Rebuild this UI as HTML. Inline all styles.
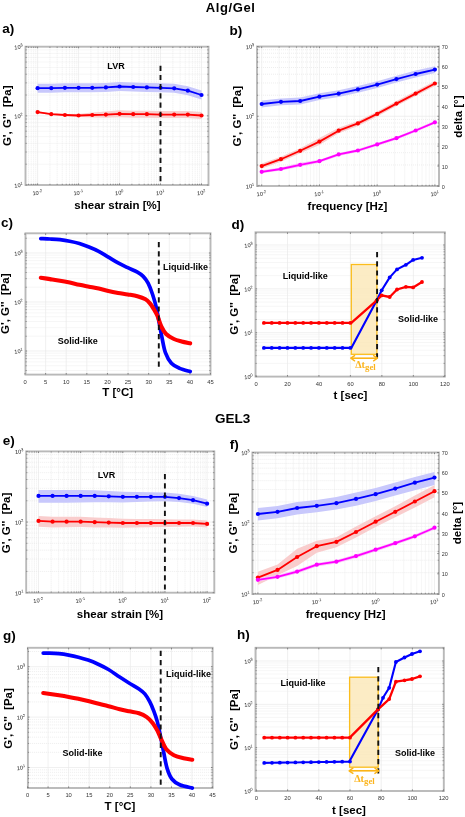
<!DOCTYPE html>
<html><head><meta charset="utf-8"><style>
html,body{margin:0;padding:0;background:#fff;width:465px;height:817px;overflow:hidden}
svg{display:block;filter:blur(0.42px)}
</style></head><body>
<svg width="465" height="817" viewBox="0 0 465 817" font-family="Liberation Sans, sans-serif">
<text x="230.6" y="11.5" font-size="13" text-anchor="middle" font-weight="bold" fill="#000" font-family="Liberation Sans" letter-spacing="0.6">Alg/Gel</text>
<text x="232.7" y="422.9" font-size="13.5" text-anchor="middle" font-weight="bold" fill="#000" font-family="Liberation Sans" style="white-space:pre">GEL3</text>
<line x1="28.51" y1="46.7" x2="28.51" y2="185" stroke="#e3e3e3" stroke-width="0.6" stroke-dasharray="1,1"/>
<line x1="31.25" y1="46.7" x2="31.25" y2="185" stroke="#e3e3e3" stroke-width="0.6" stroke-dasharray="1,1"/>
<line x1="33.63" y1="46.7" x2="33.63" y2="185" stroke="#e3e3e3" stroke-width="0.6" stroke-dasharray="1,1"/>
<line x1="35.73" y1="46.7" x2="35.73" y2="185" stroke="#e3e3e3" stroke-width="0.6" stroke-dasharray="1,1"/>
<line x1="49.93" y1="46.7" x2="49.93" y2="185" stroke="#e3e3e3" stroke-width="0.6" stroke-dasharray="1,1"/>
<line x1="57.15" y1="46.7" x2="57.15" y2="185" stroke="#e3e3e3" stroke-width="0.6" stroke-dasharray="1,1"/>
<line x1="62.27" y1="46.7" x2="62.27" y2="185" stroke="#e3e3e3" stroke-width="0.6" stroke-dasharray="1,1"/>
<line x1="66.24" y1="46.7" x2="66.24" y2="185" stroke="#e3e3e3" stroke-width="0.6" stroke-dasharray="1,1"/>
<line x1="69.48" y1="46.7" x2="69.48" y2="185" stroke="#e3e3e3" stroke-width="0.6" stroke-dasharray="1,1"/>
<line x1="72.23" y1="46.7" x2="72.23" y2="185" stroke="#e3e3e3" stroke-width="0.6" stroke-dasharray="1,1"/>
<line x1="74.6" y1="46.7" x2="74.6" y2="185" stroke="#e3e3e3" stroke-width="0.6" stroke-dasharray="1,1"/>
<line x1="76.7" y1="46.7" x2="76.7" y2="185" stroke="#e3e3e3" stroke-width="0.6" stroke-dasharray="1,1"/>
<line x1="90.91" y1="46.7" x2="90.91" y2="185" stroke="#e3e3e3" stroke-width="0.6" stroke-dasharray="1,1"/>
<line x1="98.13" y1="46.7" x2="98.13" y2="185" stroke="#e3e3e3" stroke-width="0.6" stroke-dasharray="1,1"/>
<line x1="103.24" y1="46.7" x2="103.24" y2="185" stroke="#e3e3e3" stroke-width="0.6" stroke-dasharray="1,1"/>
<line x1="107.22" y1="46.7" x2="107.22" y2="185" stroke="#e3e3e3" stroke-width="0.6" stroke-dasharray="1,1"/>
<line x1="110.46" y1="46.7" x2="110.46" y2="185" stroke="#e3e3e3" stroke-width="0.6" stroke-dasharray="1,1"/>
<line x1="113.2" y1="46.7" x2="113.2" y2="185" stroke="#e3e3e3" stroke-width="0.6" stroke-dasharray="1,1"/>
<line x1="115.58" y1="46.7" x2="115.58" y2="185" stroke="#e3e3e3" stroke-width="0.6" stroke-dasharray="1,1"/>
<line x1="117.68" y1="46.7" x2="117.68" y2="185" stroke="#e3e3e3" stroke-width="0.6" stroke-dasharray="1,1"/>
<line x1="131.88" y1="46.7" x2="131.88" y2="185" stroke="#e3e3e3" stroke-width="0.6" stroke-dasharray="1,1"/>
<line x1="139.1" y1="46.7" x2="139.1" y2="185" stroke="#e3e3e3" stroke-width="0.6" stroke-dasharray="1,1"/>
<line x1="144.22" y1="46.7" x2="144.22" y2="185" stroke="#e3e3e3" stroke-width="0.6" stroke-dasharray="1,1"/>
<line x1="148.19" y1="46.7" x2="148.19" y2="185" stroke="#e3e3e3" stroke-width="0.6" stroke-dasharray="1,1"/>
<line x1="151.43" y1="46.7" x2="151.43" y2="185" stroke="#e3e3e3" stroke-width="0.6" stroke-dasharray="1,1"/>
<line x1="154.18" y1="46.7" x2="154.18" y2="185" stroke="#e3e3e3" stroke-width="0.6" stroke-dasharray="1,1"/>
<line x1="156.55" y1="46.7" x2="156.55" y2="185" stroke="#e3e3e3" stroke-width="0.6" stroke-dasharray="1,1"/>
<line x1="158.65" y1="46.7" x2="158.65" y2="185" stroke="#e3e3e3" stroke-width="0.6" stroke-dasharray="1,1"/>
<line x1="172.86" y1="46.7" x2="172.86" y2="185" stroke="#e3e3e3" stroke-width="0.6" stroke-dasharray="1,1"/>
<line x1="180.08" y1="46.7" x2="180.08" y2="185" stroke="#e3e3e3" stroke-width="0.6" stroke-dasharray="1,1"/>
<line x1="185.19" y1="46.7" x2="185.19" y2="185" stroke="#e3e3e3" stroke-width="0.6" stroke-dasharray="1,1"/>
<line x1="189.17" y1="46.7" x2="189.17" y2="185" stroke="#e3e3e3" stroke-width="0.6" stroke-dasharray="1,1"/>
<line x1="192.41" y1="46.7" x2="192.41" y2="185" stroke="#e3e3e3" stroke-width="0.6" stroke-dasharray="1,1"/>
<line x1="195.15" y1="46.7" x2="195.15" y2="185" stroke="#e3e3e3" stroke-width="0.6" stroke-dasharray="1,1"/>
<line x1="197.53" y1="46.7" x2="197.53" y2="185" stroke="#e3e3e3" stroke-width="0.6" stroke-dasharray="1,1"/>
<line x1="199.63" y1="46.7" x2="199.63" y2="185" stroke="#e3e3e3" stroke-width="0.6" stroke-dasharray="1,1"/>
<line x1="25.5" y1="164.18" x2="208.5" y2="164.18" stroke="#e3e3e3" stroke-width="0.6" stroke-dasharray="1,1"/>
<line x1="25.5" y1="152.01" x2="208.5" y2="152.01" stroke="#e3e3e3" stroke-width="0.6" stroke-dasharray="1,1"/>
<line x1="25.5" y1="143.37" x2="208.5" y2="143.37" stroke="#e3e3e3" stroke-width="0.6" stroke-dasharray="1,1"/>
<line x1="25.5" y1="136.67" x2="208.5" y2="136.67" stroke="#e3e3e3" stroke-width="0.6" stroke-dasharray="1,1"/>
<line x1="25.5" y1="131.19" x2="208.5" y2="131.19" stroke="#e3e3e3" stroke-width="0.6" stroke-dasharray="1,1"/>
<line x1="25.5" y1="126.56" x2="208.5" y2="126.56" stroke="#e3e3e3" stroke-width="0.6" stroke-dasharray="1,1"/>
<line x1="25.5" y1="122.55" x2="208.5" y2="122.55" stroke="#e3e3e3" stroke-width="0.6" stroke-dasharray="1,1"/>
<line x1="25.5" y1="119.01" x2="208.5" y2="119.01" stroke="#e3e3e3" stroke-width="0.6" stroke-dasharray="1,1"/>
<line x1="25.5" y1="95.03" x2="208.5" y2="95.03" stroke="#e3e3e3" stroke-width="0.6" stroke-dasharray="1,1"/>
<line x1="25.5" y1="82.86" x2="208.5" y2="82.86" stroke="#e3e3e3" stroke-width="0.6" stroke-dasharray="1,1"/>
<line x1="25.5" y1="74.22" x2="208.5" y2="74.22" stroke="#e3e3e3" stroke-width="0.6" stroke-dasharray="1,1"/>
<line x1="25.5" y1="67.52" x2="208.5" y2="67.52" stroke="#e3e3e3" stroke-width="0.6" stroke-dasharray="1,1"/>
<line x1="25.5" y1="62.04" x2="208.5" y2="62.04" stroke="#e3e3e3" stroke-width="0.6" stroke-dasharray="1,1"/>
<line x1="25.5" y1="57.41" x2="208.5" y2="57.41" stroke="#e3e3e3" stroke-width="0.6" stroke-dasharray="1,1"/>
<line x1="25.5" y1="53.4" x2="208.5" y2="53.4" stroke="#e3e3e3" stroke-width="0.6" stroke-dasharray="1,1"/>
<line x1="25.5" y1="49.86" x2="208.5" y2="49.86" stroke="#e3e3e3" stroke-width="0.6" stroke-dasharray="1,1"/>
<line x1="37.6" y1="46.7" x2="37.6" y2="185" stroke="#e9e9e9" stroke-width="0.7"/>
<line x1="78.58" y1="46.7" x2="78.58" y2="185" stroke="#e9e9e9" stroke-width="0.7"/>
<line x1="119.55" y1="46.7" x2="119.55" y2="185" stroke="#e9e9e9" stroke-width="0.7"/>
<line x1="160.53" y1="46.7" x2="160.53" y2="185" stroke="#e9e9e9" stroke-width="0.7"/>
<line x1="201.5" y1="46.7" x2="201.5" y2="185" stroke="#e9e9e9" stroke-width="0.7"/>
<line x1="25.5" y1="115.85" x2="208.5" y2="115.85" stroke="#e9e9e9" stroke-width="0.7"/>
<rect x="25.5" y="46.7" width="183" height="138.3" fill="none" stroke="#b9b9b9" stroke-width="1.9"/>
<line x1="37.6" y1="185" x2="37.6" y2="183.4" stroke="#7a7a7a" stroke-width="0.9"/>
<line x1="37.6" y1="46.7" x2="37.6" y2="48.3" stroke="#7a7a7a" stroke-width="0.9"/>
<line x1="78.58" y1="185" x2="78.58" y2="183.4" stroke="#7a7a7a" stroke-width="0.9"/>
<line x1="78.58" y1="46.7" x2="78.58" y2="48.3" stroke="#7a7a7a" stroke-width="0.9"/>
<line x1="119.55" y1="185" x2="119.55" y2="183.4" stroke="#7a7a7a" stroke-width="0.9"/>
<line x1="119.55" y1="46.7" x2="119.55" y2="48.3" stroke="#7a7a7a" stroke-width="0.9"/>
<line x1="160.53" y1="185" x2="160.53" y2="183.4" stroke="#7a7a7a" stroke-width="0.9"/>
<line x1="160.53" y1="46.7" x2="160.53" y2="48.3" stroke="#7a7a7a" stroke-width="0.9"/>
<line x1="201.5" y1="185" x2="201.5" y2="183.4" stroke="#7a7a7a" stroke-width="0.9"/>
<line x1="201.5" y1="46.7" x2="201.5" y2="48.3" stroke="#7a7a7a" stroke-width="0.9"/>
<line x1="25.5" y1="185" x2="27.1" y2="185" stroke="#7a7a7a" stroke-width="0.9"/>
<line x1="208.5" y1="185" x2="206.9" y2="185" stroke="#7a7a7a" stroke-width="0.9"/>
<line x1="25.5" y1="115.85" x2="27.1" y2="115.85" stroke="#7a7a7a" stroke-width="0.9"/>
<line x1="208.5" y1="115.85" x2="206.9" y2="115.85" stroke="#7a7a7a" stroke-width="0.9"/>
<line x1="25.5" y1="46.7" x2="27.1" y2="46.7" stroke="#7a7a7a" stroke-width="0.9"/>
<line x1="208.5" y1="46.7" x2="206.9" y2="46.7" stroke="#7a7a7a" stroke-width="0.9"/>
<line x1="28.51" y1="185" x2="28.51" y2="183.8" stroke="#7a7a7a" stroke-width="0.8"/>
<line x1="28.51" y1="46.7" x2="28.51" y2="47.9" stroke="#7a7a7a" stroke-width="0.8"/>
<line x1="31.25" y1="185" x2="31.25" y2="183.8" stroke="#7a7a7a" stroke-width="0.8"/>
<line x1="31.25" y1="46.7" x2="31.25" y2="47.9" stroke="#7a7a7a" stroke-width="0.8"/>
<line x1="33.63" y1="185" x2="33.63" y2="183.8" stroke="#7a7a7a" stroke-width="0.8"/>
<line x1="33.63" y1="46.7" x2="33.63" y2="47.9" stroke="#7a7a7a" stroke-width="0.8"/>
<line x1="35.73" y1="185" x2="35.73" y2="183.8" stroke="#7a7a7a" stroke-width="0.8"/>
<line x1="35.73" y1="46.7" x2="35.73" y2="47.9" stroke="#7a7a7a" stroke-width="0.8"/>
<line x1="49.93" y1="185" x2="49.93" y2="183.8" stroke="#7a7a7a" stroke-width="0.8"/>
<line x1="49.93" y1="46.7" x2="49.93" y2="47.9" stroke="#7a7a7a" stroke-width="0.8"/>
<line x1="57.15" y1="185" x2="57.15" y2="183.8" stroke="#7a7a7a" stroke-width="0.8"/>
<line x1="57.15" y1="46.7" x2="57.15" y2="47.9" stroke="#7a7a7a" stroke-width="0.8"/>
<line x1="62.27" y1="185" x2="62.27" y2="183.8" stroke="#7a7a7a" stroke-width="0.8"/>
<line x1="62.27" y1="46.7" x2="62.27" y2="47.9" stroke="#7a7a7a" stroke-width="0.8"/>
<line x1="66.24" y1="185" x2="66.24" y2="183.8" stroke="#7a7a7a" stroke-width="0.8"/>
<line x1="66.24" y1="46.7" x2="66.24" y2="47.9" stroke="#7a7a7a" stroke-width="0.8"/>
<line x1="69.48" y1="185" x2="69.48" y2="183.8" stroke="#7a7a7a" stroke-width="0.8"/>
<line x1="69.48" y1="46.7" x2="69.48" y2="47.9" stroke="#7a7a7a" stroke-width="0.8"/>
<line x1="72.23" y1="185" x2="72.23" y2="183.8" stroke="#7a7a7a" stroke-width="0.8"/>
<line x1="72.23" y1="46.7" x2="72.23" y2="47.9" stroke="#7a7a7a" stroke-width="0.8"/>
<line x1="74.6" y1="185" x2="74.6" y2="183.8" stroke="#7a7a7a" stroke-width="0.8"/>
<line x1="74.6" y1="46.7" x2="74.6" y2="47.9" stroke="#7a7a7a" stroke-width="0.8"/>
<line x1="76.7" y1="185" x2="76.7" y2="183.8" stroke="#7a7a7a" stroke-width="0.8"/>
<line x1="76.7" y1="46.7" x2="76.7" y2="47.9" stroke="#7a7a7a" stroke-width="0.8"/>
<line x1="90.91" y1="185" x2="90.91" y2="183.8" stroke="#7a7a7a" stroke-width="0.8"/>
<line x1="90.91" y1="46.7" x2="90.91" y2="47.9" stroke="#7a7a7a" stroke-width="0.8"/>
<line x1="98.13" y1="185" x2="98.13" y2="183.8" stroke="#7a7a7a" stroke-width="0.8"/>
<line x1="98.13" y1="46.7" x2="98.13" y2="47.9" stroke="#7a7a7a" stroke-width="0.8"/>
<line x1="103.24" y1="185" x2="103.24" y2="183.8" stroke="#7a7a7a" stroke-width="0.8"/>
<line x1="103.24" y1="46.7" x2="103.24" y2="47.9" stroke="#7a7a7a" stroke-width="0.8"/>
<line x1="107.22" y1="185" x2="107.22" y2="183.8" stroke="#7a7a7a" stroke-width="0.8"/>
<line x1="107.22" y1="46.7" x2="107.22" y2="47.9" stroke="#7a7a7a" stroke-width="0.8"/>
<line x1="110.46" y1="185" x2="110.46" y2="183.8" stroke="#7a7a7a" stroke-width="0.8"/>
<line x1="110.46" y1="46.7" x2="110.46" y2="47.9" stroke="#7a7a7a" stroke-width="0.8"/>
<line x1="113.2" y1="185" x2="113.2" y2="183.8" stroke="#7a7a7a" stroke-width="0.8"/>
<line x1="113.2" y1="46.7" x2="113.2" y2="47.9" stroke="#7a7a7a" stroke-width="0.8"/>
<line x1="115.58" y1="185" x2="115.58" y2="183.8" stroke="#7a7a7a" stroke-width="0.8"/>
<line x1="115.58" y1="46.7" x2="115.58" y2="47.9" stroke="#7a7a7a" stroke-width="0.8"/>
<line x1="117.68" y1="185" x2="117.68" y2="183.8" stroke="#7a7a7a" stroke-width="0.8"/>
<line x1="117.68" y1="46.7" x2="117.68" y2="47.9" stroke="#7a7a7a" stroke-width="0.8"/>
<line x1="131.88" y1="185" x2="131.88" y2="183.8" stroke="#7a7a7a" stroke-width="0.8"/>
<line x1="131.88" y1="46.7" x2="131.88" y2="47.9" stroke="#7a7a7a" stroke-width="0.8"/>
<line x1="139.1" y1="185" x2="139.1" y2="183.8" stroke="#7a7a7a" stroke-width="0.8"/>
<line x1="139.1" y1="46.7" x2="139.1" y2="47.9" stroke="#7a7a7a" stroke-width="0.8"/>
<line x1="144.22" y1="185" x2="144.22" y2="183.8" stroke="#7a7a7a" stroke-width="0.8"/>
<line x1="144.22" y1="46.7" x2="144.22" y2="47.9" stroke="#7a7a7a" stroke-width="0.8"/>
<line x1="148.19" y1="185" x2="148.19" y2="183.8" stroke="#7a7a7a" stroke-width="0.8"/>
<line x1="148.19" y1="46.7" x2="148.19" y2="47.9" stroke="#7a7a7a" stroke-width="0.8"/>
<line x1="151.43" y1="185" x2="151.43" y2="183.8" stroke="#7a7a7a" stroke-width="0.8"/>
<line x1="151.43" y1="46.7" x2="151.43" y2="47.9" stroke="#7a7a7a" stroke-width="0.8"/>
<line x1="154.18" y1="185" x2="154.18" y2="183.8" stroke="#7a7a7a" stroke-width="0.8"/>
<line x1="154.18" y1="46.7" x2="154.18" y2="47.9" stroke="#7a7a7a" stroke-width="0.8"/>
<line x1="156.55" y1="185" x2="156.55" y2="183.8" stroke="#7a7a7a" stroke-width="0.8"/>
<line x1="156.55" y1="46.7" x2="156.55" y2="47.9" stroke="#7a7a7a" stroke-width="0.8"/>
<line x1="158.65" y1="185" x2="158.65" y2="183.8" stroke="#7a7a7a" stroke-width="0.8"/>
<line x1="158.65" y1="46.7" x2="158.65" y2="47.9" stroke="#7a7a7a" stroke-width="0.8"/>
<line x1="172.86" y1="185" x2="172.86" y2="183.8" stroke="#7a7a7a" stroke-width="0.8"/>
<line x1="172.86" y1="46.7" x2="172.86" y2="47.9" stroke="#7a7a7a" stroke-width="0.8"/>
<line x1="180.08" y1="185" x2="180.08" y2="183.8" stroke="#7a7a7a" stroke-width="0.8"/>
<line x1="180.08" y1="46.7" x2="180.08" y2="47.9" stroke="#7a7a7a" stroke-width="0.8"/>
<line x1="185.19" y1="185" x2="185.19" y2="183.8" stroke="#7a7a7a" stroke-width="0.8"/>
<line x1="185.19" y1="46.7" x2="185.19" y2="47.9" stroke="#7a7a7a" stroke-width="0.8"/>
<line x1="189.17" y1="185" x2="189.17" y2="183.8" stroke="#7a7a7a" stroke-width="0.8"/>
<line x1="189.17" y1="46.7" x2="189.17" y2="47.9" stroke="#7a7a7a" stroke-width="0.8"/>
<line x1="192.41" y1="185" x2="192.41" y2="183.8" stroke="#7a7a7a" stroke-width="0.8"/>
<line x1="192.41" y1="46.7" x2="192.41" y2="47.9" stroke="#7a7a7a" stroke-width="0.8"/>
<line x1="195.15" y1="185" x2="195.15" y2="183.8" stroke="#7a7a7a" stroke-width="0.8"/>
<line x1="195.15" y1="46.7" x2="195.15" y2="47.9" stroke="#7a7a7a" stroke-width="0.8"/>
<line x1="197.53" y1="185" x2="197.53" y2="183.8" stroke="#7a7a7a" stroke-width="0.8"/>
<line x1="197.53" y1="46.7" x2="197.53" y2="47.9" stroke="#7a7a7a" stroke-width="0.8"/>
<line x1="199.63" y1="185" x2="199.63" y2="183.8" stroke="#7a7a7a" stroke-width="0.8"/>
<line x1="199.63" y1="46.7" x2="199.63" y2="47.9" stroke="#7a7a7a" stroke-width="0.8"/>
<line x1="25.5" y1="164.18" x2="26.7" y2="164.18" stroke="#7a7a7a" stroke-width="0.8"/>
<line x1="208.5" y1="164.18" x2="207.3" y2="164.18" stroke="#7a7a7a" stroke-width="0.8"/>
<line x1="25.5" y1="152.01" x2="26.7" y2="152.01" stroke="#7a7a7a" stroke-width="0.8"/>
<line x1="208.5" y1="152.01" x2="207.3" y2="152.01" stroke="#7a7a7a" stroke-width="0.8"/>
<line x1="25.5" y1="143.37" x2="26.7" y2="143.37" stroke="#7a7a7a" stroke-width="0.8"/>
<line x1="208.5" y1="143.37" x2="207.3" y2="143.37" stroke="#7a7a7a" stroke-width="0.8"/>
<line x1="25.5" y1="136.67" x2="26.7" y2="136.67" stroke="#7a7a7a" stroke-width="0.8"/>
<line x1="208.5" y1="136.67" x2="207.3" y2="136.67" stroke="#7a7a7a" stroke-width="0.8"/>
<line x1="25.5" y1="131.19" x2="26.7" y2="131.19" stroke="#7a7a7a" stroke-width="0.8"/>
<line x1="208.5" y1="131.19" x2="207.3" y2="131.19" stroke="#7a7a7a" stroke-width="0.8"/>
<line x1="25.5" y1="126.56" x2="26.7" y2="126.56" stroke="#7a7a7a" stroke-width="0.8"/>
<line x1="208.5" y1="126.56" x2="207.3" y2="126.56" stroke="#7a7a7a" stroke-width="0.8"/>
<line x1="25.5" y1="122.55" x2="26.7" y2="122.55" stroke="#7a7a7a" stroke-width="0.8"/>
<line x1="208.5" y1="122.55" x2="207.3" y2="122.55" stroke="#7a7a7a" stroke-width="0.8"/>
<line x1="25.5" y1="119.01" x2="26.7" y2="119.01" stroke="#7a7a7a" stroke-width="0.8"/>
<line x1="208.5" y1="119.01" x2="207.3" y2="119.01" stroke="#7a7a7a" stroke-width="0.8"/>
<line x1="25.5" y1="95.03" x2="26.7" y2="95.03" stroke="#7a7a7a" stroke-width="0.8"/>
<line x1="208.5" y1="95.03" x2="207.3" y2="95.03" stroke="#7a7a7a" stroke-width="0.8"/>
<line x1="25.5" y1="82.86" x2="26.7" y2="82.86" stroke="#7a7a7a" stroke-width="0.8"/>
<line x1="208.5" y1="82.86" x2="207.3" y2="82.86" stroke="#7a7a7a" stroke-width="0.8"/>
<line x1="25.5" y1="74.22" x2="26.7" y2="74.22" stroke="#7a7a7a" stroke-width="0.8"/>
<line x1="208.5" y1="74.22" x2="207.3" y2="74.22" stroke="#7a7a7a" stroke-width="0.8"/>
<line x1="25.5" y1="67.52" x2="26.7" y2="67.52" stroke="#7a7a7a" stroke-width="0.8"/>
<line x1="208.5" y1="67.52" x2="207.3" y2="67.52" stroke="#7a7a7a" stroke-width="0.8"/>
<line x1="25.5" y1="62.04" x2="26.7" y2="62.04" stroke="#7a7a7a" stroke-width="0.8"/>
<line x1="208.5" y1="62.04" x2="207.3" y2="62.04" stroke="#7a7a7a" stroke-width="0.8"/>
<line x1="25.5" y1="57.41" x2="26.7" y2="57.41" stroke="#7a7a7a" stroke-width="0.8"/>
<line x1="208.5" y1="57.41" x2="207.3" y2="57.41" stroke="#7a7a7a" stroke-width="0.8"/>
<line x1="25.5" y1="53.4" x2="26.7" y2="53.4" stroke="#7a7a7a" stroke-width="0.8"/>
<line x1="208.5" y1="53.4" x2="207.3" y2="53.4" stroke="#7a7a7a" stroke-width="0.8"/>
<line x1="25.5" y1="49.86" x2="26.7" y2="49.86" stroke="#7a7a7a" stroke-width="0.8"/>
<line x1="208.5" y1="49.86" x2="207.3" y2="49.86" stroke="#7a7a7a" stroke-width="0.8"/>
<polygon points="37.6,83.7 51.26,83.7 64.92,83.3 78.58,83.3 92.23,83.3 105.89,82.9 119.55,82 133.21,82.5 146.87,82.9 160.53,83.3 174.18,83.8 187.84,86.2 201.5,90.5 201.5,99.5 187.84,95.2 174.18,92.8 160.53,92.3 146.87,91.9 133.21,91.5 119.55,91 105.89,91.9 92.23,92.3 78.58,92.3 64.92,92.3 51.26,92.7 37.6,92.7" fill="#c8c8fc" fill-opacity="1.0"/>
<polygon points="37.6,111.3 51.26,113.4 64.92,114 78.58,114 92.23,112.5 105.89,111.4 119.55,110.3 133.21,110.7 146.87,110.7 160.53,111.1 174.18,111.1 187.84,111.1 201.5,112 201.5,119 187.84,118.1 174.18,118.1 160.53,118.1 146.87,117.7 133.21,117.7 119.55,117.3 105.89,117.8 92.23,117.5 78.58,117 64.92,116 51.26,115 37.6,112.9" fill="#f9cdcd" fill-opacity="1.0"/>
<polyline points="37.6,88.2 51.26,88.2 64.92,87.8 78.58,87.8 92.23,87.8 105.89,87.4 119.55,86.5 133.21,87 146.87,87.4 160.53,87.8 174.18,88.3 187.84,90.7 201.5,95" fill="none" stroke="#0000ff" stroke-width="1.8" stroke-linejoin="round" stroke-linecap="round"/>
<circle cx="37.6" cy="88.2" r="2.1" fill="#0000ff"/>
<circle cx="51.26" cy="88.2" r="2.1" fill="#0000ff"/>
<circle cx="64.92" cy="87.8" r="2.1" fill="#0000ff"/>
<circle cx="78.58" cy="87.8" r="2.1" fill="#0000ff"/>
<circle cx="92.23" cy="87.8" r="2.1" fill="#0000ff"/>
<circle cx="105.89" cy="87.4" r="2.1" fill="#0000ff"/>
<circle cx="119.55" cy="86.5" r="2.1" fill="#0000ff"/>
<circle cx="133.21" cy="87" r="2.1" fill="#0000ff"/>
<circle cx="146.87" cy="87.4" r="2.1" fill="#0000ff"/>
<circle cx="160.53" cy="87.8" r="2.1" fill="#0000ff"/>
<circle cx="174.18" cy="88.3" r="2.1" fill="#0000ff"/>
<circle cx="187.84" cy="90.7" r="2.1" fill="#0000ff"/>
<circle cx="201.5" cy="95" r="2.1" fill="#0000ff"/>
<polyline points="37.6,112.1 51.26,114.2 64.92,115 78.58,115.5 92.23,115 105.89,114.6 119.55,113.8 133.21,114.2 146.87,114.2 160.53,114.6 174.18,114.6 187.84,114.6 201.5,115.5" fill="none" stroke="#ff0000" stroke-width="1.8" stroke-linejoin="round" stroke-linecap="round"/>
<circle cx="37.6" cy="112.1" r="2.1" fill="#ff0000"/>
<circle cx="51.26" cy="114.2" r="2.1" fill="#ff0000"/>
<circle cx="64.92" cy="115" r="2.1" fill="#ff0000"/>
<circle cx="78.58" cy="115.5" r="2.1" fill="#ff0000"/>
<circle cx="92.23" cy="115" r="2.1" fill="#ff0000"/>
<circle cx="105.89" cy="114.6" r="2.1" fill="#ff0000"/>
<circle cx="119.55" cy="113.8" r="2.1" fill="#ff0000"/>
<circle cx="133.21" cy="114.2" r="2.1" fill="#ff0000"/>
<circle cx="146.87" cy="114.2" r="2.1" fill="#ff0000"/>
<circle cx="160.53" cy="114.6" r="2.1" fill="#ff0000"/>
<circle cx="174.18" cy="114.6" r="2.1" fill="#ff0000"/>
<circle cx="187.84" cy="114.6" r="2.1" fill="#ff0000"/>
<circle cx="201.5" cy="115.5" r="2.1" fill="#ff0000"/>
<line x1="160.5" y1="65.7" x2="160.5" y2="183" stroke="#111" stroke-width="1.9" stroke-dasharray="5.2,4"/>
<text x="116" y="68.7" font-size="9" text-anchor="middle" font-weight="bold" fill="#000" font-family="Liberation Sans" style="white-space:pre">LVR</text>
<text x="37.6" y="194.7" font-size="5.6" text-anchor="middle" font-weight="normal" fill="#1a1a1a" font-family="Liberation Sans" transform="rotate(-6 37.6 194.7)" style="white-space:pre">10<tspan font-size="4.03" dy="-2.2">-2</tspan></text>
<text x="78.58" y="194.7" font-size="5.6" text-anchor="middle" font-weight="normal" fill="#1a1a1a" font-family="Liberation Sans" transform="rotate(-6 78.58 194.7)" style="white-space:pre">10<tspan font-size="4.03" dy="-2.2">-1</tspan></text>
<text x="119.55" y="194.7" font-size="5.6" text-anchor="middle" font-weight="normal" fill="#1a1a1a" font-family="Liberation Sans" transform="rotate(-6 119.55 194.7)" style="white-space:pre">10<tspan font-size="4.03" dy="-2.2">0</tspan></text>
<text x="160.53" y="194.7" font-size="5.6" text-anchor="middle" font-weight="normal" fill="#1a1a1a" font-family="Liberation Sans" transform="rotate(-6 160.53 194.7)" style="white-space:pre">10<tspan font-size="4.03" dy="-2.2">1</tspan></text>
<text x="201.5" y="194.7" font-size="5.6" text-anchor="middle" font-weight="normal" fill="#1a1a1a" font-family="Liberation Sans" transform="rotate(-6 201.5 194.7)" style="white-space:pre">10<tspan font-size="4.03" dy="-2.2">2</tspan></text>
<text x="23" y="186.8" font-size="5.6" text-anchor="end" font-weight="normal" fill="#1a1a1a" font-family="Liberation Sans" transform="rotate(-6 23 186.8)" style="white-space:pre">10<tspan font-size="4.03" dy="-2.2">1</tspan></text>
<text x="23" y="117.65" font-size="5.6" text-anchor="end" font-weight="normal" fill="#1a1a1a" font-family="Liberation Sans" transform="rotate(-6 23 117.65)" style="white-space:pre">10<tspan font-size="4.03" dy="-2.2">2</tspan></text>
<text x="23" y="48.5" font-size="5.6" text-anchor="end" font-weight="normal" fill="#1a1a1a" font-family="Liberation Sans" transform="rotate(-6 23 48.5)" style="white-space:pre">10<tspan font-size="4.03" dy="-2.2">3</tspan></text>
<text x="117.5" y="209" font-size="11.5" text-anchor="middle" font-weight="bold" fill="#000" font-family="Liberation Sans" style="white-space:pre">shear strain [%]</text>
<text x="11" y="115.8" font-size="11.5" text-anchor="middle" font-weight="bold" fill="#000" font-family="Liberation Sans" transform="rotate(-90 11 115.8)" style="white-space:pre">G', G''  [Pa]</text>
<text x="2.3" y="32.8" font-size="13.5" text-anchor="start" font-weight="bold" fill="#000" font-family="Liberation Sans" style="white-space:pre">a)</text>
<line x1="29.15" y1="451.4" x2="29.15" y2="592.7" stroke="#e3e3e3" stroke-width="0.6" stroke-dasharray="1,1"/>
<line x1="31.97" y1="451.4" x2="31.97" y2="592.7" stroke="#e3e3e3" stroke-width="0.6" stroke-dasharray="1,1"/>
<line x1="34.42" y1="451.4" x2="34.42" y2="592.7" stroke="#e3e3e3" stroke-width="0.6" stroke-dasharray="1,1"/>
<line x1="36.57" y1="451.4" x2="36.57" y2="592.7" stroke="#e3e3e3" stroke-width="0.6" stroke-dasharray="1,1"/>
<line x1="51.19" y1="451.4" x2="51.19" y2="592.7" stroke="#e3e3e3" stroke-width="0.6" stroke-dasharray="1,1"/>
<line x1="58.61" y1="451.4" x2="58.61" y2="592.7" stroke="#e3e3e3" stroke-width="0.6" stroke-dasharray="1,1"/>
<line x1="63.88" y1="451.4" x2="63.88" y2="592.7" stroke="#e3e3e3" stroke-width="0.6" stroke-dasharray="1,1"/>
<line x1="67.96" y1="451.4" x2="67.96" y2="592.7" stroke="#e3e3e3" stroke-width="0.6" stroke-dasharray="1,1"/>
<line x1="71.3" y1="451.4" x2="71.3" y2="592.7" stroke="#e3e3e3" stroke-width="0.6" stroke-dasharray="1,1"/>
<line x1="74.12" y1="451.4" x2="74.12" y2="592.7" stroke="#e3e3e3" stroke-width="0.6" stroke-dasharray="1,1"/>
<line x1="76.57" y1="451.4" x2="76.57" y2="592.7" stroke="#e3e3e3" stroke-width="0.6" stroke-dasharray="1,1"/>
<line x1="78.72" y1="451.4" x2="78.72" y2="592.7" stroke="#e3e3e3" stroke-width="0.6" stroke-dasharray="1,1"/>
<line x1="93.34" y1="451.4" x2="93.34" y2="592.7" stroke="#e3e3e3" stroke-width="0.6" stroke-dasharray="1,1"/>
<line x1="100.76" y1="451.4" x2="100.76" y2="592.7" stroke="#e3e3e3" stroke-width="0.6" stroke-dasharray="1,1"/>
<line x1="106.03" y1="451.4" x2="106.03" y2="592.7" stroke="#e3e3e3" stroke-width="0.6" stroke-dasharray="1,1"/>
<line x1="110.11" y1="451.4" x2="110.11" y2="592.7" stroke="#e3e3e3" stroke-width="0.6" stroke-dasharray="1,1"/>
<line x1="113.45" y1="451.4" x2="113.45" y2="592.7" stroke="#e3e3e3" stroke-width="0.6" stroke-dasharray="1,1"/>
<line x1="116.27" y1="451.4" x2="116.27" y2="592.7" stroke="#e3e3e3" stroke-width="0.6" stroke-dasharray="1,1"/>
<line x1="118.72" y1="451.4" x2="118.72" y2="592.7" stroke="#e3e3e3" stroke-width="0.6" stroke-dasharray="1,1"/>
<line x1="120.87" y1="451.4" x2="120.87" y2="592.7" stroke="#e3e3e3" stroke-width="0.6" stroke-dasharray="1,1"/>
<line x1="135.49" y1="451.4" x2="135.49" y2="592.7" stroke="#e3e3e3" stroke-width="0.6" stroke-dasharray="1,1"/>
<line x1="142.91" y1="451.4" x2="142.91" y2="592.7" stroke="#e3e3e3" stroke-width="0.6" stroke-dasharray="1,1"/>
<line x1="148.18" y1="451.4" x2="148.18" y2="592.7" stroke="#e3e3e3" stroke-width="0.6" stroke-dasharray="1,1"/>
<line x1="152.26" y1="451.4" x2="152.26" y2="592.7" stroke="#e3e3e3" stroke-width="0.6" stroke-dasharray="1,1"/>
<line x1="155.6" y1="451.4" x2="155.6" y2="592.7" stroke="#e3e3e3" stroke-width="0.6" stroke-dasharray="1,1"/>
<line x1="158.42" y1="451.4" x2="158.42" y2="592.7" stroke="#e3e3e3" stroke-width="0.6" stroke-dasharray="1,1"/>
<line x1="160.87" y1="451.4" x2="160.87" y2="592.7" stroke="#e3e3e3" stroke-width="0.6" stroke-dasharray="1,1"/>
<line x1="163.02" y1="451.4" x2="163.02" y2="592.7" stroke="#e3e3e3" stroke-width="0.6" stroke-dasharray="1,1"/>
<line x1="177.64" y1="451.4" x2="177.64" y2="592.7" stroke="#e3e3e3" stroke-width="0.6" stroke-dasharray="1,1"/>
<line x1="185.06" y1="451.4" x2="185.06" y2="592.7" stroke="#e3e3e3" stroke-width="0.6" stroke-dasharray="1,1"/>
<line x1="190.33" y1="451.4" x2="190.33" y2="592.7" stroke="#e3e3e3" stroke-width="0.6" stroke-dasharray="1,1"/>
<line x1="194.41" y1="451.4" x2="194.41" y2="592.7" stroke="#e3e3e3" stroke-width="0.6" stroke-dasharray="1,1"/>
<line x1="197.75" y1="451.4" x2="197.75" y2="592.7" stroke="#e3e3e3" stroke-width="0.6" stroke-dasharray="1,1"/>
<line x1="200.57" y1="451.4" x2="200.57" y2="592.7" stroke="#e3e3e3" stroke-width="0.6" stroke-dasharray="1,1"/>
<line x1="203.02" y1="451.4" x2="203.02" y2="592.7" stroke="#e3e3e3" stroke-width="0.6" stroke-dasharray="1,1"/>
<line x1="205.17" y1="451.4" x2="205.17" y2="592.7" stroke="#e3e3e3" stroke-width="0.6" stroke-dasharray="1,1"/>
<line x1="26.2" y1="571.43" x2="214.3" y2="571.43" stroke="#e3e3e3" stroke-width="0.6" stroke-dasharray="1,1"/>
<line x1="26.2" y1="558.99" x2="214.3" y2="558.99" stroke="#e3e3e3" stroke-width="0.6" stroke-dasharray="1,1"/>
<line x1="26.2" y1="550.16" x2="214.3" y2="550.16" stroke="#e3e3e3" stroke-width="0.6" stroke-dasharray="1,1"/>
<line x1="26.2" y1="543.32" x2="214.3" y2="543.32" stroke="#e3e3e3" stroke-width="0.6" stroke-dasharray="1,1"/>
<line x1="26.2" y1="537.72" x2="214.3" y2="537.72" stroke="#e3e3e3" stroke-width="0.6" stroke-dasharray="1,1"/>
<line x1="26.2" y1="532.99" x2="214.3" y2="532.99" stroke="#e3e3e3" stroke-width="0.6" stroke-dasharray="1,1"/>
<line x1="26.2" y1="528.9" x2="214.3" y2="528.9" stroke="#e3e3e3" stroke-width="0.6" stroke-dasharray="1,1"/>
<line x1="26.2" y1="525.28" x2="214.3" y2="525.28" stroke="#e3e3e3" stroke-width="0.6" stroke-dasharray="1,1"/>
<line x1="26.2" y1="500.78" x2="214.3" y2="500.78" stroke="#e3e3e3" stroke-width="0.6" stroke-dasharray="1,1"/>
<line x1="26.2" y1="488.34" x2="214.3" y2="488.34" stroke="#e3e3e3" stroke-width="0.6" stroke-dasharray="1,1"/>
<line x1="26.2" y1="479.51" x2="214.3" y2="479.51" stroke="#e3e3e3" stroke-width="0.6" stroke-dasharray="1,1"/>
<line x1="26.2" y1="472.67" x2="214.3" y2="472.67" stroke="#e3e3e3" stroke-width="0.6" stroke-dasharray="1,1"/>
<line x1="26.2" y1="467.07" x2="214.3" y2="467.07" stroke="#e3e3e3" stroke-width="0.6" stroke-dasharray="1,1"/>
<line x1="26.2" y1="462.34" x2="214.3" y2="462.34" stroke="#e3e3e3" stroke-width="0.6" stroke-dasharray="1,1"/>
<line x1="26.2" y1="458.25" x2="214.3" y2="458.25" stroke="#e3e3e3" stroke-width="0.6" stroke-dasharray="1,1"/>
<line x1="26.2" y1="454.63" x2="214.3" y2="454.63" stroke="#e3e3e3" stroke-width="0.6" stroke-dasharray="1,1"/>
<line x1="38.5" y1="451.4" x2="38.5" y2="592.7" stroke="#e9e9e9" stroke-width="0.7"/>
<line x1="80.65" y1="451.4" x2="80.65" y2="592.7" stroke="#e9e9e9" stroke-width="0.7"/>
<line x1="122.8" y1="451.4" x2="122.8" y2="592.7" stroke="#e9e9e9" stroke-width="0.7"/>
<line x1="164.95" y1="451.4" x2="164.95" y2="592.7" stroke="#e9e9e9" stroke-width="0.7"/>
<line x1="207.1" y1="451.4" x2="207.1" y2="592.7" stroke="#e9e9e9" stroke-width="0.7"/>
<line x1="26.2" y1="522.05" x2="214.3" y2="522.05" stroke="#e9e9e9" stroke-width="0.7"/>
<rect x="26.2" y="451.4" width="188.1" height="141.3" fill="none" stroke="#b9b9b9" stroke-width="1.9"/>
<line x1="38.5" y1="592.7" x2="38.5" y2="591.1" stroke="#7a7a7a" stroke-width="0.9"/>
<line x1="38.5" y1="451.4" x2="38.5" y2="453" stroke="#7a7a7a" stroke-width="0.9"/>
<line x1="80.65" y1="592.7" x2="80.65" y2="591.1" stroke="#7a7a7a" stroke-width="0.9"/>
<line x1="80.65" y1="451.4" x2="80.65" y2="453" stroke="#7a7a7a" stroke-width="0.9"/>
<line x1="122.8" y1="592.7" x2="122.8" y2="591.1" stroke="#7a7a7a" stroke-width="0.9"/>
<line x1="122.8" y1="451.4" x2="122.8" y2="453" stroke="#7a7a7a" stroke-width="0.9"/>
<line x1="164.95" y1="592.7" x2="164.95" y2="591.1" stroke="#7a7a7a" stroke-width="0.9"/>
<line x1="164.95" y1="451.4" x2="164.95" y2="453" stroke="#7a7a7a" stroke-width="0.9"/>
<line x1="207.1" y1="592.7" x2="207.1" y2="591.1" stroke="#7a7a7a" stroke-width="0.9"/>
<line x1="207.1" y1="451.4" x2="207.1" y2="453" stroke="#7a7a7a" stroke-width="0.9"/>
<line x1="26.2" y1="592.7" x2="27.8" y2="592.7" stroke="#7a7a7a" stroke-width="0.9"/>
<line x1="214.3" y1="592.7" x2="212.7" y2="592.7" stroke="#7a7a7a" stroke-width="0.9"/>
<line x1="26.2" y1="522.05" x2="27.8" y2="522.05" stroke="#7a7a7a" stroke-width="0.9"/>
<line x1="214.3" y1="522.05" x2="212.7" y2="522.05" stroke="#7a7a7a" stroke-width="0.9"/>
<line x1="26.2" y1="451.4" x2="27.8" y2="451.4" stroke="#7a7a7a" stroke-width="0.9"/>
<line x1="214.3" y1="451.4" x2="212.7" y2="451.4" stroke="#7a7a7a" stroke-width="0.9"/>
<line x1="29.15" y1="592.7" x2="29.15" y2="591.5" stroke="#7a7a7a" stroke-width="0.8"/>
<line x1="29.15" y1="451.4" x2="29.15" y2="452.6" stroke="#7a7a7a" stroke-width="0.8"/>
<line x1="31.97" y1="592.7" x2="31.97" y2="591.5" stroke="#7a7a7a" stroke-width="0.8"/>
<line x1="31.97" y1="451.4" x2="31.97" y2="452.6" stroke="#7a7a7a" stroke-width="0.8"/>
<line x1="34.42" y1="592.7" x2="34.42" y2="591.5" stroke="#7a7a7a" stroke-width="0.8"/>
<line x1="34.42" y1="451.4" x2="34.42" y2="452.6" stroke="#7a7a7a" stroke-width="0.8"/>
<line x1="36.57" y1="592.7" x2="36.57" y2="591.5" stroke="#7a7a7a" stroke-width="0.8"/>
<line x1="36.57" y1="451.4" x2="36.57" y2="452.6" stroke="#7a7a7a" stroke-width="0.8"/>
<line x1="51.19" y1="592.7" x2="51.19" y2="591.5" stroke="#7a7a7a" stroke-width="0.8"/>
<line x1="51.19" y1="451.4" x2="51.19" y2="452.6" stroke="#7a7a7a" stroke-width="0.8"/>
<line x1="58.61" y1="592.7" x2="58.61" y2="591.5" stroke="#7a7a7a" stroke-width="0.8"/>
<line x1="58.61" y1="451.4" x2="58.61" y2="452.6" stroke="#7a7a7a" stroke-width="0.8"/>
<line x1="63.88" y1="592.7" x2="63.88" y2="591.5" stroke="#7a7a7a" stroke-width="0.8"/>
<line x1="63.88" y1="451.4" x2="63.88" y2="452.6" stroke="#7a7a7a" stroke-width="0.8"/>
<line x1="67.96" y1="592.7" x2="67.96" y2="591.5" stroke="#7a7a7a" stroke-width="0.8"/>
<line x1="67.96" y1="451.4" x2="67.96" y2="452.6" stroke="#7a7a7a" stroke-width="0.8"/>
<line x1="71.3" y1="592.7" x2="71.3" y2="591.5" stroke="#7a7a7a" stroke-width="0.8"/>
<line x1="71.3" y1="451.4" x2="71.3" y2="452.6" stroke="#7a7a7a" stroke-width="0.8"/>
<line x1="74.12" y1="592.7" x2="74.12" y2="591.5" stroke="#7a7a7a" stroke-width="0.8"/>
<line x1="74.12" y1="451.4" x2="74.12" y2="452.6" stroke="#7a7a7a" stroke-width="0.8"/>
<line x1="76.57" y1="592.7" x2="76.57" y2="591.5" stroke="#7a7a7a" stroke-width="0.8"/>
<line x1="76.57" y1="451.4" x2="76.57" y2="452.6" stroke="#7a7a7a" stroke-width="0.8"/>
<line x1="78.72" y1="592.7" x2="78.72" y2="591.5" stroke="#7a7a7a" stroke-width="0.8"/>
<line x1="78.72" y1="451.4" x2="78.72" y2="452.6" stroke="#7a7a7a" stroke-width="0.8"/>
<line x1="93.34" y1="592.7" x2="93.34" y2="591.5" stroke="#7a7a7a" stroke-width="0.8"/>
<line x1="93.34" y1="451.4" x2="93.34" y2="452.6" stroke="#7a7a7a" stroke-width="0.8"/>
<line x1="100.76" y1="592.7" x2="100.76" y2="591.5" stroke="#7a7a7a" stroke-width="0.8"/>
<line x1="100.76" y1="451.4" x2="100.76" y2="452.6" stroke="#7a7a7a" stroke-width="0.8"/>
<line x1="106.03" y1="592.7" x2="106.03" y2="591.5" stroke="#7a7a7a" stroke-width="0.8"/>
<line x1="106.03" y1="451.4" x2="106.03" y2="452.6" stroke="#7a7a7a" stroke-width="0.8"/>
<line x1="110.11" y1="592.7" x2="110.11" y2="591.5" stroke="#7a7a7a" stroke-width="0.8"/>
<line x1="110.11" y1="451.4" x2="110.11" y2="452.6" stroke="#7a7a7a" stroke-width="0.8"/>
<line x1="113.45" y1="592.7" x2="113.45" y2="591.5" stroke="#7a7a7a" stroke-width="0.8"/>
<line x1="113.45" y1="451.4" x2="113.45" y2="452.6" stroke="#7a7a7a" stroke-width="0.8"/>
<line x1="116.27" y1="592.7" x2="116.27" y2="591.5" stroke="#7a7a7a" stroke-width="0.8"/>
<line x1="116.27" y1="451.4" x2="116.27" y2="452.6" stroke="#7a7a7a" stroke-width="0.8"/>
<line x1="118.72" y1="592.7" x2="118.72" y2="591.5" stroke="#7a7a7a" stroke-width="0.8"/>
<line x1="118.72" y1="451.4" x2="118.72" y2="452.6" stroke="#7a7a7a" stroke-width="0.8"/>
<line x1="120.87" y1="592.7" x2="120.87" y2="591.5" stroke="#7a7a7a" stroke-width="0.8"/>
<line x1="120.87" y1="451.4" x2="120.87" y2="452.6" stroke="#7a7a7a" stroke-width="0.8"/>
<line x1="135.49" y1="592.7" x2="135.49" y2="591.5" stroke="#7a7a7a" stroke-width="0.8"/>
<line x1="135.49" y1="451.4" x2="135.49" y2="452.6" stroke="#7a7a7a" stroke-width="0.8"/>
<line x1="142.91" y1="592.7" x2="142.91" y2="591.5" stroke="#7a7a7a" stroke-width="0.8"/>
<line x1="142.91" y1="451.4" x2="142.91" y2="452.6" stroke="#7a7a7a" stroke-width="0.8"/>
<line x1="148.18" y1="592.7" x2="148.18" y2="591.5" stroke="#7a7a7a" stroke-width="0.8"/>
<line x1="148.18" y1="451.4" x2="148.18" y2="452.6" stroke="#7a7a7a" stroke-width="0.8"/>
<line x1="152.26" y1="592.7" x2="152.26" y2="591.5" stroke="#7a7a7a" stroke-width="0.8"/>
<line x1="152.26" y1="451.4" x2="152.26" y2="452.6" stroke="#7a7a7a" stroke-width="0.8"/>
<line x1="155.6" y1="592.7" x2="155.6" y2="591.5" stroke="#7a7a7a" stroke-width="0.8"/>
<line x1="155.6" y1="451.4" x2="155.6" y2="452.6" stroke="#7a7a7a" stroke-width="0.8"/>
<line x1="158.42" y1="592.7" x2="158.42" y2="591.5" stroke="#7a7a7a" stroke-width="0.8"/>
<line x1="158.42" y1="451.4" x2="158.42" y2="452.6" stroke="#7a7a7a" stroke-width="0.8"/>
<line x1="160.87" y1="592.7" x2="160.87" y2="591.5" stroke="#7a7a7a" stroke-width="0.8"/>
<line x1="160.87" y1="451.4" x2="160.87" y2="452.6" stroke="#7a7a7a" stroke-width="0.8"/>
<line x1="163.02" y1="592.7" x2="163.02" y2="591.5" stroke="#7a7a7a" stroke-width="0.8"/>
<line x1="163.02" y1="451.4" x2="163.02" y2="452.6" stroke="#7a7a7a" stroke-width="0.8"/>
<line x1="177.64" y1="592.7" x2="177.64" y2="591.5" stroke="#7a7a7a" stroke-width="0.8"/>
<line x1="177.64" y1="451.4" x2="177.64" y2="452.6" stroke="#7a7a7a" stroke-width="0.8"/>
<line x1="185.06" y1="592.7" x2="185.06" y2="591.5" stroke="#7a7a7a" stroke-width="0.8"/>
<line x1="185.06" y1="451.4" x2="185.06" y2="452.6" stroke="#7a7a7a" stroke-width="0.8"/>
<line x1="190.33" y1="592.7" x2="190.33" y2="591.5" stroke="#7a7a7a" stroke-width="0.8"/>
<line x1="190.33" y1="451.4" x2="190.33" y2="452.6" stroke="#7a7a7a" stroke-width="0.8"/>
<line x1="194.41" y1="592.7" x2="194.41" y2="591.5" stroke="#7a7a7a" stroke-width="0.8"/>
<line x1="194.41" y1="451.4" x2="194.41" y2="452.6" stroke="#7a7a7a" stroke-width="0.8"/>
<line x1="197.75" y1="592.7" x2="197.75" y2="591.5" stroke="#7a7a7a" stroke-width="0.8"/>
<line x1="197.75" y1="451.4" x2="197.75" y2="452.6" stroke="#7a7a7a" stroke-width="0.8"/>
<line x1="200.57" y1="592.7" x2="200.57" y2="591.5" stroke="#7a7a7a" stroke-width="0.8"/>
<line x1="200.57" y1="451.4" x2="200.57" y2="452.6" stroke="#7a7a7a" stroke-width="0.8"/>
<line x1="203.02" y1="592.7" x2="203.02" y2="591.5" stroke="#7a7a7a" stroke-width="0.8"/>
<line x1="203.02" y1="451.4" x2="203.02" y2="452.6" stroke="#7a7a7a" stroke-width="0.8"/>
<line x1="205.17" y1="592.7" x2="205.17" y2="591.5" stroke="#7a7a7a" stroke-width="0.8"/>
<line x1="205.17" y1="451.4" x2="205.17" y2="452.6" stroke="#7a7a7a" stroke-width="0.8"/>
<line x1="26.2" y1="571.43" x2="27.4" y2="571.43" stroke="#7a7a7a" stroke-width="0.8"/>
<line x1="214.3" y1="571.43" x2="213.1" y2="571.43" stroke="#7a7a7a" stroke-width="0.8"/>
<line x1="26.2" y1="558.99" x2="27.4" y2="558.99" stroke="#7a7a7a" stroke-width="0.8"/>
<line x1="214.3" y1="558.99" x2="213.1" y2="558.99" stroke="#7a7a7a" stroke-width="0.8"/>
<line x1="26.2" y1="550.16" x2="27.4" y2="550.16" stroke="#7a7a7a" stroke-width="0.8"/>
<line x1="214.3" y1="550.16" x2="213.1" y2="550.16" stroke="#7a7a7a" stroke-width="0.8"/>
<line x1="26.2" y1="543.32" x2="27.4" y2="543.32" stroke="#7a7a7a" stroke-width="0.8"/>
<line x1="214.3" y1="543.32" x2="213.1" y2="543.32" stroke="#7a7a7a" stroke-width="0.8"/>
<line x1="26.2" y1="537.72" x2="27.4" y2="537.72" stroke="#7a7a7a" stroke-width="0.8"/>
<line x1="214.3" y1="537.72" x2="213.1" y2="537.72" stroke="#7a7a7a" stroke-width="0.8"/>
<line x1="26.2" y1="532.99" x2="27.4" y2="532.99" stroke="#7a7a7a" stroke-width="0.8"/>
<line x1="214.3" y1="532.99" x2="213.1" y2="532.99" stroke="#7a7a7a" stroke-width="0.8"/>
<line x1="26.2" y1="528.9" x2="27.4" y2="528.9" stroke="#7a7a7a" stroke-width="0.8"/>
<line x1="214.3" y1="528.9" x2="213.1" y2="528.9" stroke="#7a7a7a" stroke-width="0.8"/>
<line x1="26.2" y1="525.28" x2="27.4" y2="525.28" stroke="#7a7a7a" stroke-width="0.8"/>
<line x1="214.3" y1="525.28" x2="213.1" y2="525.28" stroke="#7a7a7a" stroke-width="0.8"/>
<line x1="26.2" y1="500.78" x2="27.4" y2="500.78" stroke="#7a7a7a" stroke-width="0.8"/>
<line x1="214.3" y1="500.78" x2="213.1" y2="500.78" stroke="#7a7a7a" stroke-width="0.8"/>
<line x1="26.2" y1="488.34" x2="27.4" y2="488.34" stroke="#7a7a7a" stroke-width="0.8"/>
<line x1="214.3" y1="488.34" x2="213.1" y2="488.34" stroke="#7a7a7a" stroke-width="0.8"/>
<line x1="26.2" y1="479.51" x2="27.4" y2="479.51" stroke="#7a7a7a" stroke-width="0.8"/>
<line x1="214.3" y1="479.51" x2="213.1" y2="479.51" stroke="#7a7a7a" stroke-width="0.8"/>
<line x1="26.2" y1="472.67" x2="27.4" y2="472.67" stroke="#7a7a7a" stroke-width="0.8"/>
<line x1="214.3" y1="472.67" x2="213.1" y2="472.67" stroke="#7a7a7a" stroke-width="0.8"/>
<line x1="26.2" y1="467.07" x2="27.4" y2="467.07" stroke="#7a7a7a" stroke-width="0.8"/>
<line x1="214.3" y1="467.07" x2="213.1" y2="467.07" stroke="#7a7a7a" stroke-width="0.8"/>
<line x1="26.2" y1="462.34" x2="27.4" y2="462.34" stroke="#7a7a7a" stroke-width="0.8"/>
<line x1="214.3" y1="462.34" x2="213.1" y2="462.34" stroke="#7a7a7a" stroke-width="0.8"/>
<line x1="26.2" y1="458.25" x2="27.4" y2="458.25" stroke="#7a7a7a" stroke-width="0.8"/>
<line x1="214.3" y1="458.25" x2="213.1" y2="458.25" stroke="#7a7a7a" stroke-width="0.8"/>
<line x1="26.2" y1="454.63" x2="27.4" y2="454.63" stroke="#7a7a7a" stroke-width="0.8"/>
<line x1="214.3" y1="454.63" x2="213.1" y2="454.63" stroke="#7a7a7a" stroke-width="0.8"/>
<polygon points="38.5,489.9 52.55,489.9 66.6,489.9 80.65,490.1 94.7,490.3 108.75,490.9 122.8,491.7 136.85,492 150.9,492.2 164.95,492.4 179,493.8 193.05,495.9 207.1,499.4 207.1,506.9 193.05,503.7 179,502.1 164.95,501.2 150.9,501.6 136.85,502 122.8,502.4 108.75,502.3 94.7,502.2 80.65,502.5 66.6,502.7 52.55,502.8 38.5,502.8" fill="#c8c8fc" fill-opacity="1.0"/>
<polygon points="38.5,515.9 52.55,516.7 66.6,516.7 80.65,516.8 94.7,517.5 108.75,518.1 122.8,518.7 136.85,518.9 150.9,519.1 164.95,519.3 179,519.5 193.05,519.5 207.1,520.4 207.1,527.4 193.05,526.5 179,526.8 164.95,527 150.9,527.2 136.85,527.5 122.8,527.8 108.75,527.6 94.7,527.4 80.65,527.1 66.6,527.3 52.55,527.4 38.5,526.7" fill="#f9cdcd" fill-opacity="1.0"/>
<polyline points="38.5,495.9 52.55,495.9 66.6,495.9 80.65,495.9 94.7,495.9 108.75,496.3 122.8,496.8 136.85,496.8 150.9,496.8 164.95,496.8 179,498.1 193.05,500.2 207.1,503.7" fill="none" stroke="#0000ff" stroke-width="1.8" stroke-linejoin="round" stroke-linecap="round"/>
<circle cx="38.5" cy="495.9" r="2.1" fill="#0000ff"/>
<circle cx="52.55" cy="495.9" r="2.1" fill="#0000ff"/>
<circle cx="66.6" cy="495.9" r="2.1" fill="#0000ff"/>
<circle cx="80.65" cy="495.9" r="2.1" fill="#0000ff"/>
<circle cx="94.7" cy="495.9" r="2.1" fill="#0000ff"/>
<circle cx="108.75" cy="496.3" r="2.1" fill="#0000ff"/>
<circle cx="122.8" cy="496.8" r="2.1" fill="#0000ff"/>
<circle cx="136.85" cy="496.8" r="2.1" fill="#0000ff"/>
<circle cx="150.9" cy="496.8" r="2.1" fill="#0000ff"/>
<circle cx="164.95" cy="496.8" r="2.1" fill="#0000ff"/>
<circle cx="179" cy="498.1" r="2.1" fill="#0000ff"/>
<circle cx="193.05" cy="500.2" r="2.1" fill="#0000ff"/>
<circle cx="207.1" cy="503.7" r="2.1" fill="#0000ff"/>
<polyline points="38.5,520.9 52.55,521.7 66.6,521.7 80.65,521.7 94.7,522.2 108.75,522.6 122.8,523 136.85,523 150.9,523 164.95,523 179,523 193.05,523 207.1,523.9" fill="none" stroke="#ff0000" stroke-width="1.8" stroke-linejoin="round" stroke-linecap="round"/>
<circle cx="38.5" cy="520.9" r="2.1" fill="#ff0000"/>
<circle cx="52.55" cy="521.7" r="2.1" fill="#ff0000"/>
<circle cx="66.6" cy="521.7" r="2.1" fill="#ff0000"/>
<circle cx="80.65" cy="521.7" r="2.1" fill="#ff0000"/>
<circle cx="94.7" cy="522.2" r="2.1" fill="#ff0000"/>
<circle cx="108.75" cy="522.6" r="2.1" fill="#ff0000"/>
<circle cx="122.8" cy="523" r="2.1" fill="#ff0000"/>
<circle cx="136.85" cy="523" r="2.1" fill="#ff0000"/>
<circle cx="150.9" cy="523" r="2.1" fill="#ff0000"/>
<circle cx="164.95" cy="523" r="2.1" fill="#ff0000"/>
<circle cx="179" cy="523" r="2.1" fill="#ff0000"/>
<circle cx="193.05" cy="523" r="2.1" fill="#ff0000"/>
<circle cx="207.1" cy="523.9" r="2.1" fill="#ff0000"/>
<line x1="164.9" y1="474" x2="164.9" y2="593" stroke="#111" stroke-width="1.9" stroke-dasharray="5.2,4"/>
<text x="106.5" y="477.5" font-size="9" text-anchor="middle" font-weight="bold" fill="#000" font-family="Liberation Sans" style="white-space:pre">LVR</text>
<text x="38.5" y="602.4" font-size="5.6" text-anchor="middle" font-weight="normal" fill="#1a1a1a" font-family="Liberation Sans" transform="rotate(-6 38.5 602.4)" style="white-space:pre">10<tspan font-size="4.03" dy="-2.2">-2</tspan></text>
<text x="80.65" y="602.4" font-size="5.6" text-anchor="middle" font-weight="normal" fill="#1a1a1a" font-family="Liberation Sans" transform="rotate(-6 80.65 602.4)" style="white-space:pre">10<tspan font-size="4.03" dy="-2.2">-1</tspan></text>
<text x="122.8" y="602.4" font-size="5.6" text-anchor="middle" font-weight="normal" fill="#1a1a1a" font-family="Liberation Sans" transform="rotate(-6 122.8 602.4)" style="white-space:pre">10<tspan font-size="4.03" dy="-2.2">0</tspan></text>
<text x="164.95" y="602.4" font-size="5.6" text-anchor="middle" font-weight="normal" fill="#1a1a1a" font-family="Liberation Sans" transform="rotate(-6 164.95 602.4)" style="white-space:pre">10<tspan font-size="4.03" dy="-2.2">1</tspan></text>
<text x="207.1" y="602.4" font-size="5.6" text-anchor="middle" font-weight="normal" fill="#1a1a1a" font-family="Liberation Sans" transform="rotate(-6 207.1 602.4)" style="white-space:pre">10<tspan font-size="4.03" dy="-2.2">2</tspan></text>
<text x="23.7" y="594.5" font-size="5.6" text-anchor="end" font-weight="normal" fill="#1a1a1a" font-family="Liberation Sans" transform="rotate(-6 23.7 594.5)" style="white-space:pre">10<tspan font-size="4.03" dy="-2.2">1</tspan></text>
<text x="23.7" y="523.85" font-size="5.6" text-anchor="end" font-weight="normal" fill="#1a1a1a" font-family="Liberation Sans" transform="rotate(-6 23.7 523.85)" style="white-space:pre">10<tspan font-size="4.03" dy="-2.2">2</tspan></text>
<text x="23.7" y="453.2" font-size="5.6" text-anchor="end" font-weight="normal" fill="#1a1a1a" font-family="Liberation Sans" transform="rotate(-6 23.7 453.2)" style="white-space:pre">10<tspan font-size="4.03" dy="-2.2">3</tspan></text>
<text x="120" y="617.5" font-size="11.5" text-anchor="middle" font-weight="bold" fill="#000" font-family="Liberation Sans" style="white-space:pre">shear strain [%]</text>
<text x="10" y="523" font-size="11.5" text-anchor="middle" font-weight="bold" fill="#000" font-family="Liberation Sans" transform="rotate(-90 10 523)" style="white-space:pre">G', G''  [Pa]</text>
<text x="2.8" y="445" font-size="13.5" text-anchor="start" font-weight="bold" fill="#000" font-family="Liberation Sans" style="white-space:pre">e)</text>
<line x1="259.06" y1="46.5" x2="259.06" y2="186" stroke="#e3e3e3" stroke-width="0.6" stroke-dasharray="1,1"/>
<line x1="279.08" y1="46.5" x2="279.08" y2="186" stroke="#e3e3e3" stroke-width="0.6" stroke-dasharray="1,1"/>
<line x1="289.25" y1="46.5" x2="289.25" y2="186" stroke="#e3e3e3" stroke-width="0.6" stroke-dasharray="1,1"/>
<line x1="296.46" y1="46.5" x2="296.46" y2="186" stroke="#e3e3e3" stroke-width="0.6" stroke-dasharray="1,1"/>
<line x1="302.05" y1="46.5" x2="302.05" y2="186" stroke="#e3e3e3" stroke-width="0.6" stroke-dasharray="1,1"/>
<line x1="306.63" y1="46.5" x2="306.63" y2="186" stroke="#e3e3e3" stroke-width="0.6" stroke-dasharray="1,1"/>
<line x1="310.49" y1="46.5" x2="310.49" y2="186" stroke="#e3e3e3" stroke-width="0.6" stroke-dasharray="1,1"/>
<line x1="313.84" y1="46.5" x2="313.84" y2="186" stroke="#e3e3e3" stroke-width="0.6" stroke-dasharray="1,1"/>
<line x1="316.79" y1="46.5" x2="316.79" y2="186" stroke="#e3e3e3" stroke-width="0.6" stroke-dasharray="1,1"/>
<line x1="336.81" y1="46.5" x2="336.81" y2="186" stroke="#e3e3e3" stroke-width="0.6" stroke-dasharray="1,1"/>
<line x1="346.98" y1="46.5" x2="346.98" y2="186" stroke="#e3e3e3" stroke-width="0.6" stroke-dasharray="1,1"/>
<line x1="354.19" y1="46.5" x2="354.19" y2="186" stroke="#e3e3e3" stroke-width="0.6" stroke-dasharray="1,1"/>
<line x1="359.79" y1="46.5" x2="359.79" y2="186" stroke="#e3e3e3" stroke-width="0.6" stroke-dasharray="1,1"/>
<line x1="364.36" y1="46.5" x2="364.36" y2="186" stroke="#e3e3e3" stroke-width="0.6" stroke-dasharray="1,1"/>
<line x1="368.22" y1="46.5" x2="368.22" y2="186" stroke="#e3e3e3" stroke-width="0.6" stroke-dasharray="1,1"/>
<line x1="371.57" y1="46.5" x2="371.57" y2="186" stroke="#e3e3e3" stroke-width="0.6" stroke-dasharray="1,1"/>
<line x1="374.52" y1="46.5" x2="374.52" y2="186" stroke="#e3e3e3" stroke-width="0.6" stroke-dasharray="1,1"/>
<line x1="394.55" y1="46.5" x2="394.55" y2="186" stroke="#e3e3e3" stroke-width="0.6" stroke-dasharray="1,1"/>
<line x1="404.71" y1="46.5" x2="404.71" y2="186" stroke="#e3e3e3" stroke-width="0.6" stroke-dasharray="1,1"/>
<line x1="411.93" y1="46.5" x2="411.93" y2="186" stroke="#e3e3e3" stroke-width="0.6" stroke-dasharray="1,1"/>
<line x1="417.52" y1="46.5" x2="417.52" y2="186" stroke="#e3e3e3" stroke-width="0.6" stroke-dasharray="1,1"/>
<line x1="422.09" y1="46.5" x2="422.09" y2="186" stroke="#e3e3e3" stroke-width="0.6" stroke-dasharray="1,1"/>
<line x1="425.96" y1="46.5" x2="425.96" y2="186" stroke="#e3e3e3" stroke-width="0.6" stroke-dasharray="1,1"/>
<line x1="429.31" y1="46.5" x2="429.31" y2="186" stroke="#e3e3e3" stroke-width="0.6" stroke-dasharray="1,1"/>
<line x1="432.26" y1="46.5" x2="432.26" y2="186" stroke="#e3e3e3" stroke-width="0.6" stroke-dasharray="1,1"/>
<line x1="257" y1="165" x2="439" y2="165" stroke="#e3e3e3" stroke-width="0.6" stroke-dasharray="1,1"/>
<line x1="257" y1="152.72" x2="439" y2="152.72" stroke="#e3e3e3" stroke-width="0.6" stroke-dasharray="1,1"/>
<line x1="257" y1="144.01" x2="439" y2="144.01" stroke="#e3e3e3" stroke-width="0.6" stroke-dasharray="1,1"/>
<line x1="257" y1="137.25" x2="439" y2="137.25" stroke="#e3e3e3" stroke-width="0.6" stroke-dasharray="1,1"/>
<line x1="257" y1="131.72" x2="439" y2="131.72" stroke="#e3e3e3" stroke-width="0.6" stroke-dasharray="1,1"/>
<line x1="257" y1="127.05" x2="439" y2="127.05" stroke="#e3e3e3" stroke-width="0.6" stroke-dasharray="1,1"/>
<line x1="257" y1="123.01" x2="439" y2="123.01" stroke="#e3e3e3" stroke-width="0.6" stroke-dasharray="1,1"/>
<line x1="257" y1="119.44" x2="439" y2="119.44" stroke="#e3e3e3" stroke-width="0.6" stroke-dasharray="1,1"/>
<line x1="257" y1="95.25" x2="439" y2="95.25" stroke="#e3e3e3" stroke-width="0.6" stroke-dasharray="1,1"/>
<line x1="257" y1="82.97" x2="439" y2="82.97" stroke="#e3e3e3" stroke-width="0.6" stroke-dasharray="1,1"/>
<line x1="257" y1="74.26" x2="439" y2="74.26" stroke="#e3e3e3" stroke-width="0.6" stroke-dasharray="1,1"/>
<line x1="257" y1="67.5" x2="439" y2="67.5" stroke="#e3e3e3" stroke-width="0.6" stroke-dasharray="1,1"/>
<line x1="257" y1="61.97" x2="439" y2="61.97" stroke="#e3e3e3" stroke-width="0.6" stroke-dasharray="1,1"/>
<line x1="257" y1="57.3" x2="439" y2="57.3" stroke="#e3e3e3" stroke-width="0.6" stroke-dasharray="1,1"/>
<line x1="257" y1="53.26" x2="439" y2="53.26" stroke="#e3e3e3" stroke-width="0.6" stroke-dasharray="1,1"/>
<line x1="257" y1="49.69" x2="439" y2="49.69" stroke="#e3e3e3" stroke-width="0.6" stroke-dasharray="1,1"/>
<line x1="261.7" y1="46.5" x2="261.7" y2="186" stroke="#e9e9e9" stroke-width="0.7"/>
<line x1="319.43" y1="46.5" x2="319.43" y2="186" stroke="#e9e9e9" stroke-width="0.7"/>
<line x1="377.17" y1="46.5" x2="377.17" y2="186" stroke="#e9e9e9" stroke-width="0.7"/>
<line x1="434.9" y1="46.5" x2="434.9" y2="186" stroke="#e9e9e9" stroke-width="0.7"/>
<line x1="257" y1="116.25" x2="439" y2="116.25" stroke="#e9e9e9" stroke-width="0.7"/>
<rect x="257" y="46.5" width="182" height="139.5" fill="none" stroke="#b9b9b9" stroke-width="1.9"/>
<line x1="261.7" y1="186" x2="261.7" y2="184.4" stroke="#7a7a7a" stroke-width="0.9"/>
<line x1="261.7" y1="46.5" x2="261.7" y2="48.1" stroke="#7a7a7a" stroke-width="0.9"/>
<line x1="319.43" y1="186" x2="319.43" y2="184.4" stroke="#7a7a7a" stroke-width="0.9"/>
<line x1="319.43" y1="46.5" x2="319.43" y2="48.1" stroke="#7a7a7a" stroke-width="0.9"/>
<line x1="377.17" y1="186" x2="377.17" y2="184.4" stroke="#7a7a7a" stroke-width="0.9"/>
<line x1="377.17" y1="46.5" x2="377.17" y2="48.1" stroke="#7a7a7a" stroke-width="0.9"/>
<line x1="434.9" y1="186" x2="434.9" y2="184.4" stroke="#7a7a7a" stroke-width="0.9"/>
<line x1="434.9" y1="46.5" x2="434.9" y2="48.1" stroke="#7a7a7a" stroke-width="0.9"/>
<line x1="257" y1="186" x2="258.6" y2="186" stroke="#7a7a7a" stroke-width="0.9"/>
<line x1="439" y1="186" x2="437.4" y2="186" stroke="#7a7a7a" stroke-width="0.9"/>
<line x1="257" y1="116.25" x2="258.6" y2="116.25" stroke="#7a7a7a" stroke-width="0.9"/>
<line x1="439" y1="116.25" x2="437.4" y2="116.25" stroke="#7a7a7a" stroke-width="0.9"/>
<line x1="257" y1="46.5" x2="258.6" y2="46.5" stroke="#7a7a7a" stroke-width="0.9"/>
<line x1="439" y1="46.5" x2="437.4" y2="46.5" stroke="#7a7a7a" stroke-width="0.9"/>
<line x1="259.06" y1="186" x2="259.06" y2="184.8" stroke="#7a7a7a" stroke-width="0.8"/>
<line x1="259.06" y1="46.5" x2="259.06" y2="47.7" stroke="#7a7a7a" stroke-width="0.8"/>
<line x1="279.08" y1="186" x2="279.08" y2="184.8" stroke="#7a7a7a" stroke-width="0.8"/>
<line x1="279.08" y1="46.5" x2="279.08" y2="47.7" stroke="#7a7a7a" stroke-width="0.8"/>
<line x1="289.25" y1="186" x2="289.25" y2="184.8" stroke="#7a7a7a" stroke-width="0.8"/>
<line x1="289.25" y1="46.5" x2="289.25" y2="47.7" stroke="#7a7a7a" stroke-width="0.8"/>
<line x1="296.46" y1="186" x2="296.46" y2="184.8" stroke="#7a7a7a" stroke-width="0.8"/>
<line x1="296.46" y1="46.5" x2="296.46" y2="47.7" stroke="#7a7a7a" stroke-width="0.8"/>
<line x1="302.05" y1="186" x2="302.05" y2="184.8" stroke="#7a7a7a" stroke-width="0.8"/>
<line x1="302.05" y1="46.5" x2="302.05" y2="47.7" stroke="#7a7a7a" stroke-width="0.8"/>
<line x1="306.63" y1="186" x2="306.63" y2="184.8" stroke="#7a7a7a" stroke-width="0.8"/>
<line x1="306.63" y1="46.5" x2="306.63" y2="47.7" stroke="#7a7a7a" stroke-width="0.8"/>
<line x1="310.49" y1="186" x2="310.49" y2="184.8" stroke="#7a7a7a" stroke-width="0.8"/>
<line x1="310.49" y1="46.5" x2="310.49" y2="47.7" stroke="#7a7a7a" stroke-width="0.8"/>
<line x1="313.84" y1="186" x2="313.84" y2="184.8" stroke="#7a7a7a" stroke-width="0.8"/>
<line x1="313.84" y1="46.5" x2="313.84" y2="47.7" stroke="#7a7a7a" stroke-width="0.8"/>
<line x1="316.79" y1="186" x2="316.79" y2="184.8" stroke="#7a7a7a" stroke-width="0.8"/>
<line x1="316.79" y1="46.5" x2="316.79" y2="47.7" stroke="#7a7a7a" stroke-width="0.8"/>
<line x1="336.81" y1="186" x2="336.81" y2="184.8" stroke="#7a7a7a" stroke-width="0.8"/>
<line x1="336.81" y1="46.5" x2="336.81" y2="47.7" stroke="#7a7a7a" stroke-width="0.8"/>
<line x1="346.98" y1="186" x2="346.98" y2="184.8" stroke="#7a7a7a" stroke-width="0.8"/>
<line x1="346.98" y1="46.5" x2="346.98" y2="47.7" stroke="#7a7a7a" stroke-width="0.8"/>
<line x1="354.19" y1="186" x2="354.19" y2="184.8" stroke="#7a7a7a" stroke-width="0.8"/>
<line x1="354.19" y1="46.5" x2="354.19" y2="47.7" stroke="#7a7a7a" stroke-width="0.8"/>
<line x1="359.79" y1="186" x2="359.79" y2="184.8" stroke="#7a7a7a" stroke-width="0.8"/>
<line x1="359.79" y1="46.5" x2="359.79" y2="47.7" stroke="#7a7a7a" stroke-width="0.8"/>
<line x1="364.36" y1="186" x2="364.36" y2="184.8" stroke="#7a7a7a" stroke-width="0.8"/>
<line x1="364.36" y1="46.5" x2="364.36" y2="47.7" stroke="#7a7a7a" stroke-width="0.8"/>
<line x1="368.22" y1="186" x2="368.22" y2="184.8" stroke="#7a7a7a" stroke-width="0.8"/>
<line x1="368.22" y1="46.5" x2="368.22" y2="47.7" stroke="#7a7a7a" stroke-width="0.8"/>
<line x1="371.57" y1="186" x2="371.57" y2="184.8" stroke="#7a7a7a" stroke-width="0.8"/>
<line x1="371.57" y1="46.5" x2="371.57" y2="47.7" stroke="#7a7a7a" stroke-width="0.8"/>
<line x1="374.52" y1="186" x2="374.52" y2="184.8" stroke="#7a7a7a" stroke-width="0.8"/>
<line x1="374.52" y1="46.5" x2="374.52" y2="47.7" stroke="#7a7a7a" stroke-width="0.8"/>
<line x1="394.55" y1="186" x2="394.55" y2="184.8" stroke="#7a7a7a" stroke-width="0.8"/>
<line x1="394.55" y1="46.5" x2="394.55" y2="47.7" stroke="#7a7a7a" stroke-width="0.8"/>
<line x1="404.71" y1="186" x2="404.71" y2="184.8" stroke="#7a7a7a" stroke-width="0.8"/>
<line x1="404.71" y1="46.5" x2="404.71" y2="47.7" stroke="#7a7a7a" stroke-width="0.8"/>
<line x1="411.93" y1="186" x2="411.93" y2="184.8" stroke="#7a7a7a" stroke-width="0.8"/>
<line x1="411.93" y1="46.5" x2="411.93" y2="47.7" stroke="#7a7a7a" stroke-width="0.8"/>
<line x1="417.52" y1="186" x2="417.52" y2="184.8" stroke="#7a7a7a" stroke-width="0.8"/>
<line x1="417.52" y1="46.5" x2="417.52" y2="47.7" stroke="#7a7a7a" stroke-width="0.8"/>
<line x1="422.09" y1="186" x2="422.09" y2="184.8" stroke="#7a7a7a" stroke-width="0.8"/>
<line x1="422.09" y1="46.5" x2="422.09" y2="47.7" stroke="#7a7a7a" stroke-width="0.8"/>
<line x1="425.96" y1="186" x2="425.96" y2="184.8" stroke="#7a7a7a" stroke-width="0.8"/>
<line x1="425.96" y1="46.5" x2="425.96" y2="47.7" stroke="#7a7a7a" stroke-width="0.8"/>
<line x1="429.31" y1="186" x2="429.31" y2="184.8" stroke="#7a7a7a" stroke-width="0.8"/>
<line x1="429.31" y1="46.5" x2="429.31" y2="47.7" stroke="#7a7a7a" stroke-width="0.8"/>
<line x1="432.26" y1="186" x2="432.26" y2="184.8" stroke="#7a7a7a" stroke-width="0.8"/>
<line x1="432.26" y1="46.5" x2="432.26" y2="47.7" stroke="#7a7a7a" stroke-width="0.8"/>
<line x1="257" y1="165" x2="258.2" y2="165" stroke="#7a7a7a" stroke-width="0.8"/>
<line x1="439" y1="165" x2="437.8" y2="165" stroke="#7a7a7a" stroke-width="0.8"/>
<line x1="257" y1="152.72" x2="258.2" y2="152.72" stroke="#7a7a7a" stroke-width="0.8"/>
<line x1="439" y1="152.72" x2="437.8" y2="152.72" stroke="#7a7a7a" stroke-width="0.8"/>
<line x1="257" y1="144.01" x2="258.2" y2="144.01" stroke="#7a7a7a" stroke-width="0.8"/>
<line x1="439" y1="144.01" x2="437.8" y2="144.01" stroke="#7a7a7a" stroke-width="0.8"/>
<line x1="257" y1="137.25" x2="258.2" y2="137.25" stroke="#7a7a7a" stroke-width="0.8"/>
<line x1="439" y1="137.25" x2="437.8" y2="137.25" stroke="#7a7a7a" stroke-width="0.8"/>
<line x1="257" y1="131.72" x2="258.2" y2="131.72" stroke="#7a7a7a" stroke-width="0.8"/>
<line x1="439" y1="131.72" x2="437.8" y2="131.72" stroke="#7a7a7a" stroke-width="0.8"/>
<line x1="257" y1="127.05" x2="258.2" y2="127.05" stroke="#7a7a7a" stroke-width="0.8"/>
<line x1="439" y1="127.05" x2="437.8" y2="127.05" stroke="#7a7a7a" stroke-width="0.8"/>
<line x1="257" y1="123.01" x2="258.2" y2="123.01" stroke="#7a7a7a" stroke-width="0.8"/>
<line x1="439" y1="123.01" x2="437.8" y2="123.01" stroke="#7a7a7a" stroke-width="0.8"/>
<line x1="257" y1="119.44" x2="258.2" y2="119.44" stroke="#7a7a7a" stroke-width="0.8"/>
<line x1="439" y1="119.44" x2="437.8" y2="119.44" stroke="#7a7a7a" stroke-width="0.8"/>
<line x1="257" y1="95.25" x2="258.2" y2="95.25" stroke="#7a7a7a" stroke-width="0.8"/>
<line x1="439" y1="95.25" x2="437.8" y2="95.25" stroke="#7a7a7a" stroke-width="0.8"/>
<line x1="257" y1="82.97" x2="258.2" y2="82.97" stroke="#7a7a7a" stroke-width="0.8"/>
<line x1="439" y1="82.97" x2="437.8" y2="82.97" stroke="#7a7a7a" stroke-width="0.8"/>
<line x1="257" y1="74.26" x2="258.2" y2="74.26" stroke="#7a7a7a" stroke-width="0.8"/>
<line x1="439" y1="74.26" x2="437.8" y2="74.26" stroke="#7a7a7a" stroke-width="0.8"/>
<line x1="257" y1="67.5" x2="258.2" y2="67.5" stroke="#7a7a7a" stroke-width="0.8"/>
<line x1="439" y1="67.5" x2="437.8" y2="67.5" stroke="#7a7a7a" stroke-width="0.8"/>
<line x1="257" y1="61.97" x2="258.2" y2="61.97" stroke="#7a7a7a" stroke-width="0.8"/>
<line x1="439" y1="61.97" x2="437.8" y2="61.97" stroke="#7a7a7a" stroke-width="0.8"/>
<line x1="257" y1="57.3" x2="258.2" y2="57.3" stroke="#7a7a7a" stroke-width="0.8"/>
<line x1="439" y1="57.3" x2="437.8" y2="57.3" stroke="#7a7a7a" stroke-width="0.8"/>
<line x1="257" y1="53.26" x2="258.2" y2="53.26" stroke="#7a7a7a" stroke-width="0.8"/>
<line x1="439" y1="53.26" x2="437.8" y2="53.26" stroke="#7a7a7a" stroke-width="0.8"/>
<line x1="257" y1="49.69" x2="258.2" y2="49.69" stroke="#7a7a7a" stroke-width="0.8"/>
<line x1="439" y1="49.69" x2="437.8" y2="49.69" stroke="#7a7a7a" stroke-width="0.8"/>
<line x1="439" y1="186" x2="437.4" y2="186" stroke="#7a7a7a" stroke-width="0.9"/>
<text x="441.8" y="188.5" font-size="5.4" text-anchor="start" font-weight="normal" fill="#333" font-family="Liberation Sans" style="white-space:pre">0</text>
<line x1="439" y1="166.07" x2="437.4" y2="166.07" stroke="#7a7a7a" stroke-width="0.9"/>
<text x="441.8" y="168.57" font-size="5.4" text-anchor="start" font-weight="normal" fill="#333" font-family="Liberation Sans" style="white-space:pre">10</text>
<line x1="439" y1="146.14" x2="437.4" y2="146.14" stroke="#7a7a7a" stroke-width="0.9"/>
<text x="441.8" y="148.64" font-size="5.4" text-anchor="start" font-weight="normal" fill="#333" font-family="Liberation Sans" style="white-space:pre">20</text>
<line x1="439" y1="126.21" x2="437.4" y2="126.21" stroke="#7a7a7a" stroke-width="0.9"/>
<text x="441.8" y="128.71" font-size="5.4" text-anchor="start" font-weight="normal" fill="#333" font-family="Liberation Sans" style="white-space:pre">30</text>
<line x1="439" y1="106.29" x2="437.4" y2="106.29" stroke="#7a7a7a" stroke-width="0.9"/>
<text x="441.8" y="108.79" font-size="5.4" text-anchor="start" font-weight="normal" fill="#333" font-family="Liberation Sans" style="white-space:pre">40</text>
<line x1="439" y1="86.36" x2="437.4" y2="86.36" stroke="#7a7a7a" stroke-width="0.9"/>
<text x="441.8" y="88.86" font-size="5.4" text-anchor="start" font-weight="normal" fill="#333" font-family="Liberation Sans" style="white-space:pre">50</text>
<line x1="439" y1="66.43" x2="437.4" y2="66.43" stroke="#7a7a7a" stroke-width="0.9"/>
<text x="441.8" y="68.93" font-size="5.4" text-anchor="start" font-weight="normal" fill="#333" font-family="Liberation Sans" style="white-space:pre">60</text>
<line x1="439" y1="46.5" x2="437.4" y2="46.5" stroke="#7a7a7a" stroke-width="0.9"/>
<text x="441.8" y="49" font-size="5.4" text-anchor="start" font-weight="normal" fill="#333" font-family="Liberation Sans" style="white-space:pre">70</text>
<polygon points="261.7,100.6 280.94,98.4 300.19,97.6 319.43,93.3 338.68,90.3 357.92,86 377.17,81.2 396.41,75.7 415.66,70.6 434.9,66.2 434.9,73 415.66,77.4 396.41,82.5 377.17,88 357.92,92.8 338.68,97.1 319.43,100.1 300.19,104.4 280.94,105.2 261.7,107.4" fill="#c8c8fc" fill-opacity="1.0"/>
<polygon points="261.7,163.6 280.94,156.7 300.19,148.3 319.43,138.1 338.68,127.7 357.92,120.9 377.17,111.4 396.41,101.1 415.66,91.1 434.9,81 434.9,86 415.66,96.1 396.41,106.1 377.17,116.4 357.92,125.9 338.68,133.2 319.43,145.1 300.19,153.3 280.94,161.7 261.7,168.6" fill="#f9cdcd" fill-opacity="1.0"/>
<polygon points="261.7,170.3 280.94,167.5 300.19,162.8 319.43,159.7 338.68,152.9 357.92,149 377.17,142.9 396.41,136.7 415.66,129 434.9,120.8 434.9,123.8 415.66,132 396.41,139.7 377.17,145.9 357.92,152 338.68,155.9 319.43,162.7 300.19,166.8 280.94,170.5 261.7,173.3" fill="#fac4fa" fill-opacity="1.0"/>
<polyline points="261.7,104 280.94,101.8 300.19,101 319.43,96.7 338.68,93.7 357.92,89.4 377.17,84.6 396.41,79.1 415.66,74 434.9,69.6" fill="none" stroke="#0000ff" stroke-width="1.8" stroke-linejoin="round" stroke-linecap="round"/>
<circle cx="261.7" cy="104" r="2.1" fill="#0000ff"/>
<circle cx="280.94" cy="101.8" r="2.1" fill="#0000ff"/>
<circle cx="300.19" cy="101" r="2.1" fill="#0000ff"/>
<circle cx="319.43" cy="96.7" r="2.1" fill="#0000ff"/>
<circle cx="338.68" cy="93.7" r="2.1" fill="#0000ff"/>
<circle cx="357.92" cy="89.4" r="2.1" fill="#0000ff"/>
<circle cx="377.17" cy="84.6" r="2.1" fill="#0000ff"/>
<circle cx="396.41" cy="79.1" r="2.1" fill="#0000ff"/>
<circle cx="415.66" cy="74" r="2.1" fill="#0000ff"/>
<circle cx="434.9" cy="69.6" r="2.1" fill="#0000ff"/>
<polyline points="261.7,166.1 280.94,159.2 300.19,150.8 319.43,141.6 338.68,130.7 357.92,123.4 377.17,113.9 396.41,103.6 415.66,93.6 434.9,83.5" fill="none" stroke="#ff0000" stroke-width="1.8" stroke-linejoin="round" stroke-linecap="round"/>
<circle cx="261.7" cy="166.1" r="2.1" fill="#ff0000"/>
<circle cx="280.94" cy="159.2" r="2.1" fill="#ff0000"/>
<circle cx="300.19" cy="150.8" r="2.1" fill="#ff0000"/>
<circle cx="319.43" cy="141.6" r="2.1" fill="#ff0000"/>
<circle cx="338.68" cy="130.7" r="2.1" fill="#ff0000"/>
<circle cx="357.92" cy="123.4" r="2.1" fill="#ff0000"/>
<circle cx="377.17" cy="113.9" r="2.1" fill="#ff0000"/>
<circle cx="396.41" cy="103.6" r="2.1" fill="#ff0000"/>
<circle cx="415.66" cy="93.6" r="2.1" fill="#ff0000"/>
<circle cx="434.9" cy="83.5" r="2.1" fill="#ff0000"/>
<polyline points="261.7,171.8 280.94,169 300.19,164.8 319.43,161.2 338.68,154.4 357.92,150.5 377.17,144.4 396.41,138.2 415.66,130.5 434.9,122.3" fill="none" stroke="#ff00ff" stroke-width="1.8" stroke-linejoin="round" stroke-linecap="round"/>
<circle cx="261.7" cy="171.8" r="2.1" fill="#ff00ff"/>
<circle cx="280.94" cy="169" r="2.1" fill="#ff00ff"/>
<circle cx="300.19" cy="164.8" r="2.1" fill="#ff00ff"/>
<circle cx="319.43" cy="161.2" r="2.1" fill="#ff00ff"/>
<circle cx="338.68" cy="154.4" r="2.1" fill="#ff00ff"/>
<circle cx="357.92" cy="150.5" r="2.1" fill="#ff00ff"/>
<circle cx="377.17" cy="144.4" r="2.1" fill="#ff00ff"/>
<circle cx="396.41" cy="138.2" r="2.1" fill="#ff00ff"/>
<circle cx="415.66" cy="130.5" r="2.1" fill="#ff00ff"/>
<circle cx="434.9" cy="122.3" r="2.1" fill="#ff00ff"/>
<text x="261.7" y="195.7" font-size="5.6" text-anchor="middle" font-weight="normal" fill="#1a1a1a" font-family="Liberation Sans" transform="rotate(-6 261.7 195.7)" style="white-space:pre">10<tspan font-size="4.03" dy="-2.2">-2</tspan></text>
<text x="319.43" y="195.7" font-size="5.6" text-anchor="middle" font-weight="normal" fill="#1a1a1a" font-family="Liberation Sans" transform="rotate(-6 319.43 195.7)" style="white-space:pre">10<tspan font-size="4.03" dy="-2.2">-1</tspan></text>
<text x="377.17" y="195.7" font-size="5.6" text-anchor="middle" font-weight="normal" fill="#1a1a1a" font-family="Liberation Sans" transform="rotate(-6 377.17 195.7)" style="white-space:pre">10<tspan font-size="4.03" dy="-2.2">0</tspan></text>
<text x="434.9" y="195.7" font-size="5.6" text-anchor="middle" font-weight="normal" fill="#1a1a1a" font-family="Liberation Sans" transform="rotate(-6 434.9 195.7)" style="white-space:pre">10<tspan font-size="4.03" dy="-2.2">1</tspan></text>
<text x="254.5" y="187.8" font-size="5.6" text-anchor="end" font-weight="normal" fill="#1a1a1a" font-family="Liberation Sans" transform="rotate(-6 254.5 187.8)" style="white-space:pre">10<tspan font-size="4.03" dy="-2.2">1</tspan></text>
<text x="254.5" y="118.05" font-size="5.6" text-anchor="end" font-weight="normal" fill="#1a1a1a" font-family="Liberation Sans" transform="rotate(-6 254.5 118.05)" style="white-space:pre">10<tspan font-size="4.03" dy="-2.2">2</tspan></text>
<text x="254.5" y="48.3" font-size="5.6" text-anchor="end" font-weight="normal" fill="#1a1a1a" font-family="Liberation Sans" transform="rotate(-6 254.5 48.3)" style="white-space:pre">10<tspan font-size="4.03" dy="-2.2">3</tspan></text>
<text x="347.5" y="210" font-size="11.5" text-anchor="middle" font-weight="bold" fill="#000" font-family="Liberation Sans" style="white-space:pre">frequency [Hz]</text>
<text x="241" y="116.3" font-size="11.5" text-anchor="middle" font-weight="bold" fill="#000" font-family="Liberation Sans" transform="rotate(-90 241 116.3)" style="white-space:pre">G', G''  [Pa]</text>
<text x="462.5" y="116.6" font-size="11.5" text-anchor="middle" font-weight="bold" fill="#000" font-family="Liberation Sans" transform="rotate(-90 462.5 116.6)" style="white-space:pre">delta [°]</text>
<text x="229.5" y="34.8" font-size="13.5" text-anchor="start" font-weight="bold" fill="#000" font-family="Liberation Sans" style="white-space:pre">b)</text>
<line x1="255.21" y1="452.5" x2="255.21" y2="594" stroke="#e3e3e3" stroke-width="0.6" stroke-dasharray="1,1"/>
<line x1="275.62" y1="452.5" x2="275.62" y2="594" stroke="#e3e3e3" stroke-width="0.6" stroke-dasharray="1,1"/>
<line x1="285.99" y1="452.5" x2="285.99" y2="594" stroke="#e3e3e3" stroke-width="0.6" stroke-dasharray="1,1"/>
<line x1="293.34" y1="452.5" x2="293.34" y2="594" stroke="#e3e3e3" stroke-width="0.6" stroke-dasharray="1,1"/>
<line x1="299.05" y1="452.5" x2="299.05" y2="594" stroke="#e3e3e3" stroke-width="0.6" stroke-dasharray="1,1"/>
<line x1="303.71" y1="452.5" x2="303.71" y2="594" stroke="#e3e3e3" stroke-width="0.6" stroke-dasharray="1,1"/>
<line x1="307.65" y1="452.5" x2="307.65" y2="594" stroke="#e3e3e3" stroke-width="0.6" stroke-dasharray="1,1"/>
<line x1="311.06" y1="452.5" x2="311.06" y2="594" stroke="#e3e3e3" stroke-width="0.6" stroke-dasharray="1,1"/>
<line x1="314.07" y1="452.5" x2="314.07" y2="594" stroke="#e3e3e3" stroke-width="0.6" stroke-dasharray="1,1"/>
<line x1="334.49" y1="452.5" x2="334.49" y2="594" stroke="#e3e3e3" stroke-width="0.6" stroke-dasharray="1,1"/>
<line x1="344.85" y1="452.5" x2="344.85" y2="594" stroke="#e3e3e3" stroke-width="0.6" stroke-dasharray="1,1"/>
<line x1="352.21" y1="452.5" x2="352.21" y2="594" stroke="#e3e3e3" stroke-width="0.6" stroke-dasharray="1,1"/>
<line x1="357.91" y1="452.5" x2="357.91" y2="594" stroke="#e3e3e3" stroke-width="0.6" stroke-dasharray="1,1"/>
<line x1="362.57" y1="452.5" x2="362.57" y2="594" stroke="#e3e3e3" stroke-width="0.6" stroke-dasharray="1,1"/>
<line x1="366.51" y1="452.5" x2="366.51" y2="594" stroke="#e3e3e3" stroke-width="0.6" stroke-dasharray="1,1"/>
<line x1="369.93" y1="452.5" x2="369.93" y2="594" stroke="#e3e3e3" stroke-width="0.6" stroke-dasharray="1,1"/>
<line x1="372.94" y1="452.5" x2="372.94" y2="594" stroke="#e3e3e3" stroke-width="0.6" stroke-dasharray="1,1"/>
<line x1="393.35" y1="452.5" x2="393.35" y2="594" stroke="#e3e3e3" stroke-width="0.6" stroke-dasharray="1,1"/>
<line x1="403.72" y1="452.5" x2="403.72" y2="594" stroke="#e3e3e3" stroke-width="0.6" stroke-dasharray="1,1"/>
<line x1="411.07" y1="452.5" x2="411.07" y2="594" stroke="#e3e3e3" stroke-width="0.6" stroke-dasharray="1,1"/>
<line x1="416.78" y1="452.5" x2="416.78" y2="594" stroke="#e3e3e3" stroke-width="0.6" stroke-dasharray="1,1"/>
<line x1="421.44" y1="452.5" x2="421.44" y2="594" stroke="#e3e3e3" stroke-width="0.6" stroke-dasharray="1,1"/>
<line x1="425.38" y1="452.5" x2="425.38" y2="594" stroke="#e3e3e3" stroke-width="0.6" stroke-dasharray="1,1"/>
<line x1="428.8" y1="452.5" x2="428.8" y2="594" stroke="#e3e3e3" stroke-width="0.6" stroke-dasharray="1,1"/>
<line x1="431.81" y1="452.5" x2="431.81" y2="594" stroke="#e3e3e3" stroke-width="0.6" stroke-dasharray="1,1"/>
<line x1="252.4" y1="572.7" x2="438.9" y2="572.7" stroke="#e3e3e3" stroke-width="0.6" stroke-dasharray="1,1"/>
<line x1="252.4" y1="560.24" x2="438.9" y2="560.24" stroke="#e3e3e3" stroke-width="0.6" stroke-dasharray="1,1"/>
<line x1="252.4" y1="551.4" x2="438.9" y2="551.4" stroke="#e3e3e3" stroke-width="0.6" stroke-dasharray="1,1"/>
<line x1="252.4" y1="544.55" x2="438.9" y2="544.55" stroke="#e3e3e3" stroke-width="0.6" stroke-dasharray="1,1"/>
<line x1="252.4" y1="538.95" x2="438.9" y2="538.95" stroke="#e3e3e3" stroke-width="0.6" stroke-dasharray="1,1"/>
<line x1="252.4" y1="534.21" x2="438.9" y2="534.21" stroke="#e3e3e3" stroke-width="0.6" stroke-dasharray="1,1"/>
<line x1="252.4" y1="530.11" x2="438.9" y2="530.11" stroke="#e3e3e3" stroke-width="0.6" stroke-dasharray="1,1"/>
<line x1="252.4" y1="526.49" x2="438.9" y2="526.49" stroke="#e3e3e3" stroke-width="0.6" stroke-dasharray="1,1"/>
<line x1="252.4" y1="501.95" x2="438.9" y2="501.95" stroke="#e3e3e3" stroke-width="0.6" stroke-dasharray="1,1"/>
<line x1="252.4" y1="489.49" x2="438.9" y2="489.49" stroke="#e3e3e3" stroke-width="0.6" stroke-dasharray="1,1"/>
<line x1="252.4" y1="480.65" x2="438.9" y2="480.65" stroke="#e3e3e3" stroke-width="0.6" stroke-dasharray="1,1"/>
<line x1="252.4" y1="473.8" x2="438.9" y2="473.8" stroke="#e3e3e3" stroke-width="0.6" stroke-dasharray="1,1"/>
<line x1="252.4" y1="468.2" x2="438.9" y2="468.2" stroke="#e3e3e3" stroke-width="0.6" stroke-dasharray="1,1"/>
<line x1="252.4" y1="463.46" x2="438.9" y2="463.46" stroke="#e3e3e3" stroke-width="0.6" stroke-dasharray="1,1"/>
<line x1="252.4" y1="459.36" x2="438.9" y2="459.36" stroke="#e3e3e3" stroke-width="0.6" stroke-dasharray="1,1"/>
<line x1="252.4" y1="455.74" x2="438.9" y2="455.74" stroke="#e3e3e3" stroke-width="0.6" stroke-dasharray="1,1"/>
<line x1="257.9" y1="452.5" x2="257.9" y2="594" stroke="#e9e9e9" stroke-width="0.7"/>
<line x1="316.77" y1="452.5" x2="316.77" y2="594" stroke="#e9e9e9" stroke-width="0.7"/>
<line x1="375.63" y1="452.5" x2="375.63" y2="594" stroke="#e9e9e9" stroke-width="0.7"/>
<line x1="434.5" y1="452.5" x2="434.5" y2="594" stroke="#e9e9e9" stroke-width="0.7"/>
<line x1="252.4" y1="523.25" x2="438.9" y2="523.25" stroke="#e9e9e9" stroke-width="0.7"/>
<rect x="252.4" y="452.5" width="186.5" height="141.5" fill="none" stroke="#b9b9b9" stroke-width="1.9"/>
<line x1="257.9" y1="594" x2="257.9" y2="592.4" stroke="#7a7a7a" stroke-width="0.9"/>
<line x1="257.9" y1="452.5" x2="257.9" y2="454.1" stroke="#7a7a7a" stroke-width="0.9"/>
<line x1="316.77" y1="594" x2="316.77" y2="592.4" stroke="#7a7a7a" stroke-width="0.9"/>
<line x1="316.77" y1="452.5" x2="316.77" y2="454.1" stroke="#7a7a7a" stroke-width="0.9"/>
<line x1="375.63" y1="594" x2="375.63" y2="592.4" stroke="#7a7a7a" stroke-width="0.9"/>
<line x1="375.63" y1="452.5" x2="375.63" y2="454.1" stroke="#7a7a7a" stroke-width="0.9"/>
<line x1="434.5" y1="594" x2="434.5" y2="592.4" stroke="#7a7a7a" stroke-width="0.9"/>
<line x1="434.5" y1="452.5" x2="434.5" y2="454.1" stroke="#7a7a7a" stroke-width="0.9"/>
<line x1="252.4" y1="594" x2="254" y2="594" stroke="#7a7a7a" stroke-width="0.9"/>
<line x1="438.9" y1="594" x2="437.3" y2="594" stroke="#7a7a7a" stroke-width="0.9"/>
<line x1="252.4" y1="523.25" x2="254" y2="523.25" stroke="#7a7a7a" stroke-width="0.9"/>
<line x1="438.9" y1="523.25" x2="437.3" y2="523.25" stroke="#7a7a7a" stroke-width="0.9"/>
<line x1="252.4" y1="452.5" x2="254" y2="452.5" stroke="#7a7a7a" stroke-width="0.9"/>
<line x1="438.9" y1="452.5" x2="437.3" y2="452.5" stroke="#7a7a7a" stroke-width="0.9"/>
<line x1="255.21" y1="594" x2="255.21" y2="592.8" stroke="#7a7a7a" stroke-width="0.8"/>
<line x1="255.21" y1="452.5" x2="255.21" y2="453.7" stroke="#7a7a7a" stroke-width="0.8"/>
<line x1="275.62" y1="594" x2="275.62" y2="592.8" stroke="#7a7a7a" stroke-width="0.8"/>
<line x1="275.62" y1="452.5" x2="275.62" y2="453.7" stroke="#7a7a7a" stroke-width="0.8"/>
<line x1="285.99" y1="594" x2="285.99" y2="592.8" stroke="#7a7a7a" stroke-width="0.8"/>
<line x1="285.99" y1="452.5" x2="285.99" y2="453.7" stroke="#7a7a7a" stroke-width="0.8"/>
<line x1="293.34" y1="594" x2="293.34" y2="592.8" stroke="#7a7a7a" stroke-width="0.8"/>
<line x1="293.34" y1="452.5" x2="293.34" y2="453.7" stroke="#7a7a7a" stroke-width="0.8"/>
<line x1="299.05" y1="594" x2="299.05" y2="592.8" stroke="#7a7a7a" stroke-width="0.8"/>
<line x1="299.05" y1="452.5" x2="299.05" y2="453.7" stroke="#7a7a7a" stroke-width="0.8"/>
<line x1="303.71" y1="594" x2="303.71" y2="592.8" stroke="#7a7a7a" stroke-width="0.8"/>
<line x1="303.71" y1="452.5" x2="303.71" y2="453.7" stroke="#7a7a7a" stroke-width="0.8"/>
<line x1="307.65" y1="594" x2="307.65" y2="592.8" stroke="#7a7a7a" stroke-width="0.8"/>
<line x1="307.65" y1="452.5" x2="307.65" y2="453.7" stroke="#7a7a7a" stroke-width="0.8"/>
<line x1="311.06" y1="594" x2="311.06" y2="592.8" stroke="#7a7a7a" stroke-width="0.8"/>
<line x1="311.06" y1="452.5" x2="311.06" y2="453.7" stroke="#7a7a7a" stroke-width="0.8"/>
<line x1="314.07" y1="594" x2="314.07" y2="592.8" stroke="#7a7a7a" stroke-width="0.8"/>
<line x1="314.07" y1="452.5" x2="314.07" y2="453.7" stroke="#7a7a7a" stroke-width="0.8"/>
<line x1="334.49" y1="594" x2="334.49" y2="592.8" stroke="#7a7a7a" stroke-width="0.8"/>
<line x1="334.49" y1="452.5" x2="334.49" y2="453.7" stroke="#7a7a7a" stroke-width="0.8"/>
<line x1="344.85" y1="594" x2="344.85" y2="592.8" stroke="#7a7a7a" stroke-width="0.8"/>
<line x1="344.85" y1="452.5" x2="344.85" y2="453.7" stroke="#7a7a7a" stroke-width="0.8"/>
<line x1="352.21" y1="594" x2="352.21" y2="592.8" stroke="#7a7a7a" stroke-width="0.8"/>
<line x1="352.21" y1="452.5" x2="352.21" y2="453.7" stroke="#7a7a7a" stroke-width="0.8"/>
<line x1="357.91" y1="594" x2="357.91" y2="592.8" stroke="#7a7a7a" stroke-width="0.8"/>
<line x1="357.91" y1="452.5" x2="357.91" y2="453.7" stroke="#7a7a7a" stroke-width="0.8"/>
<line x1="362.57" y1="594" x2="362.57" y2="592.8" stroke="#7a7a7a" stroke-width="0.8"/>
<line x1="362.57" y1="452.5" x2="362.57" y2="453.7" stroke="#7a7a7a" stroke-width="0.8"/>
<line x1="366.51" y1="594" x2="366.51" y2="592.8" stroke="#7a7a7a" stroke-width="0.8"/>
<line x1="366.51" y1="452.5" x2="366.51" y2="453.7" stroke="#7a7a7a" stroke-width="0.8"/>
<line x1="369.93" y1="594" x2="369.93" y2="592.8" stroke="#7a7a7a" stroke-width="0.8"/>
<line x1="369.93" y1="452.5" x2="369.93" y2="453.7" stroke="#7a7a7a" stroke-width="0.8"/>
<line x1="372.94" y1="594" x2="372.94" y2="592.8" stroke="#7a7a7a" stroke-width="0.8"/>
<line x1="372.94" y1="452.5" x2="372.94" y2="453.7" stroke="#7a7a7a" stroke-width="0.8"/>
<line x1="393.35" y1="594" x2="393.35" y2="592.8" stroke="#7a7a7a" stroke-width="0.8"/>
<line x1="393.35" y1="452.5" x2="393.35" y2="453.7" stroke="#7a7a7a" stroke-width="0.8"/>
<line x1="403.72" y1="594" x2="403.72" y2="592.8" stroke="#7a7a7a" stroke-width="0.8"/>
<line x1="403.72" y1="452.5" x2="403.72" y2="453.7" stroke="#7a7a7a" stroke-width="0.8"/>
<line x1="411.07" y1="594" x2="411.07" y2="592.8" stroke="#7a7a7a" stroke-width="0.8"/>
<line x1="411.07" y1="452.5" x2="411.07" y2="453.7" stroke="#7a7a7a" stroke-width="0.8"/>
<line x1="416.78" y1="594" x2="416.78" y2="592.8" stroke="#7a7a7a" stroke-width="0.8"/>
<line x1="416.78" y1="452.5" x2="416.78" y2="453.7" stroke="#7a7a7a" stroke-width="0.8"/>
<line x1="421.44" y1="594" x2="421.44" y2="592.8" stroke="#7a7a7a" stroke-width="0.8"/>
<line x1="421.44" y1="452.5" x2="421.44" y2="453.7" stroke="#7a7a7a" stroke-width="0.8"/>
<line x1="425.38" y1="594" x2="425.38" y2="592.8" stroke="#7a7a7a" stroke-width="0.8"/>
<line x1="425.38" y1="452.5" x2="425.38" y2="453.7" stroke="#7a7a7a" stroke-width="0.8"/>
<line x1="428.8" y1="594" x2="428.8" y2="592.8" stroke="#7a7a7a" stroke-width="0.8"/>
<line x1="428.8" y1="452.5" x2="428.8" y2="453.7" stroke="#7a7a7a" stroke-width="0.8"/>
<line x1="431.81" y1="594" x2="431.81" y2="592.8" stroke="#7a7a7a" stroke-width="0.8"/>
<line x1="431.81" y1="452.5" x2="431.81" y2="453.7" stroke="#7a7a7a" stroke-width="0.8"/>
<line x1="252.4" y1="572.7" x2="253.6" y2="572.7" stroke="#7a7a7a" stroke-width="0.8"/>
<line x1="438.9" y1="572.7" x2="437.7" y2="572.7" stroke="#7a7a7a" stroke-width="0.8"/>
<line x1="252.4" y1="560.24" x2="253.6" y2="560.24" stroke="#7a7a7a" stroke-width="0.8"/>
<line x1="438.9" y1="560.24" x2="437.7" y2="560.24" stroke="#7a7a7a" stroke-width="0.8"/>
<line x1="252.4" y1="551.4" x2="253.6" y2="551.4" stroke="#7a7a7a" stroke-width="0.8"/>
<line x1="438.9" y1="551.4" x2="437.7" y2="551.4" stroke="#7a7a7a" stroke-width="0.8"/>
<line x1="252.4" y1="544.55" x2="253.6" y2="544.55" stroke="#7a7a7a" stroke-width="0.8"/>
<line x1="438.9" y1="544.55" x2="437.7" y2="544.55" stroke="#7a7a7a" stroke-width="0.8"/>
<line x1="252.4" y1="538.95" x2="253.6" y2="538.95" stroke="#7a7a7a" stroke-width="0.8"/>
<line x1="438.9" y1="538.95" x2="437.7" y2="538.95" stroke="#7a7a7a" stroke-width="0.8"/>
<line x1="252.4" y1="534.21" x2="253.6" y2="534.21" stroke="#7a7a7a" stroke-width="0.8"/>
<line x1="438.9" y1="534.21" x2="437.7" y2="534.21" stroke="#7a7a7a" stroke-width="0.8"/>
<line x1="252.4" y1="530.11" x2="253.6" y2="530.11" stroke="#7a7a7a" stroke-width="0.8"/>
<line x1="438.9" y1="530.11" x2="437.7" y2="530.11" stroke="#7a7a7a" stroke-width="0.8"/>
<line x1="252.4" y1="526.49" x2="253.6" y2="526.49" stroke="#7a7a7a" stroke-width="0.8"/>
<line x1="438.9" y1="526.49" x2="437.7" y2="526.49" stroke="#7a7a7a" stroke-width="0.8"/>
<line x1="252.4" y1="501.95" x2="253.6" y2="501.95" stroke="#7a7a7a" stroke-width="0.8"/>
<line x1="438.9" y1="501.95" x2="437.7" y2="501.95" stroke="#7a7a7a" stroke-width="0.8"/>
<line x1="252.4" y1="489.49" x2="253.6" y2="489.49" stroke="#7a7a7a" stroke-width="0.8"/>
<line x1="438.9" y1="489.49" x2="437.7" y2="489.49" stroke="#7a7a7a" stroke-width="0.8"/>
<line x1="252.4" y1="480.65" x2="253.6" y2="480.65" stroke="#7a7a7a" stroke-width="0.8"/>
<line x1="438.9" y1="480.65" x2="437.7" y2="480.65" stroke="#7a7a7a" stroke-width="0.8"/>
<line x1="252.4" y1="473.8" x2="253.6" y2="473.8" stroke="#7a7a7a" stroke-width="0.8"/>
<line x1="438.9" y1="473.8" x2="437.7" y2="473.8" stroke="#7a7a7a" stroke-width="0.8"/>
<line x1="252.4" y1="468.2" x2="253.6" y2="468.2" stroke="#7a7a7a" stroke-width="0.8"/>
<line x1="438.9" y1="468.2" x2="437.7" y2="468.2" stroke="#7a7a7a" stroke-width="0.8"/>
<line x1="252.4" y1="463.46" x2="253.6" y2="463.46" stroke="#7a7a7a" stroke-width="0.8"/>
<line x1="438.9" y1="463.46" x2="437.7" y2="463.46" stroke="#7a7a7a" stroke-width="0.8"/>
<line x1="252.4" y1="459.36" x2="253.6" y2="459.36" stroke="#7a7a7a" stroke-width="0.8"/>
<line x1="438.9" y1="459.36" x2="437.7" y2="459.36" stroke="#7a7a7a" stroke-width="0.8"/>
<line x1="252.4" y1="455.74" x2="253.6" y2="455.74" stroke="#7a7a7a" stroke-width="0.8"/>
<line x1="438.9" y1="455.74" x2="437.7" y2="455.74" stroke="#7a7a7a" stroke-width="0.8"/>
<line x1="438.9" y1="594" x2="437.3" y2="594" stroke="#7a7a7a" stroke-width="0.9"/>
<text x="441.7" y="596.5" font-size="5.4" text-anchor="start" font-weight="normal" fill="#333" font-family="Liberation Sans" style="white-space:pre">0</text>
<line x1="438.9" y1="573.79" x2="437.3" y2="573.79" stroke="#7a7a7a" stroke-width="0.9"/>
<text x="441.7" y="576.29" font-size="5.4" text-anchor="start" font-weight="normal" fill="#333" font-family="Liberation Sans" style="white-space:pre">10</text>
<line x1="438.9" y1="553.57" x2="437.3" y2="553.57" stroke="#7a7a7a" stroke-width="0.9"/>
<text x="441.7" y="556.07" font-size="5.4" text-anchor="start" font-weight="normal" fill="#333" font-family="Liberation Sans" style="white-space:pre">20</text>
<line x1="438.9" y1="533.36" x2="437.3" y2="533.36" stroke="#7a7a7a" stroke-width="0.9"/>
<text x="441.7" y="535.86" font-size="5.4" text-anchor="start" font-weight="normal" fill="#333" font-family="Liberation Sans" style="white-space:pre">30</text>
<line x1="438.9" y1="513.14" x2="437.3" y2="513.14" stroke="#7a7a7a" stroke-width="0.9"/>
<text x="441.7" y="515.64" font-size="5.4" text-anchor="start" font-weight="normal" fill="#333" font-family="Liberation Sans" style="white-space:pre">40</text>
<line x1="438.9" y1="492.93" x2="437.3" y2="492.93" stroke="#7a7a7a" stroke-width="0.9"/>
<text x="441.7" y="495.43" font-size="5.4" text-anchor="start" font-weight="normal" fill="#333" font-family="Liberation Sans" style="white-space:pre">50</text>
<line x1="438.9" y1="472.71" x2="437.3" y2="472.71" stroke="#7a7a7a" stroke-width="0.9"/>
<text x="441.7" y="475.21" font-size="5.4" text-anchor="start" font-weight="normal" fill="#333" font-family="Liberation Sans" style="white-space:pre">60</text>
<line x1="438.9" y1="452.5" x2="437.3" y2="452.5" stroke="#7a7a7a" stroke-width="0.9"/>
<text x="441.7" y="455" font-size="5.4" text-anchor="start" font-weight="normal" fill="#333" font-family="Liberation Sans" style="white-space:pre">70</text>
<polygon points="257.9,508 277.52,505.9 297.14,502.1 316.77,499.9 336.39,497 356.01,492.6 375.63,488 395.26,482.6 414.88,476.9 434.5,472.1 434.5,485.1 414.88,490.2 395.26,495.6 375.63,501 356.01,505.7 336.39,509.6 316.77,512.2 297.14,514.4 277.52,518.2 257.9,520.5" fill="#c8c8fc" fill-opacity="1.0"/>
<polygon points="257.9,571.8 277.52,564.5 297.14,548.8 316.77,540.8 336.39,537.2 356.01,526.6 375.63,516.3 395.26,506.3 414.88,495.5 434.5,485.2 434.5,497.2 414.88,507.5 395.26,517.3 375.63,527.1 356.01,537.4 336.39,547.3 316.77,552.7 297.14,566 277.52,575.3 257.9,585.1" fill="#f9cdcd" fill-opacity="1.0"/>
<polygon points="257.9,578 277.52,575 297.14,569.8 316.77,562.9 336.39,559.9 356.01,554.3 375.63,547.9 395.26,541.4 414.88,534.5 434.5,525.9 434.5,529.5 414.88,538.1 395.26,545 375.63,551.5 356.01,557.9 336.39,563.5 316.77,566.5 297.14,573.4 277.52,578.6 257.9,581.6" fill="#fac4fa" fill-opacity="1.0"/>
<polyline points="257.9,514 277.52,511.8 297.14,508 316.77,505.8 336.39,503.2 356.01,498.9 375.63,494.2 395.26,488.6 414.88,482.7 434.5,477.6" fill="none" stroke="#0000ff" stroke-width="1.8" stroke-linejoin="round" stroke-linecap="round"/>
<circle cx="257.9" cy="514" r="2.1" fill="#0000ff"/>
<circle cx="277.52" cy="511.8" r="2.1" fill="#0000ff"/>
<circle cx="297.14" cy="508" r="2.1" fill="#0000ff"/>
<circle cx="316.77" cy="505.8" r="2.1" fill="#0000ff"/>
<circle cx="336.39" cy="503.2" r="2.1" fill="#0000ff"/>
<circle cx="356.01" cy="498.9" r="2.1" fill="#0000ff"/>
<circle cx="375.63" cy="494.2" r="2.1" fill="#0000ff"/>
<circle cx="395.26" cy="488.6" r="2.1" fill="#0000ff"/>
<circle cx="414.88" cy="482.7" r="2.1" fill="#0000ff"/>
<circle cx="434.5" cy="477.6" r="2.1" fill="#0000ff"/>
<polyline points="257.9,577.6 277.52,569.9 297.14,557 316.77,546.2 336.39,541.9 356.01,532 375.63,521.7 395.26,511.8 414.88,501.5 434.5,491.2" fill="none" stroke="#ff0000" stroke-width="1.8" stroke-linejoin="round" stroke-linecap="round"/>
<circle cx="257.9" cy="577.6" r="2.1" fill="#ff0000"/>
<circle cx="277.52" cy="569.9" r="2.1" fill="#ff0000"/>
<circle cx="297.14" cy="557" r="2.1" fill="#ff0000"/>
<circle cx="316.77" cy="546.2" r="2.1" fill="#ff0000"/>
<circle cx="336.39" cy="541.9" r="2.1" fill="#ff0000"/>
<circle cx="356.01" cy="532" r="2.1" fill="#ff0000"/>
<circle cx="375.63" cy="521.7" r="2.1" fill="#ff0000"/>
<circle cx="395.26" cy="511.8" r="2.1" fill="#ff0000"/>
<circle cx="414.88" cy="501.5" r="2.1" fill="#ff0000"/>
<circle cx="434.5" cy="491.2" r="2.1" fill="#ff0000"/>
<polyline points="257.9,579.8 277.52,576.8 297.14,571.6 316.77,564.7 336.39,561.7 356.01,556.1 375.63,549.7 395.26,543.2 414.88,536.3 434.5,527.7" fill="none" stroke="#ff00ff" stroke-width="1.8" stroke-linejoin="round" stroke-linecap="round"/>
<circle cx="257.9" cy="579.8" r="2.1" fill="#ff00ff"/>
<circle cx="277.52" cy="576.8" r="2.1" fill="#ff00ff"/>
<circle cx="297.14" cy="571.6" r="2.1" fill="#ff00ff"/>
<circle cx="316.77" cy="564.7" r="2.1" fill="#ff00ff"/>
<circle cx="336.39" cy="561.7" r="2.1" fill="#ff00ff"/>
<circle cx="356.01" cy="556.1" r="2.1" fill="#ff00ff"/>
<circle cx="375.63" cy="549.7" r="2.1" fill="#ff00ff"/>
<circle cx="395.26" cy="543.2" r="2.1" fill="#ff00ff"/>
<circle cx="414.88" cy="536.3" r="2.1" fill="#ff00ff"/>
<circle cx="434.5" cy="527.7" r="2.1" fill="#ff00ff"/>
<text x="257.9" y="603.7" font-size="5.6" text-anchor="middle" font-weight="normal" fill="#1a1a1a" font-family="Liberation Sans" transform="rotate(-6 257.9 603.7)" style="white-space:pre">10<tspan font-size="4.03" dy="-2.2">-2</tspan></text>
<text x="316.77" y="603.7" font-size="5.6" text-anchor="middle" font-weight="normal" fill="#1a1a1a" font-family="Liberation Sans" transform="rotate(-6 316.77 603.7)" style="white-space:pre">10<tspan font-size="4.03" dy="-2.2">-1</tspan></text>
<text x="375.63" y="603.7" font-size="5.6" text-anchor="middle" font-weight="normal" fill="#1a1a1a" font-family="Liberation Sans" transform="rotate(-6 375.63 603.7)" style="white-space:pre">10<tspan font-size="4.03" dy="-2.2">0</tspan></text>
<text x="434.5" y="603.7" font-size="5.6" text-anchor="middle" font-weight="normal" fill="#1a1a1a" font-family="Liberation Sans" transform="rotate(-6 434.5 603.7)" style="white-space:pre">10<tspan font-size="4.03" dy="-2.2">1</tspan></text>
<text x="249.9" y="595.8" font-size="5.6" text-anchor="end" font-weight="normal" fill="#1a1a1a" font-family="Liberation Sans" transform="rotate(-6 249.9 595.8)" style="white-space:pre">10<tspan font-size="4.03" dy="-2.2">1</tspan></text>
<text x="249.9" y="525.05" font-size="5.6" text-anchor="end" font-weight="normal" fill="#1a1a1a" font-family="Liberation Sans" transform="rotate(-6 249.9 525.05)" style="white-space:pre">10<tspan font-size="4.03" dy="-2.2">2</tspan></text>
<text x="249.9" y="454.3" font-size="5.6" text-anchor="end" font-weight="normal" fill="#1a1a1a" font-family="Liberation Sans" transform="rotate(-6 249.9 454.3)" style="white-space:pre">10<tspan font-size="4.03" dy="-2.2">3</tspan></text>
<text x="345.7" y="617.5" font-size="11.5" text-anchor="middle" font-weight="bold" fill="#000" font-family="Liberation Sans" style="white-space:pre">frequency [Hz]</text>
<text x="236.8" y="523.1" font-size="11.5" text-anchor="middle" font-weight="bold" fill="#000" font-family="Liberation Sans" transform="rotate(-90 236.8 523.1)" style="white-space:pre">G', G''  [Pa]</text>
<text x="461.2" y="523" font-size="11.5" text-anchor="middle" font-weight="bold" fill="#000" font-family="Liberation Sans" transform="rotate(-90 461.2 523)" style="white-space:pre">delta [°]</text>
<text x="229.7" y="449" font-size="13.5" text-anchor="start" font-weight="bold" fill="#000" font-family="Liberation Sans" style="white-space:pre">f)</text>
<line x1="25.5" y1="370.5" x2="210.5" y2="370.5" stroke="#e3e3e3" stroke-width="0.6" stroke-dasharray="1,1"/>
<line x1="25.5" y1="365.75" x2="210.5" y2="365.75" stroke="#e3e3e3" stroke-width="0.6" stroke-dasharray="1,1"/>
<line x1="25.5" y1="361.87" x2="210.5" y2="361.87" stroke="#e3e3e3" stroke-width="0.6" stroke-dasharray="1,1"/>
<line x1="25.5" y1="358.59" x2="210.5" y2="358.59" stroke="#e3e3e3" stroke-width="0.6" stroke-dasharray="1,1"/>
<line x1="25.5" y1="355.75" x2="210.5" y2="355.75" stroke="#e3e3e3" stroke-width="0.6" stroke-dasharray="1,1"/>
<line x1="25.5" y1="353.24" x2="210.5" y2="353.24" stroke="#e3e3e3" stroke-width="0.6" stroke-dasharray="1,1"/>
<line x1="25.5" y1="336.25" x2="210.5" y2="336.25" stroke="#e3e3e3" stroke-width="0.6" stroke-dasharray="1,1"/>
<line x1="25.5" y1="327.62" x2="210.5" y2="327.62" stroke="#e3e3e3" stroke-width="0.6" stroke-dasharray="1,1"/>
<line x1="25.5" y1="321.5" x2="210.5" y2="321.5" stroke="#e3e3e3" stroke-width="0.6" stroke-dasharray="1,1"/>
<line x1="25.5" y1="316.75" x2="210.5" y2="316.75" stroke="#e3e3e3" stroke-width="0.6" stroke-dasharray="1,1"/>
<line x1="25.5" y1="312.87" x2="210.5" y2="312.87" stroke="#e3e3e3" stroke-width="0.6" stroke-dasharray="1,1"/>
<line x1="25.5" y1="309.59" x2="210.5" y2="309.59" stroke="#e3e3e3" stroke-width="0.6" stroke-dasharray="1,1"/>
<line x1="25.5" y1="306.75" x2="210.5" y2="306.75" stroke="#e3e3e3" stroke-width="0.6" stroke-dasharray="1,1"/>
<line x1="25.5" y1="304.24" x2="210.5" y2="304.24" stroke="#e3e3e3" stroke-width="0.6" stroke-dasharray="1,1"/>
<line x1="25.5" y1="287.25" x2="210.5" y2="287.25" stroke="#e3e3e3" stroke-width="0.6" stroke-dasharray="1,1"/>
<line x1="25.5" y1="278.62" x2="210.5" y2="278.62" stroke="#e3e3e3" stroke-width="0.6" stroke-dasharray="1,1"/>
<line x1="25.5" y1="272.5" x2="210.5" y2="272.5" stroke="#e3e3e3" stroke-width="0.6" stroke-dasharray="1,1"/>
<line x1="25.5" y1="267.75" x2="210.5" y2="267.75" stroke="#e3e3e3" stroke-width="0.6" stroke-dasharray="1,1"/>
<line x1="25.5" y1="263.87" x2="210.5" y2="263.87" stroke="#e3e3e3" stroke-width="0.6" stroke-dasharray="1,1"/>
<line x1="25.5" y1="260.59" x2="210.5" y2="260.59" stroke="#e3e3e3" stroke-width="0.6" stroke-dasharray="1,1"/>
<line x1="25.5" y1="257.75" x2="210.5" y2="257.75" stroke="#e3e3e3" stroke-width="0.6" stroke-dasharray="1,1"/>
<line x1="25.5" y1="255.24" x2="210.5" y2="255.24" stroke="#e3e3e3" stroke-width="0.6" stroke-dasharray="1,1"/>
<line x1="25.5" y1="238.25" x2="210.5" y2="238.25" stroke="#e3e3e3" stroke-width="0.6" stroke-dasharray="1,1"/>
<line x1="45.61" y1="233.3" x2="45.61" y2="374.6" stroke="#e9e9e9" stroke-width="0.7"/>
<line x1="66.22" y1="233.3" x2="66.22" y2="374.6" stroke="#e9e9e9" stroke-width="0.7"/>
<line x1="86.83" y1="233.3" x2="86.83" y2="374.6" stroke="#e9e9e9" stroke-width="0.7"/>
<line x1="107.44" y1="233.3" x2="107.44" y2="374.6" stroke="#e9e9e9" stroke-width="0.7"/>
<line x1="128.06" y1="233.3" x2="128.06" y2="374.6" stroke="#e9e9e9" stroke-width="0.7"/>
<line x1="148.67" y1="233.3" x2="148.67" y2="374.6" stroke="#e9e9e9" stroke-width="0.7"/>
<line x1="169.28" y1="233.3" x2="169.28" y2="374.6" stroke="#e9e9e9" stroke-width="0.7"/>
<line x1="189.89" y1="233.3" x2="189.89" y2="374.6" stroke="#e9e9e9" stroke-width="0.7"/>
<line x1="25.5" y1="351" x2="210.5" y2="351" stroke="#e9e9e9" stroke-width="0.7"/>
<line x1="25.5" y1="302" x2="210.5" y2="302" stroke="#e9e9e9" stroke-width="0.7"/>
<line x1="25.5" y1="253" x2="210.5" y2="253" stroke="#e9e9e9" stroke-width="0.7"/>
<rect x="25.5" y="233.3" width="185" height="141.3" fill="none" stroke="#b9b9b9" stroke-width="1.9"/>
<line x1="25" y1="374.6" x2="25" y2="373" stroke="#7a7a7a" stroke-width="0.9"/>
<line x1="25" y1="233.3" x2="25" y2="234.9" stroke="#7a7a7a" stroke-width="0.9"/>
<line x1="45.61" y1="374.6" x2="45.61" y2="373" stroke="#7a7a7a" stroke-width="0.9"/>
<line x1="45.61" y1="233.3" x2="45.61" y2="234.9" stroke="#7a7a7a" stroke-width="0.9"/>
<line x1="66.22" y1="374.6" x2="66.22" y2="373" stroke="#7a7a7a" stroke-width="0.9"/>
<line x1="66.22" y1="233.3" x2="66.22" y2="234.9" stroke="#7a7a7a" stroke-width="0.9"/>
<line x1="86.83" y1="374.6" x2="86.83" y2="373" stroke="#7a7a7a" stroke-width="0.9"/>
<line x1="86.83" y1="233.3" x2="86.83" y2="234.9" stroke="#7a7a7a" stroke-width="0.9"/>
<line x1="107.44" y1="374.6" x2="107.44" y2="373" stroke="#7a7a7a" stroke-width="0.9"/>
<line x1="107.44" y1="233.3" x2="107.44" y2="234.9" stroke="#7a7a7a" stroke-width="0.9"/>
<line x1="128.06" y1="374.6" x2="128.06" y2="373" stroke="#7a7a7a" stroke-width="0.9"/>
<line x1="128.06" y1="233.3" x2="128.06" y2="234.9" stroke="#7a7a7a" stroke-width="0.9"/>
<line x1="148.67" y1="374.6" x2="148.67" y2="373" stroke="#7a7a7a" stroke-width="0.9"/>
<line x1="148.67" y1="233.3" x2="148.67" y2="234.9" stroke="#7a7a7a" stroke-width="0.9"/>
<line x1="169.28" y1="374.6" x2="169.28" y2="373" stroke="#7a7a7a" stroke-width="0.9"/>
<line x1="169.28" y1="233.3" x2="169.28" y2="234.9" stroke="#7a7a7a" stroke-width="0.9"/>
<line x1="189.89" y1="374.6" x2="189.89" y2="373" stroke="#7a7a7a" stroke-width="0.9"/>
<line x1="189.89" y1="233.3" x2="189.89" y2="234.9" stroke="#7a7a7a" stroke-width="0.9"/>
<line x1="210.5" y1="374.6" x2="210.5" y2="373" stroke="#7a7a7a" stroke-width="0.9"/>
<line x1="210.5" y1="233.3" x2="210.5" y2="234.9" stroke="#7a7a7a" stroke-width="0.9"/>
<line x1="25.5" y1="351" x2="27.1" y2="351" stroke="#7a7a7a" stroke-width="0.9"/>
<line x1="210.5" y1="351" x2="208.9" y2="351" stroke="#7a7a7a" stroke-width="0.9"/>
<line x1="25.5" y1="302" x2="27.1" y2="302" stroke="#7a7a7a" stroke-width="0.9"/>
<line x1="210.5" y1="302" x2="208.9" y2="302" stroke="#7a7a7a" stroke-width="0.9"/>
<line x1="25.5" y1="253" x2="27.1" y2="253" stroke="#7a7a7a" stroke-width="0.9"/>
<line x1="210.5" y1="253" x2="208.9" y2="253" stroke="#7a7a7a" stroke-width="0.9"/>
<line x1="25.5" y1="370.5" x2="26.7" y2="370.5" stroke="#7a7a7a" stroke-width="0.8"/>
<line x1="210.5" y1="370.5" x2="209.3" y2="370.5" stroke="#7a7a7a" stroke-width="0.8"/>
<line x1="25.5" y1="365.75" x2="26.7" y2="365.75" stroke="#7a7a7a" stroke-width="0.8"/>
<line x1="210.5" y1="365.75" x2="209.3" y2="365.75" stroke="#7a7a7a" stroke-width="0.8"/>
<line x1="25.5" y1="361.87" x2="26.7" y2="361.87" stroke="#7a7a7a" stroke-width="0.8"/>
<line x1="210.5" y1="361.87" x2="209.3" y2="361.87" stroke="#7a7a7a" stroke-width="0.8"/>
<line x1="25.5" y1="358.59" x2="26.7" y2="358.59" stroke="#7a7a7a" stroke-width="0.8"/>
<line x1="210.5" y1="358.59" x2="209.3" y2="358.59" stroke="#7a7a7a" stroke-width="0.8"/>
<line x1="25.5" y1="355.75" x2="26.7" y2="355.75" stroke="#7a7a7a" stroke-width="0.8"/>
<line x1="210.5" y1="355.75" x2="209.3" y2="355.75" stroke="#7a7a7a" stroke-width="0.8"/>
<line x1="25.5" y1="353.24" x2="26.7" y2="353.24" stroke="#7a7a7a" stroke-width="0.8"/>
<line x1="210.5" y1="353.24" x2="209.3" y2="353.24" stroke="#7a7a7a" stroke-width="0.8"/>
<line x1="25.5" y1="336.25" x2="26.7" y2="336.25" stroke="#7a7a7a" stroke-width="0.8"/>
<line x1="210.5" y1="336.25" x2="209.3" y2="336.25" stroke="#7a7a7a" stroke-width="0.8"/>
<line x1="25.5" y1="327.62" x2="26.7" y2="327.62" stroke="#7a7a7a" stroke-width="0.8"/>
<line x1="210.5" y1="327.62" x2="209.3" y2="327.62" stroke="#7a7a7a" stroke-width="0.8"/>
<line x1="25.5" y1="321.5" x2="26.7" y2="321.5" stroke="#7a7a7a" stroke-width="0.8"/>
<line x1="210.5" y1="321.5" x2="209.3" y2="321.5" stroke="#7a7a7a" stroke-width="0.8"/>
<line x1="25.5" y1="316.75" x2="26.7" y2="316.75" stroke="#7a7a7a" stroke-width="0.8"/>
<line x1="210.5" y1="316.75" x2="209.3" y2="316.75" stroke="#7a7a7a" stroke-width="0.8"/>
<line x1="25.5" y1="312.87" x2="26.7" y2="312.87" stroke="#7a7a7a" stroke-width="0.8"/>
<line x1="210.5" y1="312.87" x2="209.3" y2="312.87" stroke="#7a7a7a" stroke-width="0.8"/>
<line x1="25.5" y1="309.59" x2="26.7" y2="309.59" stroke="#7a7a7a" stroke-width="0.8"/>
<line x1="210.5" y1="309.59" x2="209.3" y2="309.59" stroke="#7a7a7a" stroke-width="0.8"/>
<line x1="25.5" y1="306.75" x2="26.7" y2="306.75" stroke="#7a7a7a" stroke-width="0.8"/>
<line x1="210.5" y1="306.75" x2="209.3" y2="306.75" stroke="#7a7a7a" stroke-width="0.8"/>
<line x1="25.5" y1="304.24" x2="26.7" y2="304.24" stroke="#7a7a7a" stroke-width="0.8"/>
<line x1="210.5" y1="304.24" x2="209.3" y2="304.24" stroke="#7a7a7a" stroke-width="0.8"/>
<line x1="25.5" y1="287.25" x2="26.7" y2="287.25" stroke="#7a7a7a" stroke-width="0.8"/>
<line x1="210.5" y1="287.25" x2="209.3" y2="287.25" stroke="#7a7a7a" stroke-width="0.8"/>
<line x1="25.5" y1="278.62" x2="26.7" y2="278.62" stroke="#7a7a7a" stroke-width="0.8"/>
<line x1="210.5" y1="278.62" x2="209.3" y2="278.62" stroke="#7a7a7a" stroke-width="0.8"/>
<line x1="25.5" y1="272.5" x2="26.7" y2="272.5" stroke="#7a7a7a" stroke-width="0.8"/>
<line x1="210.5" y1="272.5" x2="209.3" y2="272.5" stroke="#7a7a7a" stroke-width="0.8"/>
<line x1="25.5" y1="267.75" x2="26.7" y2="267.75" stroke="#7a7a7a" stroke-width="0.8"/>
<line x1="210.5" y1="267.75" x2="209.3" y2="267.75" stroke="#7a7a7a" stroke-width="0.8"/>
<line x1="25.5" y1="263.87" x2="26.7" y2="263.87" stroke="#7a7a7a" stroke-width="0.8"/>
<line x1="210.5" y1="263.87" x2="209.3" y2="263.87" stroke="#7a7a7a" stroke-width="0.8"/>
<line x1="25.5" y1="260.59" x2="26.7" y2="260.59" stroke="#7a7a7a" stroke-width="0.8"/>
<line x1="210.5" y1="260.59" x2="209.3" y2="260.59" stroke="#7a7a7a" stroke-width="0.8"/>
<line x1="25.5" y1="257.75" x2="26.7" y2="257.75" stroke="#7a7a7a" stroke-width="0.8"/>
<line x1="210.5" y1="257.75" x2="209.3" y2="257.75" stroke="#7a7a7a" stroke-width="0.8"/>
<line x1="25.5" y1="255.24" x2="26.7" y2="255.24" stroke="#7a7a7a" stroke-width="0.8"/>
<line x1="210.5" y1="255.24" x2="209.3" y2="255.24" stroke="#7a7a7a" stroke-width="0.8"/>
<line x1="25.5" y1="238.25" x2="26.7" y2="238.25" stroke="#7a7a7a" stroke-width="0.8"/>
<line x1="210.5" y1="238.25" x2="209.3" y2="238.25" stroke="#7a7a7a" stroke-width="0.8"/>
<path d="M40.8,238.6 C42.33,238.67 46.8,238.82 50,239 C53.2,239.18 56.72,239.33 60,239.7 C63.28,240.07 66.47,240.57 69.7,241.2 C72.93,241.83 76.18,242.53 79.4,243.5 C82.62,244.47 85.78,245.7 89,247 C92.22,248.3 95.47,249.62 98.7,251.3 C101.93,252.98 105.17,255.17 108.4,257.1 C111.63,259.03 114.88,261.13 118.1,262.9 C121.32,264.67 124.48,266.15 127.7,267.7 C130.92,269.25 134.82,270.75 137.4,272.2 C139.98,273.65 141.42,274.57 143.2,276.4 C144.98,278.23 146.53,280.18 148.1,283.2 C149.67,286.22 151.22,290.37 152.6,294.5 C153.98,298.63 155.28,303.17 156.4,308 C157.52,312.83 158.38,318.65 159.3,323.5 C160.22,328.35 160.88,332.25 161.9,337.1 C162.92,341.95 163.82,348.25 165.4,352.6 C166.98,356.95 169.02,360.57 171.4,363.2 C173.78,365.83 176.57,367.02 179.7,368.4 C182.83,369.78 188.45,370.98 190.2,371.5" fill="none" stroke="#0000ff" stroke-width="3.7" stroke-linecap="round"/>
<path d="M40.8,277.7 C42.33,277.93 46.8,278.6 50,279.1 C53.2,279.6 56.72,280.12 60,280.7 C63.28,281.28 66.47,281.92 69.7,282.6 C72.93,283.28 76.18,284.12 79.4,284.8 C82.62,285.48 85.78,286.07 89,286.7 C92.22,287.33 95.47,287.88 98.7,288.6 C101.93,289.32 105.17,290.28 108.4,291 C111.63,291.72 114.88,292.33 118.1,292.9 C121.32,293.47 124.48,293.85 127.7,294.4 C130.92,294.95 134.43,295.38 137.4,296.2 C140.37,297.02 143.4,298.1 145.5,299.3 C147.6,300.5 148.67,301.85 150,303.4 C151.33,304.95 152.27,306.53 153.5,308.6 C154.73,310.67 156.1,312.82 157.4,315.8 C158.7,318.78 159.85,323.47 161.3,326.5 C162.75,329.53 164,331.92 166.1,334 C168.2,336.08 171.32,337.77 173.9,339 C176.48,340.23 178.88,340.68 181.6,341.4 C184.32,342.12 188.77,342.98 190.2,343.3" fill="none" stroke="#ff0000" stroke-width="4.1" stroke-linecap="round"/>
<line x1="158.8" y1="242" x2="158.8" y2="367.3" stroke="#111" stroke-width="1.9" stroke-dasharray="5.2,4"/>
<text x="185.4" y="270.3" font-size="9" text-anchor="middle" font-weight="bold" fill="#000" font-family="Liberation Sans" style="white-space:pre">Liquid-like</text>
<text x="77.8" y="344.2" font-size="9" text-anchor="middle" font-weight="bold" fill="#000" font-family="Liberation Sans" style="white-space:pre">Solid-like</text>
<text x="25" y="383.9" font-size="5.8" text-anchor="middle" font-weight="normal" fill="#333" font-family="Liberation Sans" style="white-space:pre">0</text>
<text x="45.61" y="383.9" font-size="5.8" text-anchor="middle" font-weight="normal" fill="#333" font-family="Liberation Sans" style="white-space:pre">5</text>
<text x="66.22" y="383.9" font-size="5.8" text-anchor="middle" font-weight="normal" fill="#333" font-family="Liberation Sans" style="white-space:pre">10</text>
<text x="86.83" y="383.9" font-size="5.8" text-anchor="middle" font-weight="normal" fill="#333" font-family="Liberation Sans" style="white-space:pre">15</text>
<text x="107.44" y="383.9" font-size="5.8" text-anchor="middle" font-weight="normal" fill="#333" font-family="Liberation Sans" style="white-space:pre">20</text>
<text x="128.06" y="383.9" font-size="5.8" text-anchor="middle" font-weight="normal" fill="#333" font-family="Liberation Sans" style="white-space:pre">25</text>
<text x="148.67" y="383.9" font-size="5.8" text-anchor="middle" font-weight="normal" fill="#333" font-family="Liberation Sans" style="white-space:pre">30</text>
<text x="169.28" y="383.9" font-size="5.8" text-anchor="middle" font-weight="normal" fill="#333" font-family="Liberation Sans" style="white-space:pre">35</text>
<text x="189.89" y="383.9" font-size="5.8" text-anchor="middle" font-weight="normal" fill="#333" font-family="Liberation Sans" style="white-space:pre">40</text>
<text x="210.5" y="383.9" font-size="5.8" text-anchor="middle" font-weight="normal" fill="#333" font-family="Liberation Sans" style="white-space:pre">45</text>
<text x="23" y="352.8" font-size="5.6" text-anchor="end" font-weight="normal" fill="#1a1a1a" font-family="Liberation Sans" transform="rotate(-6 23 352.8)" style="white-space:pre">10<tspan font-size="4.03" dy="-2.2">1</tspan></text>
<text x="23" y="303.8" font-size="5.6" text-anchor="end" font-weight="normal" fill="#1a1a1a" font-family="Liberation Sans" transform="rotate(-6 23 303.8)" style="white-space:pre">10<tspan font-size="4.03" dy="-2.2">2</tspan></text>
<text x="23" y="254.8" font-size="5.6" text-anchor="end" font-weight="normal" fill="#1a1a1a" font-family="Liberation Sans" transform="rotate(-6 23 254.8)" style="white-space:pre">10<tspan font-size="4.03" dy="-2.2">3</tspan></text>
<text x="117.7" y="396.3" font-size="11.5" text-anchor="middle" font-weight="bold" fill="#000" font-family="Liberation Sans" style="white-space:pre">T [°C]</text>
<text x="9.3" y="303.7" font-size="11.5" text-anchor="middle" font-weight="bold" fill="#000" font-family="Liberation Sans" transform="rotate(-90 9.3 303.7)" style="white-space:pre">G', G''  [Pa]</text>
<text x="1" y="226.6" font-size="13.5" text-anchor="start" font-weight="bold" fill="#000" font-family="Liberation Sans" style="white-space:pre">c)</text>
<line x1="27.9" y1="787.56" x2="212.6" y2="787.56" stroke="#e3e3e3" stroke-width="0.6" stroke-dasharray="1,1"/>
<line x1="27.9" y1="782.67" x2="212.6" y2="782.67" stroke="#e3e3e3" stroke-width="0.6" stroke-dasharray="1,1"/>
<line x1="27.9" y1="778.68" x2="212.6" y2="778.68" stroke="#e3e3e3" stroke-width="0.6" stroke-dasharray="1,1"/>
<line x1="27.9" y1="775.31" x2="212.6" y2="775.31" stroke="#e3e3e3" stroke-width="0.6" stroke-dasharray="1,1"/>
<line x1="27.9" y1="772.38" x2="212.6" y2="772.38" stroke="#e3e3e3" stroke-width="0.6" stroke-dasharray="1,1"/>
<line x1="27.9" y1="769.81" x2="212.6" y2="769.81" stroke="#e3e3e3" stroke-width="0.6" stroke-dasharray="1,1"/>
<line x1="27.9" y1="752.33" x2="212.6" y2="752.33" stroke="#e3e3e3" stroke-width="0.6" stroke-dasharray="1,1"/>
<line x1="27.9" y1="743.45" x2="212.6" y2="743.45" stroke="#e3e3e3" stroke-width="0.6" stroke-dasharray="1,1"/>
<line x1="27.9" y1="737.16" x2="212.6" y2="737.16" stroke="#e3e3e3" stroke-width="0.6" stroke-dasharray="1,1"/>
<line x1="27.9" y1="732.27" x2="212.6" y2="732.27" stroke="#e3e3e3" stroke-width="0.6" stroke-dasharray="1,1"/>
<line x1="27.9" y1="728.28" x2="212.6" y2="728.28" stroke="#e3e3e3" stroke-width="0.6" stroke-dasharray="1,1"/>
<line x1="27.9" y1="724.91" x2="212.6" y2="724.91" stroke="#e3e3e3" stroke-width="0.6" stroke-dasharray="1,1"/>
<line x1="27.9" y1="721.98" x2="212.6" y2="721.98" stroke="#e3e3e3" stroke-width="0.6" stroke-dasharray="1,1"/>
<line x1="27.9" y1="719.41" x2="212.6" y2="719.41" stroke="#e3e3e3" stroke-width="0.6" stroke-dasharray="1,1"/>
<line x1="27.9" y1="701.93" x2="212.6" y2="701.93" stroke="#e3e3e3" stroke-width="0.6" stroke-dasharray="1,1"/>
<line x1="27.9" y1="693.05" x2="212.6" y2="693.05" stroke="#e3e3e3" stroke-width="0.6" stroke-dasharray="1,1"/>
<line x1="27.9" y1="686.76" x2="212.6" y2="686.76" stroke="#e3e3e3" stroke-width="0.6" stroke-dasharray="1,1"/>
<line x1="27.9" y1="681.87" x2="212.6" y2="681.87" stroke="#e3e3e3" stroke-width="0.6" stroke-dasharray="1,1"/>
<line x1="27.9" y1="677.88" x2="212.6" y2="677.88" stroke="#e3e3e3" stroke-width="0.6" stroke-dasharray="1,1"/>
<line x1="27.9" y1="674.51" x2="212.6" y2="674.51" stroke="#e3e3e3" stroke-width="0.6" stroke-dasharray="1,1"/>
<line x1="27.9" y1="671.58" x2="212.6" y2="671.58" stroke="#e3e3e3" stroke-width="0.6" stroke-dasharray="1,1"/>
<line x1="27.9" y1="669.01" x2="212.6" y2="669.01" stroke="#e3e3e3" stroke-width="0.6" stroke-dasharray="1,1"/>
<line x1="27.9" y1="651.53" x2="212.6" y2="651.53" stroke="#e3e3e3" stroke-width="0.6" stroke-dasharray="1,1"/>
<line x1="48.07" y1="647.8" x2="48.07" y2="788" stroke="#e9e9e9" stroke-width="0.7"/>
<line x1="68.63" y1="647.8" x2="68.63" y2="788" stroke="#e9e9e9" stroke-width="0.7"/>
<line x1="89.2" y1="647.8" x2="89.2" y2="788" stroke="#e9e9e9" stroke-width="0.7"/>
<line x1="109.77" y1="647.8" x2="109.77" y2="788" stroke="#e9e9e9" stroke-width="0.7"/>
<line x1="130.33" y1="647.8" x2="130.33" y2="788" stroke="#e9e9e9" stroke-width="0.7"/>
<line x1="150.9" y1="647.8" x2="150.9" y2="788" stroke="#e9e9e9" stroke-width="0.7"/>
<line x1="171.47" y1="647.8" x2="171.47" y2="788" stroke="#e9e9e9" stroke-width="0.7"/>
<line x1="192.03" y1="647.8" x2="192.03" y2="788" stroke="#e9e9e9" stroke-width="0.7"/>
<line x1="27.9" y1="767.5" x2="212.6" y2="767.5" stroke="#e9e9e9" stroke-width="0.7"/>
<line x1="27.9" y1="717.1" x2="212.6" y2="717.1" stroke="#e9e9e9" stroke-width="0.7"/>
<line x1="27.9" y1="666.7" x2="212.6" y2="666.7" stroke="#e9e9e9" stroke-width="0.7"/>
<rect x="27.9" y="647.8" width="184.7" height="140.2" fill="none" stroke="#b9b9b9" stroke-width="1.9"/>
<line x1="27.5" y1="788" x2="27.5" y2="786.4" stroke="#7a7a7a" stroke-width="0.9"/>
<line x1="27.5" y1="647.8" x2="27.5" y2="649.4" stroke="#7a7a7a" stroke-width="0.9"/>
<line x1="48.07" y1="788" x2="48.07" y2="786.4" stroke="#7a7a7a" stroke-width="0.9"/>
<line x1="48.07" y1="647.8" x2="48.07" y2="649.4" stroke="#7a7a7a" stroke-width="0.9"/>
<line x1="68.63" y1="788" x2="68.63" y2="786.4" stroke="#7a7a7a" stroke-width="0.9"/>
<line x1="68.63" y1="647.8" x2="68.63" y2="649.4" stroke="#7a7a7a" stroke-width="0.9"/>
<line x1="89.2" y1="788" x2="89.2" y2="786.4" stroke="#7a7a7a" stroke-width="0.9"/>
<line x1="89.2" y1="647.8" x2="89.2" y2="649.4" stroke="#7a7a7a" stroke-width="0.9"/>
<line x1="109.77" y1="788" x2="109.77" y2="786.4" stroke="#7a7a7a" stroke-width="0.9"/>
<line x1="109.77" y1="647.8" x2="109.77" y2="649.4" stroke="#7a7a7a" stroke-width="0.9"/>
<line x1="130.33" y1="788" x2="130.33" y2="786.4" stroke="#7a7a7a" stroke-width="0.9"/>
<line x1="130.33" y1="647.8" x2="130.33" y2="649.4" stroke="#7a7a7a" stroke-width="0.9"/>
<line x1="150.9" y1="788" x2="150.9" y2="786.4" stroke="#7a7a7a" stroke-width="0.9"/>
<line x1="150.9" y1="647.8" x2="150.9" y2="649.4" stroke="#7a7a7a" stroke-width="0.9"/>
<line x1="171.47" y1="788" x2="171.47" y2="786.4" stroke="#7a7a7a" stroke-width="0.9"/>
<line x1="171.47" y1="647.8" x2="171.47" y2="649.4" stroke="#7a7a7a" stroke-width="0.9"/>
<line x1="192.03" y1="788" x2="192.03" y2="786.4" stroke="#7a7a7a" stroke-width="0.9"/>
<line x1="192.03" y1="647.8" x2="192.03" y2="649.4" stroke="#7a7a7a" stroke-width="0.9"/>
<line x1="212.6" y1="788" x2="212.6" y2="786.4" stroke="#7a7a7a" stroke-width="0.9"/>
<line x1="212.6" y1="647.8" x2="212.6" y2="649.4" stroke="#7a7a7a" stroke-width="0.9"/>
<line x1="27.9" y1="767.5" x2="29.5" y2="767.5" stroke="#7a7a7a" stroke-width="0.9"/>
<line x1="212.6" y1="767.5" x2="211" y2="767.5" stroke="#7a7a7a" stroke-width="0.9"/>
<line x1="27.9" y1="717.1" x2="29.5" y2="717.1" stroke="#7a7a7a" stroke-width="0.9"/>
<line x1="212.6" y1="717.1" x2="211" y2="717.1" stroke="#7a7a7a" stroke-width="0.9"/>
<line x1="27.9" y1="666.7" x2="29.5" y2="666.7" stroke="#7a7a7a" stroke-width="0.9"/>
<line x1="212.6" y1="666.7" x2="211" y2="666.7" stroke="#7a7a7a" stroke-width="0.9"/>
<line x1="27.9" y1="787.56" x2="29.1" y2="787.56" stroke="#7a7a7a" stroke-width="0.8"/>
<line x1="212.6" y1="787.56" x2="211.4" y2="787.56" stroke="#7a7a7a" stroke-width="0.8"/>
<line x1="27.9" y1="782.67" x2="29.1" y2="782.67" stroke="#7a7a7a" stroke-width="0.8"/>
<line x1="212.6" y1="782.67" x2="211.4" y2="782.67" stroke="#7a7a7a" stroke-width="0.8"/>
<line x1="27.9" y1="778.68" x2="29.1" y2="778.68" stroke="#7a7a7a" stroke-width="0.8"/>
<line x1="212.6" y1="778.68" x2="211.4" y2="778.68" stroke="#7a7a7a" stroke-width="0.8"/>
<line x1="27.9" y1="775.31" x2="29.1" y2="775.31" stroke="#7a7a7a" stroke-width="0.8"/>
<line x1="212.6" y1="775.31" x2="211.4" y2="775.31" stroke="#7a7a7a" stroke-width="0.8"/>
<line x1="27.9" y1="772.38" x2="29.1" y2="772.38" stroke="#7a7a7a" stroke-width="0.8"/>
<line x1="212.6" y1="772.38" x2="211.4" y2="772.38" stroke="#7a7a7a" stroke-width="0.8"/>
<line x1="27.9" y1="769.81" x2="29.1" y2="769.81" stroke="#7a7a7a" stroke-width="0.8"/>
<line x1="212.6" y1="769.81" x2="211.4" y2="769.81" stroke="#7a7a7a" stroke-width="0.8"/>
<line x1="27.9" y1="752.33" x2="29.1" y2="752.33" stroke="#7a7a7a" stroke-width="0.8"/>
<line x1="212.6" y1="752.33" x2="211.4" y2="752.33" stroke="#7a7a7a" stroke-width="0.8"/>
<line x1="27.9" y1="743.45" x2="29.1" y2="743.45" stroke="#7a7a7a" stroke-width="0.8"/>
<line x1="212.6" y1="743.45" x2="211.4" y2="743.45" stroke="#7a7a7a" stroke-width="0.8"/>
<line x1="27.9" y1="737.16" x2="29.1" y2="737.16" stroke="#7a7a7a" stroke-width="0.8"/>
<line x1="212.6" y1="737.16" x2="211.4" y2="737.16" stroke="#7a7a7a" stroke-width="0.8"/>
<line x1="27.9" y1="732.27" x2="29.1" y2="732.27" stroke="#7a7a7a" stroke-width="0.8"/>
<line x1="212.6" y1="732.27" x2="211.4" y2="732.27" stroke="#7a7a7a" stroke-width="0.8"/>
<line x1="27.9" y1="728.28" x2="29.1" y2="728.28" stroke="#7a7a7a" stroke-width="0.8"/>
<line x1="212.6" y1="728.28" x2="211.4" y2="728.28" stroke="#7a7a7a" stroke-width="0.8"/>
<line x1="27.9" y1="724.91" x2="29.1" y2="724.91" stroke="#7a7a7a" stroke-width="0.8"/>
<line x1="212.6" y1="724.91" x2="211.4" y2="724.91" stroke="#7a7a7a" stroke-width="0.8"/>
<line x1="27.9" y1="721.98" x2="29.1" y2="721.98" stroke="#7a7a7a" stroke-width="0.8"/>
<line x1="212.6" y1="721.98" x2="211.4" y2="721.98" stroke="#7a7a7a" stroke-width="0.8"/>
<line x1="27.9" y1="719.41" x2="29.1" y2="719.41" stroke="#7a7a7a" stroke-width="0.8"/>
<line x1="212.6" y1="719.41" x2="211.4" y2="719.41" stroke="#7a7a7a" stroke-width="0.8"/>
<line x1="27.9" y1="701.93" x2="29.1" y2="701.93" stroke="#7a7a7a" stroke-width="0.8"/>
<line x1="212.6" y1="701.93" x2="211.4" y2="701.93" stroke="#7a7a7a" stroke-width="0.8"/>
<line x1="27.9" y1="693.05" x2="29.1" y2="693.05" stroke="#7a7a7a" stroke-width="0.8"/>
<line x1="212.6" y1="693.05" x2="211.4" y2="693.05" stroke="#7a7a7a" stroke-width="0.8"/>
<line x1="27.9" y1="686.76" x2="29.1" y2="686.76" stroke="#7a7a7a" stroke-width="0.8"/>
<line x1="212.6" y1="686.76" x2="211.4" y2="686.76" stroke="#7a7a7a" stroke-width="0.8"/>
<line x1="27.9" y1="681.87" x2="29.1" y2="681.87" stroke="#7a7a7a" stroke-width="0.8"/>
<line x1="212.6" y1="681.87" x2="211.4" y2="681.87" stroke="#7a7a7a" stroke-width="0.8"/>
<line x1="27.9" y1="677.88" x2="29.1" y2="677.88" stroke="#7a7a7a" stroke-width="0.8"/>
<line x1="212.6" y1="677.88" x2="211.4" y2="677.88" stroke="#7a7a7a" stroke-width="0.8"/>
<line x1="27.9" y1="674.51" x2="29.1" y2="674.51" stroke="#7a7a7a" stroke-width="0.8"/>
<line x1="212.6" y1="674.51" x2="211.4" y2="674.51" stroke="#7a7a7a" stroke-width="0.8"/>
<line x1="27.9" y1="671.58" x2="29.1" y2="671.58" stroke="#7a7a7a" stroke-width="0.8"/>
<line x1="212.6" y1="671.58" x2="211.4" y2="671.58" stroke="#7a7a7a" stroke-width="0.8"/>
<line x1="27.9" y1="669.01" x2="29.1" y2="669.01" stroke="#7a7a7a" stroke-width="0.8"/>
<line x1="212.6" y1="669.01" x2="211.4" y2="669.01" stroke="#7a7a7a" stroke-width="0.8"/>
<line x1="27.9" y1="651.53" x2="29.1" y2="651.53" stroke="#7a7a7a" stroke-width="0.8"/>
<line x1="212.6" y1="651.53" x2="211.4" y2="651.53" stroke="#7a7a7a" stroke-width="0.8"/>
<path d="M43.2,653.1 C44.23,653.1 46.77,653 49.4,653.1 C52.03,653.2 55.78,653.37 59,653.7 C62.22,654.03 65.47,654.52 68.7,655.1 C71.93,655.68 75.17,656.37 78.4,657.2 C81.63,658.03 84.88,658.97 88.1,660.1 C91.32,661.23 94.3,662.43 97.7,664 C101.1,665.57 104.83,667.33 108.5,669.5 C112.17,671.67 116.22,674.72 119.7,677 C123.18,679.28 126.18,681.2 129.4,683.2 C132.62,685.2 136.43,687.22 139,689 C141.57,690.78 143.02,691.8 144.8,693.9 C146.58,696 148.25,698.87 149.7,701.6 C151.15,704.33 152.22,706.92 153.5,710.3 C154.78,713.68 156.2,717.38 157.4,721.9 C158.6,726.42 159.63,732.23 160.7,737.4 C161.77,742.57 162.73,747.73 163.8,752.9 C164.87,758.07 165.75,764.05 167.1,768.4 C168.45,772.75 169.8,776.27 171.9,779 C174,781.73 176.3,783.28 179.7,784.8 C183.1,786.32 190.2,787.55 192.3,788.1" fill="none" stroke="#0000ff" stroke-width="3.7" stroke-linecap="round"/>
<path d="M43.2,693 C45.83,693.38 54.75,694.65 59,695.3 C63.25,695.95 65.47,696.32 68.7,696.9 C71.93,697.48 75.17,698.1 78.4,698.8 C81.63,699.5 84.88,700.3 88.1,701.1 C91.32,701.9 94.3,702.75 97.7,703.6 C101.1,704.45 104.83,705.27 108.5,706.2 C112.17,707.13 116.22,708.35 119.7,709.2 C123.18,710.05 126.18,710.63 129.4,711.3 C132.62,711.97 136.1,712.23 139,713.2 C141.9,714.17 144.53,715.48 146.8,717.1 C149.07,718.72 150.83,720.65 152.6,722.9 C154.37,725.15 155.95,727.85 157.4,730.6 C158.85,733.35 159.85,736.33 161.3,739.4 C162.75,742.47 164,746.37 166.1,749 C168.2,751.63 171,753.65 173.9,755.2 C176.8,756.75 180.43,757.55 183.5,758.3 C186.57,759.05 190.83,759.47 192.3,759.7" fill="none" stroke="#ff0000" stroke-width="4.1" stroke-linecap="round"/>
<line x1="160.7" y1="650.8" x2="160.7" y2="785" stroke="#111" stroke-width="1.9" stroke-dasharray="5.2,4"/>
<text x="188.5" y="677" font-size="9" text-anchor="middle" font-weight="bold" fill="#000" font-family="Liberation Sans" style="white-space:pre">Liquid-like</text>
<text x="82.4" y="755.9" font-size="9" text-anchor="middle" font-weight="bold" fill="#000" font-family="Liberation Sans" style="white-space:pre">Solid-like</text>
<text x="27.5" y="797.3" font-size="5.8" text-anchor="middle" font-weight="normal" fill="#333" font-family="Liberation Sans" style="white-space:pre">0</text>
<text x="48.07" y="797.3" font-size="5.8" text-anchor="middle" font-weight="normal" fill="#333" font-family="Liberation Sans" style="white-space:pre">5</text>
<text x="68.63" y="797.3" font-size="5.8" text-anchor="middle" font-weight="normal" fill="#333" font-family="Liberation Sans" style="white-space:pre">10</text>
<text x="89.2" y="797.3" font-size="5.8" text-anchor="middle" font-weight="normal" fill="#333" font-family="Liberation Sans" style="white-space:pre">15</text>
<text x="109.77" y="797.3" font-size="5.8" text-anchor="middle" font-weight="normal" fill="#333" font-family="Liberation Sans" style="white-space:pre">20</text>
<text x="130.33" y="797.3" font-size="5.8" text-anchor="middle" font-weight="normal" fill="#333" font-family="Liberation Sans" style="white-space:pre">25</text>
<text x="150.9" y="797.3" font-size="5.8" text-anchor="middle" font-weight="normal" fill="#333" font-family="Liberation Sans" style="white-space:pre">30</text>
<text x="171.47" y="797.3" font-size="5.8" text-anchor="middle" font-weight="normal" fill="#333" font-family="Liberation Sans" style="white-space:pre">35</text>
<text x="192.03" y="797.3" font-size="5.8" text-anchor="middle" font-weight="normal" fill="#333" font-family="Liberation Sans" style="white-space:pre">40</text>
<text x="212.6" y="797.3" font-size="5.8" text-anchor="middle" font-weight="normal" fill="#333" font-family="Liberation Sans" style="white-space:pre">45</text>
<text x="25.4" y="769.3" font-size="5.6" text-anchor="end" font-weight="normal" fill="#1a1a1a" font-family="Liberation Sans" transform="rotate(-6 25.4 769.3)" style="white-space:pre">10<tspan font-size="4.03" dy="-2.2">1</tspan></text>
<text x="25.4" y="718.9" font-size="5.6" text-anchor="end" font-weight="normal" fill="#1a1a1a" font-family="Liberation Sans" transform="rotate(-6 25.4 718.9)" style="white-space:pre">10<tspan font-size="4.03" dy="-2.2">2</tspan></text>
<text x="25.4" y="668.5" font-size="5.6" text-anchor="end" font-weight="normal" fill="#1a1a1a" font-family="Liberation Sans" transform="rotate(-6 25.4 668.5)" style="white-space:pre">10<tspan font-size="4.03" dy="-2.2">3</tspan></text>
<text x="120" y="809.8" font-size="11.5" text-anchor="middle" font-weight="bold" fill="#000" font-family="Liberation Sans" style="white-space:pre">T [°C]</text>
<text x="12.3" y="718.5" font-size="11.5" text-anchor="middle" font-weight="bold" fill="#000" font-family="Liberation Sans" transform="rotate(-90 12.3 718.5)" style="white-space:pre">G', G''  [Pa]</text>
<text x="3" y="640" font-size="13.5" text-anchor="start" font-weight="bold" fill="#000" font-family="Liberation Sans" style="white-space:pre">g)</text>
<line x1="255.5" y1="363.39" x2="444.8" y2="363.39" stroke="#e3e3e3" stroke-width="0.6" stroke-dasharray="1,1"/>
<line x1="255.5" y1="355.67" x2="444.8" y2="355.67" stroke="#e3e3e3" stroke-width="0.6" stroke-dasharray="1,1"/>
<line x1="255.5" y1="350.19" x2="444.8" y2="350.19" stroke="#e3e3e3" stroke-width="0.6" stroke-dasharray="1,1"/>
<line x1="255.5" y1="345.94" x2="444.8" y2="345.94" stroke="#e3e3e3" stroke-width="0.6" stroke-dasharray="1,1"/>
<line x1="255.5" y1="342.47" x2="444.8" y2="342.47" stroke="#e3e3e3" stroke-width="0.6" stroke-dasharray="1,1"/>
<line x1="255.5" y1="339.53" x2="444.8" y2="339.53" stroke="#e3e3e3" stroke-width="0.6" stroke-dasharray="1,1"/>
<line x1="255.5" y1="336.98" x2="444.8" y2="336.98" stroke="#e3e3e3" stroke-width="0.6" stroke-dasharray="1,1"/>
<line x1="255.5" y1="334.74" x2="444.8" y2="334.74" stroke="#e3e3e3" stroke-width="0.6" stroke-dasharray="1,1"/>
<line x1="255.5" y1="319.53" x2="444.8" y2="319.53" stroke="#e3e3e3" stroke-width="0.6" stroke-dasharray="1,1"/>
<line x1="255.5" y1="311.8" x2="444.8" y2="311.8" stroke="#e3e3e3" stroke-width="0.6" stroke-dasharray="1,1"/>
<line x1="255.5" y1="306.32" x2="444.8" y2="306.32" stroke="#e3e3e3" stroke-width="0.6" stroke-dasharray="1,1"/>
<line x1="255.5" y1="302.07" x2="444.8" y2="302.07" stroke="#e3e3e3" stroke-width="0.6" stroke-dasharray="1,1"/>
<line x1="255.5" y1="298.6" x2="444.8" y2="298.6" stroke="#e3e3e3" stroke-width="0.6" stroke-dasharray="1,1"/>
<line x1="255.5" y1="295.66" x2="444.8" y2="295.66" stroke="#e3e3e3" stroke-width="0.6" stroke-dasharray="1,1"/>
<line x1="255.5" y1="293.12" x2="444.8" y2="293.12" stroke="#e3e3e3" stroke-width="0.6" stroke-dasharray="1,1"/>
<line x1="255.5" y1="290.87" x2="444.8" y2="290.87" stroke="#e3e3e3" stroke-width="0.6" stroke-dasharray="1,1"/>
<line x1="255.5" y1="275.66" x2="444.8" y2="275.66" stroke="#e3e3e3" stroke-width="0.6" stroke-dasharray="1,1"/>
<line x1="255.5" y1="267.94" x2="444.8" y2="267.94" stroke="#e3e3e3" stroke-width="0.6" stroke-dasharray="1,1"/>
<line x1="255.5" y1="262.46" x2="444.8" y2="262.46" stroke="#e3e3e3" stroke-width="0.6" stroke-dasharray="1,1"/>
<line x1="255.5" y1="258.21" x2="444.8" y2="258.21" stroke="#e3e3e3" stroke-width="0.6" stroke-dasharray="1,1"/>
<line x1="255.5" y1="254.73" x2="444.8" y2="254.73" stroke="#e3e3e3" stroke-width="0.6" stroke-dasharray="1,1"/>
<line x1="255.5" y1="251.8" x2="444.8" y2="251.8" stroke="#e3e3e3" stroke-width="0.6" stroke-dasharray="1,1"/>
<line x1="255.5" y1="249.25" x2="444.8" y2="249.25" stroke="#e3e3e3" stroke-width="0.6" stroke-dasharray="1,1"/>
<line x1="255.5" y1="247.01" x2="444.8" y2="247.01" stroke="#e3e3e3" stroke-width="0.6" stroke-dasharray="1,1"/>
<line x1="256" y1="232.3" x2="256" y2="376.6" stroke="#e9e9e9" stroke-width="0.7"/>
<line x1="287.47" y1="232.3" x2="287.47" y2="376.6" stroke="#e9e9e9" stroke-width="0.7"/>
<line x1="318.93" y1="232.3" x2="318.93" y2="376.6" stroke="#e9e9e9" stroke-width="0.7"/>
<line x1="350.4" y1="232.3" x2="350.4" y2="376.6" stroke="#e9e9e9" stroke-width="0.7"/>
<line x1="381.87" y1="232.3" x2="381.87" y2="376.6" stroke="#e9e9e9" stroke-width="0.7"/>
<line x1="413.33" y1="232.3" x2="413.33" y2="376.6" stroke="#e9e9e9" stroke-width="0.7"/>
<line x1="255.5" y1="332.73" x2="444.8" y2="332.73" stroke="#e9e9e9" stroke-width="0.7"/>
<line x1="255.5" y1="288.87" x2="444.8" y2="288.87" stroke="#e9e9e9" stroke-width="0.7"/>
<line x1="255.5" y1="245" x2="444.8" y2="245" stroke="#e9e9e9" stroke-width="0.7"/>
<rect x="255.5" y="232.3" width="189.3" height="144.3" fill="none" stroke="#b9b9b9" stroke-width="1.9"/>
<line x1="256" y1="376.6" x2="256" y2="375" stroke="#7a7a7a" stroke-width="0.9"/>
<line x1="256" y1="232.3" x2="256" y2="233.9" stroke="#7a7a7a" stroke-width="0.9"/>
<line x1="287.47" y1="376.6" x2="287.47" y2="375" stroke="#7a7a7a" stroke-width="0.9"/>
<line x1="287.47" y1="232.3" x2="287.47" y2="233.9" stroke="#7a7a7a" stroke-width="0.9"/>
<line x1="318.93" y1="376.6" x2="318.93" y2="375" stroke="#7a7a7a" stroke-width="0.9"/>
<line x1="318.93" y1="232.3" x2="318.93" y2="233.9" stroke="#7a7a7a" stroke-width="0.9"/>
<line x1="350.4" y1="376.6" x2="350.4" y2="375" stroke="#7a7a7a" stroke-width="0.9"/>
<line x1="350.4" y1="232.3" x2="350.4" y2="233.9" stroke="#7a7a7a" stroke-width="0.9"/>
<line x1="381.87" y1="376.6" x2="381.87" y2="375" stroke="#7a7a7a" stroke-width="0.9"/>
<line x1="381.87" y1="232.3" x2="381.87" y2="233.9" stroke="#7a7a7a" stroke-width="0.9"/>
<line x1="413.33" y1="376.6" x2="413.33" y2="375" stroke="#7a7a7a" stroke-width="0.9"/>
<line x1="413.33" y1="232.3" x2="413.33" y2="233.9" stroke="#7a7a7a" stroke-width="0.9"/>
<line x1="444.8" y1="376.6" x2="444.8" y2="375" stroke="#7a7a7a" stroke-width="0.9"/>
<line x1="444.8" y1="232.3" x2="444.8" y2="233.9" stroke="#7a7a7a" stroke-width="0.9"/>
<line x1="255.5" y1="376.6" x2="257.1" y2="376.6" stroke="#7a7a7a" stroke-width="0.9"/>
<line x1="444.8" y1="376.6" x2="443.2" y2="376.6" stroke="#7a7a7a" stroke-width="0.9"/>
<line x1="255.5" y1="332.73" x2="257.1" y2="332.73" stroke="#7a7a7a" stroke-width="0.9"/>
<line x1="444.8" y1="332.73" x2="443.2" y2="332.73" stroke="#7a7a7a" stroke-width="0.9"/>
<line x1="255.5" y1="288.87" x2="257.1" y2="288.87" stroke="#7a7a7a" stroke-width="0.9"/>
<line x1="444.8" y1="288.87" x2="443.2" y2="288.87" stroke="#7a7a7a" stroke-width="0.9"/>
<line x1="255.5" y1="245" x2="257.1" y2="245" stroke="#7a7a7a" stroke-width="0.9"/>
<line x1="444.8" y1="245" x2="443.2" y2="245" stroke="#7a7a7a" stroke-width="0.9"/>
<line x1="255.5" y1="363.39" x2="256.7" y2="363.39" stroke="#7a7a7a" stroke-width="0.8"/>
<line x1="444.8" y1="363.39" x2="443.6" y2="363.39" stroke="#7a7a7a" stroke-width="0.8"/>
<line x1="255.5" y1="355.67" x2="256.7" y2="355.67" stroke="#7a7a7a" stroke-width="0.8"/>
<line x1="444.8" y1="355.67" x2="443.6" y2="355.67" stroke="#7a7a7a" stroke-width="0.8"/>
<line x1="255.5" y1="350.19" x2="256.7" y2="350.19" stroke="#7a7a7a" stroke-width="0.8"/>
<line x1="444.8" y1="350.19" x2="443.6" y2="350.19" stroke="#7a7a7a" stroke-width="0.8"/>
<line x1="255.5" y1="345.94" x2="256.7" y2="345.94" stroke="#7a7a7a" stroke-width="0.8"/>
<line x1="444.8" y1="345.94" x2="443.6" y2="345.94" stroke="#7a7a7a" stroke-width="0.8"/>
<line x1="255.5" y1="342.47" x2="256.7" y2="342.47" stroke="#7a7a7a" stroke-width="0.8"/>
<line x1="444.8" y1="342.47" x2="443.6" y2="342.47" stroke="#7a7a7a" stroke-width="0.8"/>
<line x1="255.5" y1="339.53" x2="256.7" y2="339.53" stroke="#7a7a7a" stroke-width="0.8"/>
<line x1="444.8" y1="339.53" x2="443.6" y2="339.53" stroke="#7a7a7a" stroke-width="0.8"/>
<line x1="255.5" y1="336.98" x2="256.7" y2="336.98" stroke="#7a7a7a" stroke-width="0.8"/>
<line x1="444.8" y1="336.98" x2="443.6" y2="336.98" stroke="#7a7a7a" stroke-width="0.8"/>
<line x1="255.5" y1="334.74" x2="256.7" y2="334.74" stroke="#7a7a7a" stroke-width="0.8"/>
<line x1="444.8" y1="334.74" x2="443.6" y2="334.74" stroke="#7a7a7a" stroke-width="0.8"/>
<line x1="255.5" y1="319.53" x2="256.7" y2="319.53" stroke="#7a7a7a" stroke-width="0.8"/>
<line x1="444.8" y1="319.53" x2="443.6" y2="319.53" stroke="#7a7a7a" stroke-width="0.8"/>
<line x1="255.5" y1="311.8" x2="256.7" y2="311.8" stroke="#7a7a7a" stroke-width="0.8"/>
<line x1="444.8" y1="311.8" x2="443.6" y2="311.8" stroke="#7a7a7a" stroke-width="0.8"/>
<line x1="255.5" y1="306.32" x2="256.7" y2="306.32" stroke="#7a7a7a" stroke-width="0.8"/>
<line x1="444.8" y1="306.32" x2="443.6" y2="306.32" stroke="#7a7a7a" stroke-width="0.8"/>
<line x1="255.5" y1="302.07" x2="256.7" y2="302.07" stroke="#7a7a7a" stroke-width="0.8"/>
<line x1="444.8" y1="302.07" x2="443.6" y2="302.07" stroke="#7a7a7a" stroke-width="0.8"/>
<line x1="255.5" y1="298.6" x2="256.7" y2="298.6" stroke="#7a7a7a" stroke-width="0.8"/>
<line x1="444.8" y1="298.6" x2="443.6" y2="298.6" stroke="#7a7a7a" stroke-width="0.8"/>
<line x1="255.5" y1="295.66" x2="256.7" y2="295.66" stroke="#7a7a7a" stroke-width="0.8"/>
<line x1="444.8" y1="295.66" x2="443.6" y2="295.66" stroke="#7a7a7a" stroke-width="0.8"/>
<line x1="255.5" y1="293.12" x2="256.7" y2="293.12" stroke="#7a7a7a" stroke-width="0.8"/>
<line x1="444.8" y1="293.12" x2="443.6" y2="293.12" stroke="#7a7a7a" stroke-width="0.8"/>
<line x1="255.5" y1="290.87" x2="256.7" y2="290.87" stroke="#7a7a7a" stroke-width="0.8"/>
<line x1="444.8" y1="290.87" x2="443.6" y2="290.87" stroke="#7a7a7a" stroke-width="0.8"/>
<line x1="255.5" y1="275.66" x2="256.7" y2="275.66" stroke="#7a7a7a" stroke-width="0.8"/>
<line x1="444.8" y1="275.66" x2="443.6" y2="275.66" stroke="#7a7a7a" stroke-width="0.8"/>
<line x1="255.5" y1="267.94" x2="256.7" y2="267.94" stroke="#7a7a7a" stroke-width="0.8"/>
<line x1="444.8" y1="267.94" x2="443.6" y2="267.94" stroke="#7a7a7a" stroke-width="0.8"/>
<line x1="255.5" y1="262.46" x2="256.7" y2="262.46" stroke="#7a7a7a" stroke-width="0.8"/>
<line x1="444.8" y1="262.46" x2="443.6" y2="262.46" stroke="#7a7a7a" stroke-width="0.8"/>
<line x1="255.5" y1="258.21" x2="256.7" y2="258.21" stroke="#7a7a7a" stroke-width="0.8"/>
<line x1="444.8" y1="258.21" x2="443.6" y2="258.21" stroke="#7a7a7a" stroke-width="0.8"/>
<line x1="255.5" y1="254.73" x2="256.7" y2="254.73" stroke="#7a7a7a" stroke-width="0.8"/>
<line x1="444.8" y1="254.73" x2="443.6" y2="254.73" stroke="#7a7a7a" stroke-width="0.8"/>
<line x1="255.5" y1="251.8" x2="256.7" y2="251.8" stroke="#7a7a7a" stroke-width="0.8"/>
<line x1="444.8" y1="251.8" x2="443.6" y2="251.8" stroke="#7a7a7a" stroke-width="0.8"/>
<line x1="255.5" y1="249.25" x2="256.7" y2="249.25" stroke="#7a7a7a" stroke-width="0.8"/>
<line x1="444.8" y1="249.25" x2="443.6" y2="249.25" stroke="#7a7a7a" stroke-width="0.8"/>
<line x1="255.5" y1="247.01" x2="256.7" y2="247.01" stroke="#7a7a7a" stroke-width="0.8"/>
<line x1="444.8" y1="247.01" x2="443.6" y2="247.01" stroke="#7a7a7a" stroke-width="0.8"/>
<rect x="351.3" y="264.5" width="25.6" height="89.8" fill="#fce9bb" fill-opacity="0.85" stroke="#fbbd1d" stroke-width="1.3"/>
<polyline points="263.87,347.9 271.73,347.9 279.6,347.9 287.47,347.9 295.33,347.9 303.2,347.9 311.07,347.9 318.93,347.9 326.8,347.9 334.67,347.9 342.53,347.9 350.4,347.9 351.3,347.9 376.8,300.3 381.7,290.3 389.7,277.4 397,269.4 405.9,264.8 413.1,259.9 422,257.8" fill="none" stroke="#0000ff" stroke-width="2.1" stroke-linejoin="round" stroke-linecap="round"/>
<circle cx="263.87" cy="347.9" r="1.9" fill="#0000ff"/>
<circle cx="271.73" cy="347.9" r="1.9" fill="#0000ff"/>
<circle cx="279.6" cy="347.9" r="1.9" fill="#0000ff"/>
<circle cx="287.47" cy="347.9" r="1.9" fill="#0000ff"/>
<circle cx="295.33" cy="347.9" r="1.9" fill="#0000ff"/>
<circle cx="303.2" cy="347.9" r="1.9" fill="#0000ff"/>
<circle cx="311.07" cy="347.9" r="1.9" fill="#0000ff"/>
<circle cx="318.93" cy="347.9" r="1.9" fill="#0000ff"/>
<circle cx="326.8" cy="347.9" r="1.9" fill="#0000ff"/>
<circle cx="334.67" cy="347.9" r="1.9" fill="#0000ff"/>
<circle cx="342.53" cy="347.9" r="1.9" fill="#0000ff"/>
<circle cx="350.4" cy="347.9" r="1.9" fill="#0000ff"/>
<circle cx="376.8" cy="300.3" r="1.9" fill="#0000ff"/>
<circle cx="381.7" cy="290.3" r="1.9" fill="#0000ff"/>
<circle cx="389.7" cy="277.4" r="1.9" fill="#0000ff"/>
<circle cx="397" cy="269.4" r="1.9" fill="#0000ff"/>
<circle cx="405.9" cy="264.8" r="1.9" fill="#0000ff"/>
<circle cx="413.1" cy="259.9" r="1.9" fill="#0000ff"/>
<circle cx="422" cy="257.8" r="1.9" fill="#0000ff"/>
<polyline points="263.87,322.9 271.73,322.9 279.6,322.9 287.47,322.9 295.33,322.9 303.2,322.9 311.07,322.9 318.93,322.9 326.8,322.9 334.67,322.9 342.53,322.9 350.4,322.9 351.3,322.9 376.8,300.3 381.7,295.4 389.7,297 397,289.5 405.9,286.8 413.1,287.4 422,282" fill="none" stroke="#ff0000" stroke-width="2.3" stroke-linejoin="round" stroke-linecap="round"/>
<circle cx="263.87" cy="322.9" r="1.9" fill="#ff0000"/>
<circle cx="271.73" cy="322.9" r="1.9" fill="#ff0000"/>
<circle cx="279.6" cy="322.9" r="1.9" fill="#ff0000"/>
<circle cx="287.47" cy="322.9" r="1.9" fill="#ff0000"/>
<circle cx="295.33" cy="322.9" r="1.9" fill="#ff0000"/>
<circle cx="303.2" cy="322.9" r="1.9" fill="#ff0000"/>
<circle cx="311.07" cy="322.9" r="1.9" fill="#ff0000"/>
<circle cx="318.93" cy="322.9" r="1.9" fill="#ff0000"/>
<circle cx="326.8" cy="322.9" r="1.9" fill="#ff0000"/>
<circle cx="334.67" cy="322.9" r="1.9" fill="#ff0000"/>
<circle cx="342.53" cy="322.9" r="1.9" fill="#ff0000"/>
<circle cx="350.4" cy="322.9" r="1.9" fill="#ff0000"/>
<circle cx="376.8" cy="300.3" r="1.9" fill="#ff0000"/>
<circle cx="381.7" cy="295.4" r="1.9" fill="#ff0000"/>
<circle cx="389.7" cy="297" r="1.9" fill="#ff0000"/>
<circle cx="397" cy="289.5" r="1.9" fill="#ff0000"/>
<circle cx="405.9" cy="286.8" r="1.9" fill="#ff0000"/>
<circle cx="413.1" cy="287.4" r="1.9" fill="#ff0000"/>
<circle cx="422" cy="282" r="1.9" fill="#ff0000"/>
<line x1="377.1" y1="252" x2="377.1" y2="358.8" stroke="#111" stroke-width="1.9" stroke-dasharray="5.2,4"/>
<line x1="350.8" y1="358.2" x2="377.4" y2="358.2" stroke="#fbb417" stroke-width="1.6"/>
<path d="M350.8,358.2 l3.8,-2.6 M350.8,358.2 l3.8,2.6 M377.4,358.2 l-3.8,-2.6 M377.4,358.2 l-3.8,2.6" stroke="#fbb417" stroke-width="1.4" fill="none" stroke-linecap="round"/>
<text x="365.5" y="368" font-size="10.2" text-anchor="middle" fill="#fbb41d" font-weight="bold" font-family="Liberation Serif">Δt<tspan font-size="8.8" dy="2">gel</tspan></text>
<text x="305.2" y="279.2" font-size="9" text-anchor="middle" font-weight="bold" fill="#000" font-family="Liberation Sans" style="white-space:pre">Liquid-like</text>
<text x="418" y="321.6" font-size="9" text-anchor="middle" font-weight="bold" fill="#000" font-family="Liberation Sans" style="white-space:pre">Solid-like</text>
<text x="256" y="385.9" font-size="5.8" text-anchor="middle" font-weight="normal" fill="#333" font-family="Liberation Sans" style="white-space:pre">0</text>
<text x="287.47" y="385.9" font-size="5.8" text-anchor="middle" font-weight="normal" fill="#333" font-family="Liberation Sans" style="white-space:pre">20</text>
<text x="318.93" y="385.9" font-size="5.8" text-anchor="middle" font-weight="normal" fill="#333" font-family="Liberation Sans" style="white-space:pre">40</text>
<text x="350.4" y="385.9" font-size="5.8" text-anchor="middle" font-weight="normal" fill="#333" font-family="Liberation Sans" style="white-space:pre">60</text>
<text x="381.87" y="385.9" font-size="5.8" text-anchor="middle" font-weight="normal" fill="#333" font-family="Liberation Sans" style="white-space:pre">80</text>
<text x="413.33" y="385.9" font-size="5.8" text-anchor="middle" font-weight="normal" fill="#333" font-family="Liberation Sans" style="white-space:pre">100</text>
<text x="444.8" y="385.9" font-size="5.8" text-anchor="middle" font-weight="normal" fill="#333" font-family="Liberation Sans" style="white-space:pre">120</text>
<text x="253" y="378.4" font-size="5.6" text-anchor="end" font-weight="normal" fill="#1a1a1a" font-family="Liberation Sans" transform="rotate(-6 253 378.4)" style="white-space:pre">10<tspan font-size="4.03" dy="-2.2">0</tspan></text>
<text x="253" y="334.53" font-size="5.6" text-anchor="end" font-weight="normal" fill="#1a1a1a" font-family="Liberation Sans" transform="rotate(-6 253 334.53)" style="white-space:pre">10<tspan font-size="4.03" dy="-2.2">1</tspan></text>
<text x="253" y="290.67" font-size="5.6" text-anchor="end" font-weight="normal" fill="#1a1a1a" font-family="Liberation Sans" transform="rotate(-6 253 290.67)" style="white-space:pre">10<tspan font-size="4.03" dy="-2.2">2</tspan></text>
<text x="253" y="246.8" font-size="5.6" text-anchor="end" font-weight="normal" fill="#1a1a1a" font-family="Liberation Sans" transform="rotate(-6 253 246.8)" style="white-space:pre">10<tspan font-size="4.03" dy="-2.2">3</tspan></text>
<text x="350.5" y="399.3" font-size="11.5" text-anchor="middle" font-weight="bold" fill="#000" font-family="Liberation Sans" style="white-space:pre">t [sec]</text>
<text x="238.5" y="304.4" font-size="11.5" text-anchor="middle" font-weight="bold" fill="#000" font-family="Liberation Sans" transform="rotate(-90 238.5 304.4)" style="white-space:pre">G', G''  [Pa]</text>
<text x="231.5" y="229.2" font-size="13.5" text-anchor="start" font-weight="bold" fill="#000" font-family="Liberation Sans" style="white-space:pre">d)</text>
<line x1="255.5" y1="777.96" x2="443.8" y2="777.96" stroke="#e3e3e3" stroke-width="0.6" stroke-dasharray="1,1"/>
<line x1="255.5" y1="770.32" x2="443.8" y2="770.32" stroke="#e3e3e3" stroke-width="0.6" stroke-dasharray="1,1"/>
<line x1="255.5" y1="764.91" x2="443.8" y2="764.91" stroke="#e3e3e3" stroke-width="0.6" stroke-dasharray="1,1"/>
<line x1="255.5" y1="760.71" x2="443.8" y2="760.71" stroke="#e3e3e3" stroke-width="0.6" stroke-dasharray="1,1"/>
<line x1="255.5" y1="757.28" x2="443.8" y2="757.28" stroke="#e3e3e3" stroke-width="0.6" stroke-dasharray="1,1"/>
<line x1="255.5" y1="754.38" x2="443.8" y2="754.38" stroke="#e3e3e3" stroke-width="0.6" stroke-dasharray="1,1"/>
<line x1="255.5" y1="751.87" x2="443.8" y2="751.87" stroke="#e3e3e3" stroke-width="0.6" stroke-dasharray="1,1"/>
<line x1="255.5" y1="749.65" x2="443.8" y2="749.65" stroke="#e3e3e3" stroke-width="0.6" stroke-dasharray="1,1"/>
<line x1="255.5" y1="734.62" x2="443.8" y2="734.62" stroke="#e3e3e3" stroke-width="0.6" stroke-dasharray="1,1"/>
<line x1="255.5" y1="726.99" x2="443.8" y2="726.99" stroke="#e3e3e3" stroke-width="0.6" stroke-dasharray="1,1"/>
<line x1="255.5" y1="721.58" x2="443.8" y2="721.58" stroke="#e3e3e3" stroke-width="0.6" stroke-dasharray="1,1"/>
<line x1="255.5" y1="717.38" x2="443.8" y2="717.38" stroke="#e3e3e3" stroke-width="0.6" stroke-dasharray="1,1"/>
<line x1="255.5" y1="713.95" x2="443.8" y2="713.95" stroke="#e3e3e3" stroke-width="0.6" stroke-dasharray="1,1"/>
<line x1="255.5" y1="711.05" x2="443.8" y2="711.05" stroke="#e3e3e3" stroke-width="0.6" stroke-dasharray="1,1"/>
<line x1="255.5" y1="708.53" x2="443.8" y2="708.53" stroke="#e3e3e3" stroke-width="0.6" stroke-dasharray="1,1"/>
<line x1="255.5" y1="706.32" x2="443.8" y2="706.32" stroke="#e3e3e3" stroke-width="0.6" stroke-dasharray="1,1"/>
<line x1="255.5" y1="691.29" x2="443.8" y2="691.29" stroke="#e3e3e3" stroke-width="0.6" stroke-dasharray="1,1"/>
<line x1="255.5" y1="683.66" x2="443.8" y2="683.66" stroke="#e3e3e3" stroke-width="0.6" stroke-dasharray="1,1"/>
<line x1="255.5" y1="678.24" x2="443.8" y2="678.24" stroke="#e3e3e3" stroke-width="0.6" stroke-dasharray="1,1"/>
<line x1="255.5" y1="674.04" x2="443.8" y2="674.04" stroke="#e3e3e3" stroke-width="0.6" stroke-dasharray="1,1"/>
<line x1="255.5" y1="670.61" x2="443.8" y2="670.61" stroke="#e3e3e3" stroke-width="0.6" stroke-dasharray="1,1"/>
<line x1="255.5" y1="667.71" x2="443.8" y2="667.71" stroke="#e3e3e3" stroke-width="0.6" stroke-dasharray="1,1"/>
<line x1="255.5" y1="665.2" x2="443.8" y2="665.2" stroke="#e3e3e3" stroke-width="0.6" stroke-dasharray="1,1"/>
<line x1="255.5" y1="662.98" x2="443.8" y2="662.98" stroke="#e3e3e3" stroke-width="0.6" stroke-dasharray="1,1"/>
<line x1="255.5" y1="647.96" x2="443.8" y2="647.96" stroke="#e3e3e3" stroke-width="0.6" stroke-dasharray="1,1"/>
<line x1="256.4" y1="647.8" x2="256.4" y2="791" stroke="#e9e9e9" stroke-width="0.7"/>
<line x1="287.6" y1="647.8" x2="287.6" y2="791" stroke="#e9e9e9" stroke-width="0.7"/>
<line x1="318.8" y1="647.8" x2="318.8" y2="791" stroke="#e9e9e9" stroke-width="0.7"/>
<line x1="350" y1="647.8" x2="350" y2="791" stroke="#e9e9e9" stroke-width="0.7"/>
<line x1="381.2" y1="647.8" x2="381.2" y2="791" stroke="#e9e9e9" stroke-width="0.7"/>
<line x1="412.4" y1="647.8" x2="412.4" y2="791" stroke="#e9e9e9" stroke-width="0.7"/>
<line x1="443.6" y1="647.8" x2="443.6" y2="791" stroke="#e9e9e9" stroke-width="0.7"/>
<line x1="255.5" y1="747.67" x2="443.8" y2="747.67" stroke="#e9e9e9" stroke-width="0.7"/>
<line x1="255.5" y1="704.33" x2="443.8" y2="704.33" stroke="#e9e9e9" stroke-width="0.7"/>
<line x1="255.5" y1="661" x2="443.8" y2="661" stroke="#e9e9e9" stroke-width="0.7"/>
<rect x="255.5" y="647.8" width="188.3" height="143.2" fill="none" stroke="#b9b9b9" stroke-width="1.9"/>
<line x1="256.4" y1="791" x2="256.4" y2="789.4" stroke="#7a7a7a" stroke-width="0.9"/>
<line x1="256.4" y1="647.8" x2="256.4" y2="649.4" stroke="#7a7a7a" stroke-width="0.9"/>
<line x1="287.6" y1="791" x2="287.6" y2="789.4" stroke="#7a7a7a" stroke-width="0.9"/>
<line x1="287.6" y1="647.8" x2="287.6" y2="649.4" stroke="#7a7a7a" stroke-width="0.9"/>
<line x1="318.8" y1="791" x2="318.8" y2="789.4" stroke="#7a7a7a" stroke-width="0.9"/>
<line x1="318.8" y1="647.8" x2="318.8" y2="649.4" stroke="#7a7a7a" stroke-width="0.9"/>
<line x1="350" y1="791" x2="350" y2="789.4" stroke="#7a7a7a" stroke-width="0.9"/>
<line x1="350" y1="647.8" x2="350" y2="649.4" stroke="#7a7a7a" stroke-width="0.9"/>
<line x1="381.2" y1="791" x2="381.2" y2="789.4" stroke="#7a7a7a" stroke-width="0.9"/>
<line x1="381.2" y1="647.8" x2="381.2" y2="649.4" stroke="#7a7a7a" stroke-width="0.9"/>
<line x1="412.4" y1="791" x2="412.4" y2="789.4" stroke="#7a7a7a" stroke-width="0.9"/>
<line x1="412.4" y1="647.8" x2="412.4" y2="649.4" stroke="#7a7a7a" stroke-width="0.9"/>
<line x1="443.6" y1="791" x2="443.6" y2="789.4" stroke="#7a7a7a" stroke-width="0.9"/>
<line x1="443.6" y1="647.8" x2="443.6" y2="649.4" stroke="#7a7a7a" stroke-width="0.9"/>
<line x1="255.5" y1="791" x2="257.1" y2="791" stroke="#7a7a7a" stroke-width="0.9"/>
<line x1="443.8" y1="791" x2="442.2" y2="791" stroke="#7a7a7a" stroke-width="0.9"/>
<line x1="255.5" y1="747.67" x2="257.1" y2="747.67" stroke="#7a7a7a" stroke-width="0.9"/>
<line x1="443.8" y1="747.67" x2="442.2" y2="747.67" stroke="#7a7a7a" stroke-width="0.9"/>
<line x1="255.5" y1="704.33" x2="257.1" y2="704.33" stroke="#7a7a7a" stroke-width="0.9"/>
<line x1="443.8" y1="704.33" x2="442.2" y2="704.33" stroke="#7a7a7a" stroke-width="0.9"/>
<line x1="255.5" y1="661" x2="257.1" y2="661" stroke="#7a7a7a" stroke-width="0.9"/>
<line x1="443.8" y1="661" x2="442.2" y2="661" stroke="#7a7a7a" stroke-width="0.9"/>
<line x1="255.5" y1="777.96" x2="256.7" y2="777.96" stroke="#7a7a7a" stroke-width="0.8"/>
<line x1="443.8" y1="777.96" x2="442.6" y2="777.96" stroke="#7a7a7a" stroke-width="0.8"/>
<line x1="255.5" y1="770.32" x2="256.7" y2="770.32" stroke="#7a7a7a" stroke-width="0.8"/>
<line x1="443.8" y1="770.32" x2="442.6" y2="770.32" stroke="#7a7a7a" stroke-width="0.8"/>
<line x1="255.5" y1="764.91" x2="256.7" y2="764.91" stroke="#7a7a7a" stroke-width="0.8"/>
<line x1="443.8" y1="764.91" x2="442.6" y2="764.91" stroke="#7a7a7a" stroke-width="0.8"/>
<line x1="255.5" y1="760.71" x2="256.7" y2="760.71" stroke="#7a7a7a" stroke-width="0.8"/>
<line x1="443.8" y1="760.71" x2="442.6" y2="760.71" stroke="#7a7a7a" stroke-width="0.8"/>
<line x1="255.5" y1="757.28" x2="256.7" y2="757.28" stroke="#7a7a7a" stroke-width="0.8"/>
<line x1="443.8" y1="757.28" x2="442.6" y2="757.28" stroke="#7a7a7a" stroke-width="0.8"/>
<line x1="255.5" y1="754.38" x2="256.7" y2="754.38" stroke="#7a7a7a" stroke-width="0.8"/>
<line x1="443.8" y1="754.38" x2="442.6" y2="754.38" stroke="#7a7a7a" stroke-width="0.8"/>
<line x1="255.5" y1="751.87" x2="256.7" y2="751.87" stroke="#7a7a7a" stroke-width="0.8"/>
<line x1="443.8" y1="751.87" x2="442.6" y2="751.87" stroke="#7a7a7a" stroke-width="0.8"/>
<line x1="255.5" y1="749.65" x2="256.7" y2="749.65" stroke="#7a7a7a" stroke-width="0.8"/>
<line x1="443.8" y1="749.65" x2="442.6" y2="749.65" stroke="#7a7a7a" stroke-width="0.8"/>
<line x1="255.5" y1="734.62" x2="256.7" y2="734.62" stroke="#7a7a7a" stroke-width="0.8"/>
<line x1="443.8" y1="734.62" x2="442.6" y2="734.62" stroke="#7a7a7a" stroke-width="0.8"/>
<line x1="255.5" y1="726.99" x2="256.7" y2="726.99" stroke="#7a7a7a" stroke-width="0.8"/>
<line x1="443.8" y1="726.99" x2="442.6" y2="726.99" stroke="#7a7a7a" stroke-width="0.8"/>
<line x1="255.5" y1="721.58" x2="256.7" y2="721.58" stroke="#7a7a7a" stroke-width="0.8"/>
<line x1="443.8" y1="721.58" x2="442.6" y2="721.58" stroke="#7a7a7a" stroke-width="0.8"/>
<line x1="255.5" y1="717.38" x2="256.7" y2="717.38" stroke="#7a7a7a" stroke-width="0.8"/>
<line x1="443.8" y1="717.38" x2="442.6" y2="717.38" stroke="#7a7a7a" stroke-width="0.8"/>
<line x1="255.5" y1="713.95" x2="256.7" y2="713.95" stroke="#7a7a7a" stroke-width="0.8"/>
<line x1="443.8" y1="713.95" x2="442.6" y2="713.95" stroke="#7a7a7a" stroke-width="0.8"/>
<line x1="255.5" y1="711.05" x2="256.7" y2="711.05" stroke="#7a7a7a" stroke-width="0.8"/>
<line x1="443.8" y1="711.05" x2="442.6" y2="711.05" stroke="#7a7a7a" stroke-width="0.8"/>
<line x1="255.5" y1="708.53" x2="256.7" y2="708.53" stroke="#7a7a7a" stroke-width="0.8"/>
<line x1="443.8" y1="708.53" x2="442.6" y2="708.53" stroke="#7a7a7a" stroke-width="0.8"/>
<line x1="255.5" y1="706.32" x2="256.7" y2="706.32" stroke="#7a7a7a" stroke-width="0.8"/>
<line x1="443.8" y1="706.32" x2="442.6" y2="706.32" stroke="#7a7a7a" stroke-width="0.8"/>
<line x1="255.5" y1="691.29" x2="256.7" y2="691.29" stroke="#7a7a7a" stroke-width="0.8"/>
<line x1="443.8" y1="691.29" x2="442.6" y2="691.29" stroke="#7a7a7a" stroke-width="0.8"/>
<line x1="255.5" y1="683.66" x2="256.7" y2="683.66" stroke="#7a7a7a" stroke-width="0.8"/>
<line x1="443.8" y1="683.66" x2="442.6" y2="683.66" stroke="#7a7a7a" stroke-width="0.8"/>
<line x1="255.5" y1="678.24" x2="256.7" y2="678.24" stroke="#7a7a7a" stroke-width="0.8"/>
<line x1="443.8" y1="678.24" x2="442.6" y2="678.24" stroke="#7a7a7a" stroke-width="0.8"/>
<line x1="255.5" y1="674.04" x2="256.7" y2="674.04" stroke="#7a7a7a" stroke-width="0.8"/>
<line x1="443.8" y1="674.04" x2="442.6" y2="674.04" stroke="#7a7a7a" stroke-width="0.8"/>
<line x1="255.5" y1="670.61" x2="256.7" y2="670.61" stroke="#7a7a7a" stroke-width="0.8"/>
<line x1="443.8" y1="670.61" x2="442.6" y2="670.61" stroke="#7a7a7a" stroke-width="0.8"/>
<line x1="255.5" y1="667.71" x2="256.7" y2="667.71" stroke="#7a7a7a" stroke-width="0.8"/>
<line x1="443.8" y1="667.71" x2="442.6" y2="667.71" stroke="#7a7a7a" stroke-width="0.8"/>
<line x1="255.5" y1="665.2" x2="256.7" y2="665.2" stroke="#7a7a7a" stroke-width="0.8"/>
<line x1="443.8" y1="665.2" x2="442.6" y2="665.2" stroke="#7a7a7a" stroke-width="0.8"/>
<line x1="255.5" y1="662.98" x2="256.7" y2="662.98" stroke="#7a7a7a" stroke-width="0.8"/>
<line x1="443.8" y1="662.98" x2="442.6" y2="662.98" stroke="#7a7a7a" stroke-width="0.8"/>
<line x1="255.5" y1="647.96" x2="256.7" y2="647.96" stroke="#7a7a7a" stroke-width="0.8"/>
<line x1="443.8" y1="647.96" x2="442.6" y2="647.96" stroke="#7a7a7a" stroke-width="0.8"/>
<rect x="349.6" y="677.2" width="28.6" height="90" fill="#fce9bb" fill-opacity="0.85" stroke="#fbbd1d" stroke-width="1.3"/>
<polyline points="264.2,762.9 272,762.78 279.8,762.66 287.6,762.55 295.4,762.43 303.2,762.31 311,762.19 318.8,762.07 326.6,761.95 334.4,761.84 342.2,761.72 350,761.6 349.5,761.3 378,709.4 383,697.8 389.2,687.8 395.9,662 404.5,657.5 412,654 420,651.3" fill="none" stroke="#0000ff" stroke-width="2.1" stroke-linejoin="round" stroke-linecap="round"/>
<circle cx="264.2" cy="762.9" r="1.9" fill="#0000ff"/>
<circle cx="272" cy="762.78" r="1.9" fill="#0000ff"/>
<circle cx="279.8" cy="762.66" r="1.9" fill="#0000ff"/>
<circle cx="287.6" cy="762.55" r="1.9" fill="#0000ff"/>
<circle cx="295.4" cy="762.43" r="1.9" fill="#0000ff"/>
<circle cx="303.2" cy="762.31" r="1.9" fill="#0000ff"/>
<circle cx="311" cy="762.19" r="1.9" fill="#0000ff"/>
<circle cx="318.8" cy="762.07" r="1.9" fill="#0000ff"/>
<circle cx="326.6" cy="761.95" r="1.9" fill="#0000ff"/>
<circle cx="334.4" cy="761.84" r="1.9" fill="#0000ff"/>
<circle cx="342.2" cy="761.72" r="1.9" fill="#0000ff"/>
<circle cx="350" cy="761.6" r="1.9" fill="#0000ff"/>
<circle cx="378" cy="709.4" r="1.9" fill="#0000ff"/>
<circle cx="383" cy="697.8" r="1.9" fill="#0000ff"/>
<circle cx="389.2" cy="687.8" r="1.9" fill="#0000ff"/>
<circle cx="395.9" cy="662" r="1.9" fill="#0000ff"/>
<circle cx="404.5" cy="657.5" r="1.9" fill="#0000ff"/>
<circle cx="412" cy="654" r="1.9" fill="#0000ff"/>
<circle cx="420" cy="651.3" r="1.9" fill="#0000ff"/>
<polyline points="264.2,737.7 272,737.7 279.8,737.7 287.6,737.7 295.4,737.7 303.2,737.7 311,737.7 318.8,737.7 326.6,737.7 334.4,737.7 342.2,737.7 350,737.7 349.5,737.9 378,709.4 389.2,699.1 395.9,681.7 404.5,680.3 412,679 420,676.3" fill="none" stroke="#ff0000" stroke-width="2.3" stroke-linejoin="round" stroke-linecap="round"/>
<circle cx="264.2" cy="737.7" r="1.9" fill="#ff0000"/>
<circle cx="272" cy="737.7" r="1.9" fill="#ff0000"/>
<circle cx="279.8" cy="737.7" r="1.9" fill="#ff0000"/>
<circle cx="287.6" cy="737.7" r="1.9" fill="#ff0000"/>
<circle cx="295.4" cy="737.7" r="1.9" fill="#ff0000"/>
<circle cx="303.2" cy="737.7" r="1.9" fill="#ff0000"/>
<circle cx="311" cy="737.7" r="1.9" fill="#ff0000"/>
<circle cx="318.8" cy="737.7" r="1.9" fill="#ff0000"/>
<circle cx="326.6" cy="737.7" r="1.9" fill="#ff0000"/>
<circle cx="334.4" cy="737.7" r="1.9" fill="#ff0000"/>
<circle cx="342.2" cy="737.7" r="1.9" fill="#ff0000"/>
<circle cx="350" cy="737.7" r="1.9" fill="#ff0000"/>
<circle cx="378" cy="709.4" r="1.9" fill="#ff0000"/>
<circle cx="389.2" cy="699.1" r="1.9" fill="#ff0000"/>
<circle cx="395.9" cy="681.7" r="1.9" fill="#ff0000"/>
<circle cx="404.5" cy="680.3" r="1.9" fill="#ff0000"/>
<circle cx="412" cy="679" r="1.9" fill="#ff0000"/>
<circle cx="420" cy="676.3" r="1.9" fill="#ff0000"/>
<line x1="378.3" y1="667" x2="378.3" y2="773.8" stroke="#111" stroke-width="1.9" stroke-dasharray="5.2,4"/>
<line x1="349.1" y1="770.8" x2="378.7" y2="770.8" stroke="#fbb417" stroke-width="1.6"/>
<path d="M349.1,770.8 l3.8,-2.6 M349.1,770.8 l3.8,2.6 M378.7,770.8 l-3.8,-2.6 M378.7,770.8 l-3.8,2.6" stroke="#fbb417" stroke-width="1.4" fill="none" stroke-linecap="round"/>
<text x="364.5" y="781.6" font-size="10.2" text-anchor="middle" fill="#fbb41d" font-weight="bold" font-family="Liberation Serif">Δt<tspan font-size="8.8" dy="2">gel</tspan></text>
<text x="303" y="685.8" font-size="9" text-anchor="middle" font-weight="bold" fill="#000" font-family="Liberation Sans" style="white-space:pre">Liquid-like</text>
<text x="415" y="755.5" font-size="9" text-anchor="middle" font-weight="bold" fill="#000" font-family="Liberation Sans" style="white-space:pre">Solid-like</text>
<text x="256.4" y="800.3" font-size="5.8" text-anchor="middle" font-weight="normal" fill="#333" font-family="Liberation Sans" style="white-space:pre">0</text>
<text x="287.6" y="800.3" font-size="5.8" text-anchor="middle" font-weight="normal" fill="#333" font-family="Liberation Sans" style="white-space:pre">20</text>
<text x="318.8" y="800.3" font-size="5.8" text-anchor="middle" font-weight="normal" fill="#333" font-family="Liberation Sans" style="white-space:pre">40</text>
<text x="350" y="800.3" font-size="5.8" text-anchor="middle" font-weight="normal" fill="#333" font-family="Liberation Sans" style="white-space:pre">60</text>
<text x="381.2" y="800.3" font-size="5.8" text-anchor="middle" font-weight="normal" fill="#333" font-family="Liberation Sans" style="white-space:pre">80</text>
<text x="412.4" y="800.3" font-size="5.8" text-anchor="middle" font-weight="normal" fill="#333" font-family="Liberation Sans" style="white-space:pre">100</text>
<text x="443.6" y="800.3" font-size="5.8" text-anchor="middle" font-weight="normal" fill="#333" font-family="Liberation Sans" style="white-space:pre">120</text>
<text x="253" y="792.8" font-size="5.6" text-anchor="end" font-weight="normal" fill="#1a1a1a" font-family="Liberation Sans" transform="rotate(-6 253 792.8)" style="white-space:pre">10<tspan font-size="4.03" dy="-2.2">0</tspan></text>
<text x="253" y="749.47" font-size="5.6" text-anchor="end" font-weight="normal" fill="#1a1a1a" font-family="Liberation Sans" transform="rotate(-6 253 749.47)" style="white-space:pre">10<tspan font-size="4.03" dy="-2.2">1</tspan></text>
<text x="253" y="706.13" font-size="5.6" text-anchor="end" font-weight="normal" fill="#1a1a1a" font-family="Liberation Sans" transform="rotate(-6 253 706.13)" style="white-space:pre">10<tspan font-size="4.03" dy="-2.2">2</tspan></text>
<text x="253" y="662.8" font-size="5.6" text-anchor="end" font-weight="normal" fill="#1a1a1a" font-family="Liberation Sans" transform="rotate(-6 253 662.8)" style="white-space:pre">10<tspan font-size="4.03" dy="-2.2">3</tspan></text>
<text x="349" y="814" font-size="11.5" text-anchor="middle" font-weight="bold" fill="#000" font-family="Liberation Sans" style="white-space:pre">t [sec]</text>
<text x="238.5" y="719.6" font-size="11.5" text-anchor="middle" font-weight="bold" fill="#000" font-family="Liberation Sans" transform="rotate(-90 238.5 719.6)" style="white-space:pre">G', G''  [Pa]</text>
<text x="236.9" y="638.9" font-size="13.5" text-anchor="start" font-weight="bold" fill="#000" font-family="Liberation Sans" style="white-space:pre">h)</text>
</svg></body></html>
